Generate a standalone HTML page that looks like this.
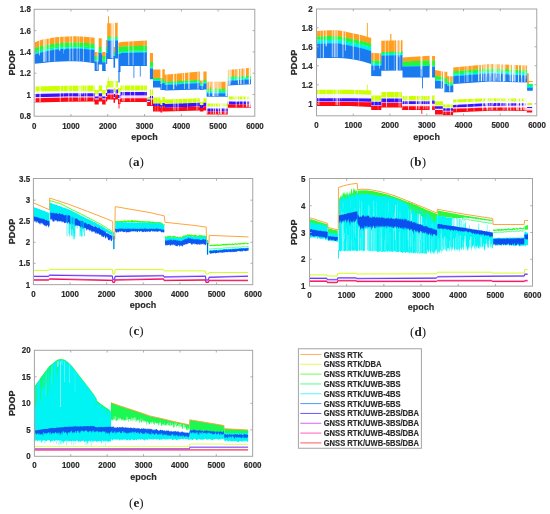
<!DOCTYPE html>
<html><head><meta charset="utf-8"><title>PDOP</title>
<style>
html,body{margin:0;padding:0;background:#fff;}
body{width:550px;height:514px;overflow:hidden;}
svg{display:block;}
svg text{font-family:"Liberation Sans",sans-serif;font-weight:bold;fill:#2a2a2a;stroke:#2a2a2a;stroke-width:0.18px;}
svg text.cap{font-family:"Liberation Serif",serif;font-weight:normal;fill:#222;stroke:none;}
svg text.cap tspan{font-weight:bold;}
</style></head><body>
<svg width="550" height="514" viewBox="0 0 550 514">
<rect width="550" height="514" fill="#fff"/>
<polygon points="34.6,42.2 42.7,39.6 49.1,38.4 55.5,37.3 61.8,36.7 68.2,36.5 74.5,36.3 80.9,36.5 87.3,37 94.6,37.7 94.6,52.1 98.7,52.1 98.7,38.3 102.1,38.3 102.1,52.1 105.9,52.1 105.9,40 107.2,40 107.2,23.2 113.5,23.2 113.5,47 115.1,47 115.1,22.8 118,22.8 118,42.5 120.5,42.5 120.5,41.9 146.9,40.4 146.9,72 149.9,72 149.9,53.1 153,53.1 153,69.6 160.4,69.6 160.4,78 162.3,78 162.3,69.3 164.8,69.3 164.8,74.7 199.8,71.5 199.8,80.5 203.4,80.5 203.4,71.5 206.6,71.5 206.6,81.7 227.8,81.7 227.8,70 251,67.7 251,75.75 227.8,76.85 227.8,88.95 206.6,88.95 206.6,80.05 203.4,80.05 203.4,83.25 199.8,83.25 199.8,80.05 164.8,81.95 164.8,79.25 162.3,79.25 162.3,81.25 160.4,81.25 160.4,78.15 153,78.15 153,62.25 149.9,62.25 149.9,72 146.9,72 146.9,45.75 120.5,46.65 120.5,47.25 118,47.25 118,36.45 115.1,36.45 115.1,52.25 113.5,52.25 113.5,37.05 107.2,37.05 107.2,47.25 105.9,47.25 105.9,56.15 102.1,56.15 102.1,47.25 98.7,47.25 98.7,56.15 94.6,56.15 94.6,43.95 87.3,43.25 80.9,42.75 74.5,42.55 68.2,42.75 61.8,42.95 55.5,43.55 49.1,44.65 42.7,45.85 34.6,48.45" fill="#ff9e20"/>
<polygon points="34.6,48.2 42.7,45.6 49.1,44.4 55.5,43.3 61.8,42.7 68.2,42.5 74.5,42.3 80.9,42.5 87.3,43 94.6,43.7 94.6,55.9 98.7,55.9 98.7,47 102.1,47 102.1,55.9 105.9,55.9 105.9,47 107.2,47 107.2,36.8 113.5,36.8 113.5,52 115.1,52 115.1,36.2 118,36.2 118,47 120.5,47 120.5,46.4 146.9,45.5 146.9,72 149.9,72 149.9,62 153,62 153,77.9 160.4,77.9 160.4,81 162.3,81 162.3,79 164.8,79 164.8,81.7 199.8,79.8 199.8,83 203.4,83 203.4,79.8 206.6,79.8 206.6,88.7 227.8,88.7 227.8,76.6 251,75.5 251,77.75 227.8,78.75 227.8,90.85 206.6,90.85 206.6,81.95 203.4,81.95 203.4,84.75 199.8,84.75 199.8,81.95 164.8,83.85 164.8,81.25 162.3,81.25 162.3,82.75 160.4,82.75 160.4,80.05 153,80.05 153,66.75 149.9,66.75 149.9,72 146.9,72 146.9,50.25 120.5,51.25 120.5,51.25 118,51.25 118,38.55 115.1,38.55 115.1,54.25 113.5,54.25 113.5,38.75 107.2,38.75 107.2,50.25 105.9,50.25 105.9,59.75 102.1,59.75 102.1,51.05 98.7,51.05 98.7,59.95 94.6,59.95 94.6,47.35 87.3,46.65 80.9,46.15 74.5,45.95 68.2,46.15 61.8,46.35 55.5,46.95 49.1,48.05 42.7,49.25 34.6,51.85" fill="#30f232"/>
<polygon points="34.6,51.6 42.7,49 49.1,47.8 55.5,46.7 61.8,46.1 68.2,45.9 74.5,45.7 80.9,45.9 87.3,46.4 94.6,47.1 94.6,59.7 98.7,59.7 98.7,50.8 102.1,50.8 102.1,59.5 105.9,59.5 105.9,50 107.2,50 107.2,38.5 113.5,38.5 113.5,54 115.1,54 115.1,38.3 118,38.3 118,51 120.5,51 120.5,51 146.9,50 146.9,72 149.9,72 149.9,66.5 153,66.5 153,79.8 160.4,79.8 160.4,82.5 162.3,82.5 162.3,81 164.8,81 164.8,83.6 199.8,81.7 199.8,84.5 203.4,84.5 203.4,81.7 206.6,81.7 206.6,90.6 227.8,90.6 227.8,78.5 251,77.5 251,78.45 227.8,79.45 227.8,92.15 206.6,92.15 206.6,82.55 203.4,82.55 203.4,84.95 199.8,84.95 199.8,81.95 164.8,83.85 164.8,81.95 162.3,81.95 162.3,82.95 160.4,82.95 160.4,80.05 153,80.05 153,67.45 149.9,67.45 149.9,72 146.9,72 146.9,51.45 120.5,52.05 120.5,52.95 118,52.95 118,39.35 115.1,39.35 115.1,54.95 113.5,54.95 113.5,39.35 107.2,39.35 107.2,51.95 105.9,51.95 105.9,61.25 102.1,61.25 102.1,52.05 98.7,52.05 98.7,60.55 94.6,60.55 94.6,48.85 87.3,48.15 80.9,47.65 74.5,47.45 68.2,47.65 61.8,47.85 55.5,48.45 49.1,49.55 42.7,50.75 34.6,53.35" fill="#00ff66"/>
<polygon points="34.6,53.1 42.7,50.5 49.1,49.3 55.5,48.2 61.8,47.6 68.2,47.4 74.5,47.2 80.9,47.4 87.3,47.9 94.6,48.6 94.6,60.3 98.7,60.3 98.7,51.8 102.1,51.8 102.1,61 105.9,61 105.9,51.7 107.2,51.7 107.2,39.1 113.5,39.1 113.5,54.7 115.1,54.7 115.1,39.1 118,39.1 118,52.7 120.5,52.7 120.5,51.8 146.9,51.2 146.9,72 149.9,72 149.9,67.2 153,67.2 153,79.8 160.4,79.8 160.4,82.7 162.3,82.7 162.3,81.7 164.8,81.7 164.8,83.6 199.8,81.7 199.8,84.7 203.4,84.7 203.4,82.3 206.6,82.3 206.6,91.9 227.8,91.9 227.8,79.2 251,78.2 251,79.75 227.8,80.75 227.8,93.45 206.6,93.45 206.6,83.85 203.4,83.85 203.4,86.25 199.8,86.25 199.8,83.25 164.8,85.15 164.8,83.25 162.3,83.25 162.3,84.25 160.4,84.25 160.4,81.35 153,81.35 153,68.75 149.9,68.75 149.9,72 146.9,72 146.9,52.75 120.5,53.35 120.5,54.25 118,54.25 118,40.65 115.1,40.65 115.1,56.25 113.5,56.25 113.5,40.65 107.2,40.65 107.2,53.25 105.9,53.25 105.9,62.55 102.1,62.55 102.1,53.35 98.7,53.35 98.7,61.85 94.6,61.85 94.6,50.25 87.3,49.55 80.9,49.05 74.5,48.85 68.2,49.05 61.8,49.25 55.5,49.85 49.1,50.95 42.7,52.15 34.6,54.75" fill="#00f0f0"/>
<polygon points="34.6,54.5 42.7,51.9 49.1,50.7 55.5,49.6 61.8,49 68.2,48.8 74.5,48.6 80.9,48.8 87.3,49.3 94.6,50 94.6,61.6 98.7,61.6 98.7,53.1 102.1,53.1 102.1,62.3 105.9,62.3 105.9,53 107.2,53 107.2,40.4 113.5,40.4 113.5,56 115.1,56 115.1,40.4 118,40.4 118,54 120.5,54 120.5,53.1 146.9,52.5 146.9,72 149.9,72 149.9,68.5 153,68.5 153,81.1 160.4,81.1 160.4,84 162.3,84 162.3,83 164.8,83 164.8,84.9 199.8,83 199.8,86 203.4,86 203.4,83.6 206.6,83.6 206.6,93.2 227.8,93.2 227.8,80.5 251,79.5 251,84.3 227.8,85.5 227.8,96.7 206.6,96.7 206.6,89.4 203.4,89.4 203.4,90 199.8,90 199.8,89.4 164.8,90.4 164.8,90 162.3,90 162.3,90 160.4,90 160.4,87.5 153,87.5 153,79.2 149.9,79.2 149.9,72 146.9,72 146.9,65.8 120.5,66.1 120.5,72 118,72 118,58.5 115.1,58.5 115.1,67.7 113.5,67.7 113.5,59.1 107.2,59.1 107.2,64 105.9,64 105.9,70.9 102.1,70.9 102.1,64.5 98.7,64.5 98.7,70.9 94.6,70.9 94.6,63.3 87.3,62.3 80.9,61.6 74.5,61.3 68.2,61.3 61.8,61.4 55.5,61.8 49.1,62.3 42.7,62.9 34.6,63.8" fill="#1a7af0"/>
<line x1="108.5" y1="16.2" x2="108.5" y2="24" stroke="#ff9e20" stroke-width="1"/>
<line x1="119" y1="70" x2="119" y2="82.4" stroke="#1a7af0" stroke-width="1.2"/>
<line x1="133.9" y1="65" x2="133.9" y2="77.9" stroke="#1a7af0" stroke-width="0.8"/>
<line x1="140.3" y1="65" x2="140.3" y2="76.6" stroke="#1a7af0" stroke-width="0.8"/>
<rect x="89.8" y="36.97" width="0.61" height="25.36" fill="#fff" opacity="0.74"/>
<rect x="97.01" y="51.8" width="0.54" height="18.77" fill="#fff" opacity="0.7"/>
<rect x="46.29" y="38.57" width="0.56" height="23.08" fill="#fff" opacity="0.56"/>
<rect x="72.39" y="36.05" width="0.94" height="24.54" fill="#fff" opacity="0.68"/>
<rect x="201.66" y="80.2" width="0.53" height="9.3" fill="#fff" opacity="0.56"/>
<rect x="54.43" y="37.12" width="0.72" height="24.31" fill="#fff" opacity="0.76"/>
<rect x="143.73" y="40.26" width="0.76" height="25.23" fill="#fff" opacity="0.53"/>
<rect x="69.41" y="36.15" width="0.98" height="24.63" fill="#fff" opacity="0.76"/>
<rect x="111.92" y="22.9" width="0.71" height="35.41" fill="#fff" opacity="0.61"/>
<rect x="132.62" y="40.89" width="0.87" height="24.26" fill="#fff" opacity="0.63"/>
<rect x="202.31" y="80.2" width="0.58" height="8.97" fill="#fff" opacity="0.57"/>
<rect x="118.14" y="42.2" width="0.53" height="28.96" fill="#fff" opacity="0.76"/>
<rect x="184.3" y="72.58" width="0.72" height="16.53" fill="#fff" opacity="0.76"/>
<rect x="112.25" y="22.9" width="1.09" height="35.57" fill="#fff" opacity="0.8"/>
<rect x="44.5" y="38.87" width="0.99" height="22.82" fill="#fff" opacity="0.87"/>
<rect x="82.99" y="36.39" width="0.77" height="25.16" fill="#fff" opacity="0.71"/>
<rect x="63.11" y="36.35" width="0.58" height="17.21" fill="#fff" opacity="0.56"/>
<rect x="76.65" y="36.08" width="0.77" height="24.98" fill="#fff" opacity="0.7"/>
<rect x="128.21" y="41.13" width="1.12" height="23.97" fill="#fff" opacity="0.63"/>
<rect x="105.41" y="51.8" width="0.75" height="18.13" fill="#fff" opacity="0.57"/>
<rect x="64.47" y="36.31" width="0.66" height="13.72" fill="#fff" opacity="0.77"/>
<rect x="79.38" y="36.16" width="0.5" height="24.82" fill="#fff" opacity="0.75"/>
<rect x="197.47" y="71.37" width="0.98" height="17.35" fill="#fff" opacity="0.8"/>
<rect x="43.29" y="39.08" width="1.13" height="22.8" fill="#fff" opacity="0.86"/>
<rect x="101.46" y="38" width="0.78" height="16.47" fill="#fff" opacity="0.53"/>
<rect x="45.82" y="38.65" width="0.65" height="11.4" fill="#fff" opacity="0.52"/>
<rect x="34.34" y="41.89" width="0.61" height="10.71" fill="#fff" opacity="0.51"/>
<rect x="184" y="72.6" width="0.93" height="7.52" fill="#fff" opacity="0.66"/>
<rect x="96.72" y="51.8" width="0.59" height="18.1" fill="#fff" opacity="0.71"/>
<rect x="117.25" y="22.5" width="0.56" height="17.13" fill="#fff" opacity="0.62"/>
<rect x="176.36" y="73.32" width="0.61" height="13.05" fill="#fff" opacity="0.74"/>
<rect x="59.29" y="36.6" width="0.88" height="14.2" fill="#fff" opacity="0.94"/>
<rect x="182.08" y="72.77" width="0.99" height="8.43" fill="#fff" opacity="0.58"/>
<rect x="166.47" y="74.21" width="0.87" height="15.6" fill="#fff" opacity="0.6"/>
<rect x="173.1" y="73.59" width="1.19" height="15.69" fill="#fff" opacity="0.87"/>
<rect x="161.08" y="77.7" width="0.66" height="11.75" fill="#fff" opacity="0.51"/>
<rect x="39.04" y="40.36" width="0.7" height="14.91" fill="#fff" opacity="0.93"/>
<rect x="110.68" y="22.9" width="1.16" height="35.23" fill="#fff" opacity="0.66"/>
<rect x="72.06" y="36.07" width="0.66" height="10.33" fill="#fff" opacity="0.78"/>
<rect x="188.37" y="72.2" width="1.09" height="16.76" fill="#fff" opacity="0.86"/>
<rect x="48.65" y="38.09" width="0.96" height="23.36" fill="#fff" opacity="0.84"/>
<rect x="227.57" y="69.7" width="0.51" height="15.27" fill="#fff" opacity="0.9"/>
<rect x="249.42" y="67.52" width="0.64" height="15.88" fill="#fff" opacity="0.86"/>
<rect x="213.91" y="81.4" width="0.48" height="11.59" fill="#fff" opacity="0.9"/>
<rect x="212.64" y="81.4" width="0.9" height="14.54" fill="#fff" opacity="0.68"/>
<rect x="230.72" y="69.39" width="0.48" height="12.59" fill="#fff" opacity="0.82"/>
<rect x="229.5" y="69.48" width="0.96" height="14.99" fill="#fff" opacity="0.91"/>
<rect x="215.69" y="81.4" width="0.55" height="6.6" fill="#fff" opacity="0.79"/>
<rect x="217.79" y="81.4" width="0.65" height="11.63" fill="#fff" opacity="0.68"/>
<rect x="226.57" y="81.4" width="0.75" height="14.71" fill="#fff" opacity="0.96"/>
<rect x="228.51" y="69.59" width="0.72" height="15.54" fill="#fff" opacity="0.72"/>
<rect x="214.53" y="81.4" width="0.4" height="14.88" fill="#fff" opacity="0.74"/>
<rect x="238.43" y="68.61" width="0.73" height="9.26" fill="#fff" opacity="0.78"/>
<rect x="241.19" y="68.35" width="0.46" height="15.97" fill="#fff" opacity="0.64"/>
<rect x="240.54" y="68.4" width="0.7" height="15.59" fill="#fff" opacity="0.96"/>
<rect x="225.9" y="81.4" width="0.77" height="14.64" fill="#fff" opacity="0.85"/>
<rect x="226.32" y="81.4" width="0.72" height="14.34" fill="#fff" opacity="0.85"/>
<rect x="245.04" y="67.94" width="0.97" height="9.77" fill="#fff" opacity="0.97"/>
<rect x="243.65" y="68.1" width="0.48" height="8.77" fill="#fff" opacity="0.54"/>
<rect x="217.06" y="81.4" width="0.44" height="14.45" fill="#fff" opacity="0.95"/>
<rect x="213.04" y="81.4" width="0.83" height="14.9" fill="#fff" opacity="0.94"/>
<rect x="249.29" y="67.54" width="0.53" height="16.25" fill="#fff" opacity="0.74"/>
<rect x="250.1" y="67.44" width="0.9" height="8.85" fill="#fff" opacity="0.76"/>
<rect x="221.4" y="81.4" width="0.52" height="10.22" fill="#fff" opacity="0.51"/>
<rect x="230.87" y="69.36" width="0.66" height="7.59" fill="#fff" opacity="0.81"/>
<rect x="229.13" y="69.55" width="0.44" height="15.02" fill="#fff" opacity="0.99"/>
<rect x="210.97" y="81.4" width="0.56" height="10.64" fill="#fff" opacity="0.64"/>
<rect x="212.03" y="81.4" width="0.65" height="14.43" fill="#fff" opacity="0.63"/>
<rect x="212.76" y="81.4" width="0.95" height="14.51" fill="#fff" opacity="0.54"/>
<rect x="208.75" y="81.4" width="0.81" height="14.95" fill="#fff" opacity="0.97"/>
<rect x="234.33" y="69.01" width="0.88" height="11.83" fill="#fff" opacity="0.53"/>
<rect x="244.57" y="68" width="0.67" height="9.7" fill="#fff" opacity="0.96"/>
<rect x="218.25" y="81.4" width="0.48" height="14.83" fill="#fff" opacity="0.55"/>
<rect x="213.55" y="81.4" width="0.43" height="7.14" fill="#fff" opacity="0.65"/>
<rect x="240.03" y="68.46" width="0.57" height="15.97" fill="#fff" opacity="0.67"/>
<rect x="207.13" y="81.4" width="0.55" height="10.3" fill="#fff" opacity="0.78"/>
<rect x="214.67" y="81.4" width="0.68" height="14.93" fill="#fff" opacity="0.91"/>
<rect x="225.44" y="81.4" width="0.7" height="14.72" fill="#fff" opacity="0.75"/>
<rect x="236.64" y="68.77" width="0.99" height="11.72" fill="#fff" opacity="0.85"/>
<rect x="234.52" y="69" width="0.64" height="5.48" fill="#fff" opacity="0.56"/>
<rect x="209.32" y="81.4" width="0.84" height="6.02" fill="#fff" opacity="0.54"/>
<rect x="243.49" y="68.1" width="0.92" height="16.07" fill="#fff" opacity="0.62"/>
<rect x="219.27" y="81.4" width="0.68" height="8.14" fill="#fff" opacity="0.63"/>
<rect x="248.81" y="67.57" width="0.98" height="16.35" fill="#fff" opacity="0.98"/>
<rect x="220.04" y="81.4" width="0.61" height="7.66" fill="#fff" opacity="0.74"/>
<rect x="228.66" y="69.59" width="0.52" height="15.55" fill="#fff" opacity="0.63"/>
<rect x="210.27" y="81.4" width="0.64" height="4.97" fill="#fff" opacity="0.65"/>
<rect x="216.56" y="81.4" width="0.75" height="14.47" fill="#fff" opacity="0.83"/>
<rect x="237.93" y="68.65" width="0.93" height="15.77" fill="#fff" opacity="0.99"/>
<polygon points="34.6,86.5 68,85.8 94.6,85.5 94.6,90 98.7,90 98.7,85.5 102.1,85.5 102.1,90 105.9,90 105.9,85.5 107.2,85.5 107.2,81.1 113.5,81.1 113.5,88 115.1,88 115.1,81.1 118,81.1 118,88 120.5,88 120.5,85.5 146.9,85.5 146.9,97 149.9,97 149.9,89.4 153,89.4 153,97.6 160.4,97.6 160.4,100 162.3,100 162.3,97 164.8,97 164.8,99.5 199.8,98.3 199.8,102 203.4,102 203.4,98.3 206.6,98.3 206.6,103.4 227.8,103.4 227.8,96.4 251,96.4 251,99.75 227.8,99.75 227.8,106.75 206.6,106.75 206.6,102.75 203.4,102.75 203.4,105.05 199.8,105.05 199.8,102.75 164.8,104.05 164.8,103.05 162.3,103.05 162.3,105.05 160.4,105.05 160.4,103.45 153,103.45 153,95.95 149.9,95.95 149.9,99.25 146.9,99.25 146.9,90.75 120.5,90.75 120.5,93.25 118,93.25 118,87.75 115.1,87.75 115.1,92.25 113.5,92.25 113.5,87.75 107.2,87.75 107.2,91.25 105.9,91.25 105.9,94.75 102.1,94.75 102.1,91.75 98.7,91.75 98.7,94.75 94.6,94.75 94.6,91.75 68,91.45 34.6,91.85" fill="#ccff00"/>
<polygon points="34.6,91.6 68,91.2 94.6,91.5 94.6,94.5 98.7,94.5 98.7,91.5 102.1,91.5 102.1,94.5 105.9,94.5 105.9,91 107.2,91 107.2,87.5 113.5,87.5 113.5,92 115.1,92 115.1,87.5 118,87.5 118,93 120.5,93 120.5,90.5 146.9,90.5 146.9,99 149.9,99 149.9,95.7 153,95.7 153,103.2 160.4,103.2 160.4,104.8 162.3,104.8 162.3,102.8 164.8,102.8 164.8,103.8 199.8,102.5 199.8,104.8 203.4,104.8 203.4,102.5 206.6,102.5 206.6,106.5 227.8,106.5 227.8,99.5 251,99.5 251,101.75 227.8,101.75 227.8,108.75 206.6,108.75 206.6,102.95 203.4,102.95 203.4,105.25 199.8,105.25 199.8,102.95 164.8,104.25 164.8,103.25 162.3,103.25 162.3,105.25 160.4,105.25 160.4,103.65 153,103.65 153,96.25 149.9,96.25 149.9,99.75 146.9,99.75 146.9,92.15 120.5,92.15 120.5,95.25 118,95.25 118,89.65 115.1,89.65 115.1,94.25 113.5,94.25 113.5,89.65 107.2,89.65 107.2,93.25 105.9,93.25 105.9,96.65 102.1,96.65 102.1,93.45 98.7,93.45 98.7,96.65 94.6,96.65 94.6,93.45 68,93.55 34.6,94.35" fill="#f4f0ff"/>
<polygon points="34.6,94.1 68,93.3 94.6,93.2 94.6,96.4 98.7,96.4 98.7,93.2 102.1,93.2 102.1,96.4 105.9,96.4 105.9,93 107.2,93 107.2,89.4 113.5,89.4 113.5,94 115.1,94 115.1,89.4 118,89.4 118,95 120.5,95 120.5,91.9 146.9,91.9 146.9,99.5 149.9,99.5 149.9,96 153,96 153,103.4 160.4,103.4 160.4,105 162.3,105 162.3,103 164.8,103 164.8,104 199.8,102.7 199.8,105 203.4,105 203.4,102.7 206.6,102.7 206.6,108.5 227.8,108.5 227.8,101.5 251,101.5 251,104.85 227.8,104.85 227.8,111.85 206.6,111.85 206.6,106.75 203.4,106.75 203.4,108.25 199.8,108.25 199.8,106.75 164.8,108.05 164.8,106.25 162.3,106.25 162.3,108.25 160.4,108.25 160.4,106.15 153,106.15 153,98.75 149.9,98.75 149.9,101.25 146.9,101.25 146.9,95.75 120.5,95.75 120.5,98.25 118,98.25 118,93.75 115.1,93.75 115.1,97.25 113.5,97.25 113.5,93.75 107.2,93.75 107.2,96.25 105.9,96.25 105.9,98.75 102.1,98.75 102.1,96.85 98.7,96.85 98.7,98.75 94.6,98.75 94.6,96.85 68,96.75 34.6,97.45" fill="#3a14ff"/>
<polygon points="34.6,97.2 68,96.5 94.6,96.6 94.6,98.5 98.7,98.5 98.7,96.6 102.1,96.6 102.1,98.5 105.9,98.5 105.9,96 107.2,96 107.2,93.5 113.5,93.5 113.5,97 115.1,97 115.1,93.5 118,93.5 118,98 120.5,98 120.5,95.5 146.9,95.5 146.9,101 149.9,101 149.9,98.5 153,98.5 153,105.9 160.4,105.9 160.4,108 162.3,108 162.3,106 164.8,106 164.8,107.8 199.8,106.5 199.8,108 203.4,108 203.4,106.5 206.6,106.5 206.6,111.6 227.8,111.6 227.8,104.6 251,104.6 251,104.85 227.8,104.85 227.8,111.85 206.6,111.85 206.6,106.75 203.4,106.75 203.4,108.25 199.8,108.25 199.8,106.75 164.8,108.05 164.8,106.25 162.3,106.25 162.3,108.25 160.4,108.25 160.4,106.15 153,106.15 153,99.75 149.9,99.75 149.9,102.25 146.9,102.25 146.9,98.55 120.5,98.55 120.5,99.25 118,99.25 118,94.75 115.1,94.75 115.1,98.25 113.5,98.25 113.5,94.75 107.2,94.75 107.2,97.25 105.9,97.25 105.9,99.75 102.1,99.75 102.1,97.85 98.7,97.85 98.7,99.75 94.6,99.75 94.6,97.85 68,97.75 34.6,98.45" fill="#ffd0f0"/>
<polygon points="34.6,98.2 68,97.5 94.6,97.6 94.6,99.5 98.7,99.5 98.7,97.6 102.1,97.6 102.1,99.5 105.9,99.5 105.9,97 107.2,97 107.2,94.5 113.5,94.5 113.5,98 115.1,98 115.1,94.5 118,94.5 118,99 120.5,99 120.5,98.3 146.9,98.3 146.9,102 149.9,102 149.9,99.5 153,99.5 153,105.9 160.4,105.9 160.4,108 162.3,108 162.3,106 164.8,106 164.8,107.8 199.8,106.5 199.8,108 203.4,108 203.4,106.5 206.6,106.5 206.6,111.6 227.8,111.6 227.8,104.6 251,104.6 251,107.8 227.8,107.8 227.8,114.6 206.6,114.6 206.6,110.4 203.4,110.4 203.4,111.5 199.8,111.5 199.8,110.4 164.8,111.6 164.8,111.6 162.3,111.6 162.3,112.5 160.4,112.5 160.4,111.6 153,111.6 153,105.9 149.9,105.9 149.9,106 146.9,106 146.9,102.1 120.5,102.1 120.5,104 118,104 118,99.5 115.1,99.5 115.1,102.7 113.5,102.7 113.5,99.5 107.2,99.5 107.2,101.5 105.9,101.5 105.9,104.6 102.1,104.6 102.1,101.5 98.7,101.5 98.7,104.6 94.6,104.6 94.6,101.5 68,101.7 34.6,102.6" fill="#ff0a14"/>
<line x1="108.3" y1="77.3" x2="108.3" y2="82" stroke="#ccff00" stroke-width="0.8"/>
<line x1="119" y1="103" x2="119" y2="108.5" stroke="#ff0a14" stroke-width="0.9"/>
<rect x="59.8" y="85.66" width="0.83" height="15.92" fill="#fff" opacity="0.82"/>
<rect x="187.09" y="98.42" width="0.78" height="11.53" fill="#fff" opacity="0.47"/>
<rect x="124.02" y="85.2" width="0.7" height="16.04" fill="#fff" opacity="0.81"/>
<rect x="134.24" y="85.2" width="0.94" height="16.11" fill="#fff" opacity="0.51"/>
<rect x="39.7" y="86.09" width="0.48" height="15.99" fill="#fff" opacity="0.82"/>
<rect x="129.94" y="85.2" width="0.78" height="16.12" fill="#fff" opacity="0.64"/>
<rect x="34.73" y="86.19" width="0.88" height="15.74" fill="#fff" opacity="0.67"/>
<rect x="147.38" y="96.7" width="0.44" height="8.82" fill="#fff" opacity="0.44"/>
<rect x="79.7" y="85.36" width="0.84" height="10.98" fill="#fff" opacity="0.89"/>
<rect x="118.95" y="87.7" width="0.63" height="15.52" fill="#fff" opacity="0.78"/>
<rect x="139.96" y="85.2" width="0.79" height="6.5" fill="#fff" opacity="0.53"/>
<rect x="161.7" y="99.7" width="0.58" height="12.49" fill="#fff" opacity="0.43"/>
<rect x="80.27" y="85.36" width="0.8" height="15.47" fill="#fff" opacity="0.55"/>
<rect x="122.79" y="85.2" width="0.68" height="16.52" fill="#fff" opacity="0.85"/>
<rect x="68.26" y="85.49" width="0.99" height="15.89" fill="#fff" opacity="0.63"/>
<rect x="174.64" y="98.85" width="0.98" height="11.91" fill="#fff" opacity="0.5"/>
<rect x="196.41" y="98.11" width="0.53" height="12" fill="#fff" opacity="0.66"/>
<rect x="197.66" y="98.07" width="0.48" height="11.74" fill="#fff" opacity="0.84"/>
<rect x="154.88" y="97.3" width="0.54" height="13.66" fill="#fff" opacity="0.41"/>
<rect x="34.87" y="86.19" width="0.7" height="15.88" fill="#fff" opacity="0.47"/>
<rect x="93.26" y="85.21" width="0.59" height="15.99" fill="#fff" opacity="0.78"/>
<rect x="178.19" y="98.73" width="0.47" height="11.6" fill="#fff" opacity="0.85"/>
<rect x="83.97" y="85.32" width="0.62" height="15.26" fill="#fff" opacity="0.69"/>
<rect x="96.1" y="89.7" width="0.66" height="5.03" fill="#fff" opacity="0.45"/>
<rect x="177.38" y="98.76" width="0.57" height="11.93" fill="#fff" opacity="0.53"/>
<rect x="121.92" y="85.2" width="0.51" height="15.93" fill="#fff" opacity="0.84"/>
<rect x="173.38" y="98.89" width="0.78" height="11.44" fill="#fff" opacity="0.67"/>
<rect x="157.72" y="97.3" width="0.43" height="13.68" fill="#fff" opacity="0.78"/>
<rect x="144.78" y="85.2" width="0.57" height="12.97" fill="#fff" opacity="0.46"/>
<rect x="115.23" y="80.8" width="0.61" height="12.62" fill="#fff" opacity="0.89"/>
<rect x="78.8" y="85.37" width="0.79" height="9.53" fill="#fff" opacity="0.6"/>
<rect x="63.03" y="85.6" width="0.5" height="12.29" fill="#fff" opacity="0.65"/>
<rect x="71.84" y="85.45" width="0.94" height="15.6" fill="#fff" opacity="0.47"/>
<rect x="67.35" y="85.51" width="0.45" height="5.8" fill="#fff" opacity="0.52"/>
<rect x="78.51" y="85.38" width="0.74" height="15.42" fill="#fff" opacity="0.61"/>
<rect x="105.18" y="89.7" width="0.71" height="14.36" fill="#fff" opacity="0.43"/>
<rect x="81.68" y="85.34" width="0.98" height="9.1" fill="#fff" opacity="0.71"/>
<rect x="182.23" y="98.59" width="0.53" height="5.43" fill="#fff" opacity="0.6"/>
<rect x="110.53" y="80.8" width="0.97" height="17.79" fill="#fff" opacity="0.41"/>
<rect x="39.71" y="86.08" width="0.83" height="15.74" fill="#fff" opacity="0.69"/>
<rect x="34.31" y="86.2" width="0.63" height="15.52" fill="#fff" opacity="0.83"/>
<rect x="200.97" y="101.7" width="0.55" height="3.88" fill="#fff" opacity="0.66"/>
<rect x="151.03" y="89.1" width="0.96" height="16.05" fill="#fff" opacity="0.78"/>
<rect x="112.62" y="80.8" width="0.73" height="13.02" fill="#fff" opacity="0.52"/>
<rect x="191.88" y="98.26" width="0.79" height="4.7" fill="#fff" opacity="0.53"/>
<rect x="143.25" y="85.2" width="0.82" height="5.86" fill="#fff" opacity="0.66"/>
<rect x="134.19" y="85.2" width="0.63" height="10.27" fill="#fff" opacity="0.41"/>
<rect x="85.94" y="85.29" width="0.68" height="15.52" fill="#fff" opacity="0.84"/>
<rect x="115.8" y="80.8" width="0.54" height="14.66" fill="#fff" opacity="0.75"/>
<rect x="87.08" y="85.28" width="0.41" height="15.5" fill="#fff" opacity="0.61"/>
<rect x="78.29" y="85.38" width="0.8" height="15.78" fill="#fff" opacity="0.42"/>
<rect x="221.28" y="103.1" width="0.65" height="11.06" fill="#fff" opacity="0.9"/>
<rect x="239.07" y="96.1" width="0.7" height="9.25" fill="#fff" opacity="0.66"/>
<rect x="242.74" y="96.1" width="0.54" height="8.05" fill="#fff" opacity="0.65"/>
<rect x="248.52" y="96.1" width="0.7" height="4.99" fill="#fff" opacity="0.71"/>
<rect x="235.65" y="96.1" width="0.97" height="5.96" fill="#fff" opacity="0.61"/>
<rect x="249.61" y="96.1" width="0.49" height="4.06" fill="#fff" opacity="0.7"/>
<rect x="246.01" y="96.1" width="0.93" height="10.7" fill="#fff" opacity="0.97"/>
<rect x="220.96" y="103.1" width="0.51" height="10.68" fill="#fff" opacity="0.52"/>
<rect x="235.79" y="96.1" width="0.63" height="11.17" fill="#fff" opacity="0.58"/>
<rect x="206.44" y="103.1" width="0.57" height="10.53" fill="#fff" opacity="0.56"/>
<rect x="249.15" y="96.1" width="0.52" height="10.82" fill="#fff" opacity="0.91"/>
<rect x="225.59" y="103.1" width="0.43" height="10.94" fill="#fff" opacity="0.96"/>
<rect x="214.86" y="103.1" width="0.62" height="11.18" fill="#fff" opacity="0.71"/>
<rect x="242.22" y="96.1" width="0.86" height="3.92" fill="#fff" opacity="0.53"/>
<rect x="247.17" y="96.1" width="0.55" height="10.77" fill="#fff" opacity="0.67"/>
<rect x="218.2" y="103.1" width="0.97" height="11.02" fill="#fff" opacity="0.86"/>
<rect x="220.37" y="103.1" width="0.57" height="7.89" fill="#fff" opacity="0.96"/>
<rect x="234.27" y="96.1" width="0.97" height="5.05" fill="#fff" opacity="0.74"/>
<rect x="248.59" y="96.1" width="0.97" height="11.22" fill="#fff" opacity="0.71"/>
<rect x="228.03" y="96.1" width="0.96" height="8.29" fill="#fff" opacity="0.87"/>
<rect x="242.7" y="96.1" width="0.86" height="11.17" fill="#fff" opacity="0.66"/>
<rect x="222.23" y="103.1" width="0.87" height="4.76" fill="#fff" opacity="0.88"/>
<rect x="217.36" y="103.1" width="0.44" height="6.75" fill="#fff" opacity="0.66"/>
<rect x="249.66" y="96.1" width="0.93" height="11.21" fill="#fff" opacity="0.54"/>
<rect x="210.53" y="103.1" width="0.7" height="10.89" fill="#fff" opacity="0.62"/>
<rect x="224.72" y="103.1" width="0.77" height="10.68" fill="#fff" opacity="0.92"/>
<rect x="235.86" y="96.1" width="0.47" height="11.19" fill="#fff" opacity="0.78"/>
<rect x="222.74" y="103.1" width="0.84" height="5.05" fill="#fff" opacity="0.62"/>
<rect x="212.94" y="103.1" width="0.93" height="10.97" fill="#fff" opacity="0.7"/>
<rect x="250.31" y="96.1" width="0.7" height="8.33" fill="#fff" opacity="0.83"/>
<rect x="250.37" y="96.1" width="0.46" height="10.83" fill="#fff" opacity="0.92"/>
<rect x="246.99" y="96.1" width="0.42" height="4.4" fill="#fff" opacity="0.59"/>
<rect x="249.42" y="96.1" width="0.75" height="11.14" fill="#fff" opacity="0.93"/>
<rect x="226.26" y="103.1" width="0.56" height="10.54" fill="#fff" opacity="0.55"/>
<rect x="232.68" y="96.1" width="0.77" height="5.82" fill="#fff" opacity="0.57"/>
<rect x="215.38" y="103.1" width="0.55" height="10.74" fill="#fff" opacity="0.6"/>
<rect x="206.81" y="103.1" width="0.6" height="11.07" fill="#fff" opacity="0.66"/>
<rect x="215.19" y="103.1" width="0.88" height="11.16" fill="#fff" opacity="0.55"/>
<rect x="223.79" y="103.1" width="0.73" height="11.14" fill="#fff" opacity="0.58"/>
<rect x="237.15" y="96.1" width="0.65" height="5.47" fill="#fff" opacity="0.98"/>
<rect x="220.1" y="103.1" width="0.74" height="10.91" fill="#fff" opacity="0.93"/>
<rect x="250.54" y="96.1" width="0.62" height="7.87" fill="#fff" opacity="0.6"/>
<rect x="206.39" y="103.1" width="0.94" height="10.63" fill="#fff" opacity="0.7"/>
<rect x="245.46" y="96.1" width="0.68" height="3.8" fill="#fff" opacity="0.78"/>
<rect x="34.15" y="9.3" width="220.65" height="106.9" fill="none" stroke="#a4a4a4" stroke-width="1"/>
<text transform="translate(34.15,128.5) scale(0.945,1)" font-size="8.4" text-anchor="middle">0</text>
<line x1="70.95" y1="116.2" x2="70.95" y2="114" stroke="#a4a4a4" stroke-width="0.9"/>
<line x1="70.95" y1="9.3" x2="70.95" y2="11.5" stroke="#a4a4a4" stroke-width="0.9"/>
<text transform="translate(70.95,128.5) scale(0.945,1)" font-size="8.4" text-anchor="middle">1000</text>
<line x1="107.75" y1="116.2" x2="107.75" y2="114" stroke="#a4a4a4" stroke-width="0.9"/>
<line x1="107.75" y1="9.3" x2="107.75" y2="11.5" stroke="#a4a4a4" stroke-width="0.9"/>
<text transform="translate(107.75,128.5) scale(0.945,1)" font-size="8.4" text-anchor="middle">2000</text>
<line x1="144.55" y1="116.2" x2="144.55" y2="114" stroke="#a4a4a4" stroke-width="0.9"/>
<line x1="144.55" y1="9.3" x2="144.55" y2="11.5" stroke="#a4a4a4" stroke-width="0.9"/>
<text transform="translate(144.55,128.5) scale(0.945,1)" font-size="8.4" text-anchor="middle">3000</text>
<line x1="181.35" y1="116.2" x2="181.35" y2="114" stroke="#a4a4a4" stroke-width="0.9"/>
<line x1="181.35" y1="9.3" x2="181.35" y2="11.5" stroke="#a4a4a4" stroke-width="0.9"/>
<text transform="translate(181.35,128.5) scale(0.945,1)" font-size="8.4" text-anchor="middle">4000</text>
<line x1="218.15" y1="116.2" x2="218.15" y2="114" stroke="#a4a4a4" stroke-width="0.9"/>
<line x1="218.15" y1="9.3" x2="218.15" y2="11.5" stroke="#a4a4a4" stroke-width="0.9"/>
<text transform="translate(218.15,128.5) scale(0.945,1)" font-size="8.4" text-anchor="middle">5000</text>
<text transform="translate(254.95,128.5) scale(0.945,1)" font-size="8.4" text-anchor="middle">6000</text>
<text transform="translate(30.8,12.4) scale(0.945,1)" font-size="8.4" text-anchor="end">1.8</text>
<line x1="34.15" y1="30.6" x2="36.35" y2="30.6" stroke="#a4a4a4" stroke-width="0.9"/>
<line x1="254.8" y1="30.6" x2="252.6" y2="30.6" stroke="#a4a4a4" stroke-width="0.9"/>
<text transform="translate(30.8,33.7) scale(0.945,1)" font-size="8.4" text-anchor="end">1.6</text>
<line x1="34.15" y1="51.9" x2="36.35" y2="51.9" stroke="#a4a4a4" stroke-width="0.9"/>
<line x1="254.8" y1="51.9" x2="252.6" y2="51.9" stroke="#a4a4a4" stroke-width="0.9"/>
<text transform="translate(30.8,55) scale(0.945,1)" font-size="8.4" text-anchor="end">1.4</text>
<line x1="34.15" y1="73.2" x2="36.35" y2="73.2" stroke="#a4a4a4" stroke-width="0.9"/>
<line x1="254.8" y1="73.2" x2="252.6" y2="73.2" stroke="#a4a4a4" stroke-width="0.9"/>
<text transform="translate(30.8,76.3) scale(0.945,1)" font-size="8.4" text-anchor="end">1.2</text>
<line x1="34.15" y1="94.5" x2="36.35" y2="94.5" stroke="#a4a4a4" stroke-width="0.9"/>
<line x1="254.8" y1="94.5" x2="252.6" y2="94.5" stroke="#a4a4a4" stroke-width="0.9"/>
<text transform="translate(30.8,97.6) scale(0.945,1)" font-size="8.4" text-anchor="end">1</text>
<text transform="translate(30.8,118.9) scale(0.945,1)" font-size="8.4" text-anchor="end">0.8</text>
<text transform="translate(144.47,140.3) scale(0.940,1)" font-size="9.6" text-anchor="middle">epoch</text>
<text transform="translate(14.5,62.75) rotate(-90) scale(0.93,1)" font-size="9.7" text-anchor="middle">PDOP</text>
<text class="cap" x="136.3" y="166.1" font-size="13.1" text-anchor="middle">(<tspan>a</tspan>)</text>
<polygon points="316.6,30.9 324.7,30.4 331,30.2 337.5,30.3 343.8,31.3 350.2,32.8 356.5,34.1 362.9,35.6 367,36.7 371.2,37.9 371.2,52.8 381.3,53.6 381.3,40.8 402.5,40.2 402.5,57.6 429.6,55.7 429.6,70 432.1,70 432.1,55.9 435,55.9 435,70 442.9,71.5 442.9,85 444.2,85 444.2,71.8 447.3,71.8 447.3,76.3 453.3,76.3 453.3,67.4 490,63.9 490,63.9 527.1,65.5 527.1,73.3 528.7,73.3 528.7,81 532.8,81 532.8,84.15 528.7,84.15 528.7,84.15 527.1,84.15 527.1,70.15 490,68.55 490,68.55 453.3,71.45 453.3,81.65 447.3,81.65 447.3,78.25 444.2,78.25 444.2,85 442.9,85 442.9,77.05 435,76.05 435,60.65 432.1,60.65 432.1,70 429.6,70 429.6,60.45 402.5,61.75 402.5,51.75 381.3,52.15 381.3,60.85 371.2,60.45 371.2,43.75 367,42.55 362.9,41.45 356.5,39.95 350.2,38.65 343.8,37.15 337.5,36.15 331,36.05 324.7,36.25 316.6,36.75" fill="#ff9e20"/>
<polygon points="316.6,36.5 324.7,36 331,35.8 337.5,35.9 343.8,36.9 350.2,38.4 356.5,39.7 362.9,41.2 367,42.3 371.2,43.5 371.2,60.2 381.3,60.6 381.3,51.9 402.5,51.5 402.5,61.5 429.6,60.2 429.6,70 432.1,70 432.1,60.4 435,60.4 435,75.8 442.9,76.8 442.9,85 444.2,85 444.2,78 447.3,78 447.3,81.4 453.3,81.4 453.3,71.2 490,68.3 490,68.3 527.1,69.9 527.1,83.9 528.7,83.9 528.7,83.9 532.8,83.9 532.8,85.05 528.7,85.05 528.7,85.05 527.1,85.05 527.1,72.55 490,71.05 490,71.05 453.3,73.65 453.3,84.25 447.3,84.25 447.3,82.25 444.2,82.25 444.2,85 442.9,85 442.9,79.75 435,79.25 435,65.45 432.1,65.45 432.1,70 429.6,70 429.6,64.65 402.5,65.25 402.5,52.75 381.3,53.05 381.3,63.25 371.2,62.85 371.2,46.75 367,45.55 362.9,44.45 356.5,42.95 350.2,41.65 343.8,40.15 337.5,39.15 331,39.05 324.7,39.25 316.6,39.75" fill="#30f232"/>
<polygon points="316.6,39.5 324.7,39 331,38.8 337.5,38.9 343.8,39.9 350.2,41.4 356.5,42.7 362.9,44.2 367,45.3 371.2,46.5 371.2,62.6 381.3,63 381.3,52.8 402.5,52.5 402.5,65 429.6,64.4 429.6,70 432.1,70 432.1,65.2 435,65.2 435,79 442.9,79.5 442.9,85 444.2,85 444.2,82 447.3,82 447.3,84 453.3,84 453.3,73.4 490,70.8 490,70.8 527.1,72.3 527.1,84.8 528.7,84.8 528.7,84.8 532.8,84.8 532.8,86.05 528.7,86.05 528.7,86.05 527.1,86.05 527.1,73.55 490,72.05 490,72.05 453.3,74.65 453.3,85.25 447.3,85.25 447.3,83.25 444.2,83.25 444.2,85 442.9,85 442.9,80.75 435,80.25 435,66.45 432.1,66.45 432.1,70 429.6,70 429.6,65.65 402.5,66.25 402.5,53.75 381.3,54.05 381.3,64.25 371.2,63.85 371.2,47.75 367,46.55 362.9,45.45 356.5,43.95 350.2,42.65 343.8,41.15 337.5,40.15 331,40.05 324.7,40.25 316.6,40.75" fill="#00ff66"/>
<polygon points="316.6,40.5 324.7,40 331,39.8 337.5,39.9 343.8,40.9 350.2,42.4 356.5,43.7 362.9,45.2 367,46.3 371.2,47.5 371.2,63.6 381.3,64 381.3,53.8 402.5,53.5 402.5,66 429.6,65.4 429.6,70 432.1,70 432.1,66.2 435,66.2 435,80 442.9,80.5 442.9,85 444.2,85 444.2,83 447.3,83 447.3,85 453.3,85 453.3,74.4 490,71.8 490,71.8 527.1,73.3 527.1,85.8 528.7,85.8 528.7,85.8 532.8,85.8 532.8,87.95 528.7,87.95 528.7,87.95 527.1,87.95 527.1,75.85 490,73.55 490,73.55 453.3,76.55 453.3,86.05 447.3,86.05 447.3,84.25 444.2,84.25 444.2,85 442.9,85 442.9,81.45 435,80.95 435,66.95 432.1,66.95 432.1,70 429.6,70 429.6,66.15 402.5,66.75 402.5,55.45 381.3,55.75 381.3,66.05 371.2,65.65 371.2,51.15 367,49.95 362.9,48.85 356.5,47.35 350.2,46.05 343.8,44.55 337.5,43.55 331,43.45 324.7,43.65 316.6,44.15" fill="#00f0f0"/>
<polygon points="316.6,43.9 324.7,43.4 331,43.2 337.5,43.3 343.8,44.3 350.2,45.8 356.5,47.1 362.9,48.6 367,49.7 371.2,50.9 371.2,65.4 381.3,65.8 381.3,55.5 402.5,55.2 402.5,66.5 429.6,65.9 429.6,70 432.1,70 432.1,66.7 435,66.7 435,80.7 442.9,81.2 442.9,85 444.2,85 444.2,84 447.3,84 447.3,85.8 453.3,85.8 453.3,76.3 490,73.3 490,73.3 527.1,75.6 527.1,87.7 528.7,87.7 528.7,87.7 532.8,87.7 532.8,90.7 528.7,90.7 528.7,90.7 527.1,90.7 527.1,82.6 490,81.4 490,81.4 453.3,83.9 453.3,92.2 447.3,92.2 447.3,92.2 444.2,92.2 444.2,85 442.9,85 442.9,88.6 435,88.4 435,77.5 432.1,77.5 432.1,70 429.6,70 429.6,77.4 402.5,77.4 402.5,70.5 381.3,70.7 381.3,76.3 371.2,76.1 371.2,64 367,62.7 362.9,61.5 356.5,60 350.2,58.9 343.8,58.3 337.5,58 331,58 324.7,58.1 316.6,58.3" fill="#1a7af0"/>
<rect x="528.9" y="81.9" width="4.2" height="1.9" fill="#fff"/>
<line x1="367.4" y1="22.9" x2="367.4" y2="38" stroke="#ff9e20" stroke-width="0.9"/>
<line x1="390.8" y1="34.1" x2="390.8" y2="41" stroke="#ff9e20" stroke-width="1.2"/>
<line x1="422.5" y1="76" x2="422.5" y2="88.4" stroke="#1a7af0" stroke-width="0.9"/>
<line x1="396.9" y1="40" x2="396.9" y2="71" stroke="#fff" stroke-width="1.4"/>
<rect x="420.72" y="55.98" width="1.14" height="13.2" fill="#fff" opacity="0.67"/>
<rect x="398.73" y="40" width="0.6" height="17.25" fill="#fff" opacity="0.92"/>
<rect x="333.96" y="29.95" width="0.84" height="27.07" fill="#fff" opacity="0.59"/>
<rect x="336.71" y="30" width="1.16" height="27.37" fill="#fff" opacity="0.52"/>
<rect x="467.55" y="65.7" width="0.77" height="16.46" fill="#fff" opacity="0.87"/>
<rect x="342.26" y="30.84" width="1.05" height="13.92" fill="#fff" opacity="0.88"/>
<rect x="451.78" y="76" width="0.63" height="8.25" fill="#fff" opacity="0.73"/>
<rect x="378.98" y="53.14" width="0.59" height="15.42" fill="#fff" opacity="0.9"/>
<rect x="322.87" y="30.19" width="0.89" height="27.62" fill="#fff" opacity="0.88"/>
<rect x="335.38" y="29.97" width="0.92" height="27.29" fill="#fff" opacity="0.64"/>
<rect x="384.79" y="40.39" width="0.91" height="29.51" fill="#fff" opacity="0.7"/>
<rect x="387.97" y="40.3" width="0.52" height="29.69" fill="#fff" opacity="0.61"/>
<rect x="440.84" y="70.91" width="1.05" height="17.23" fill="#fff" opacity="0.71"/>
<rect x="333.8" y="29.95" width="0.59" height="27.69" fill="#fff" opacity="0.7"/>
<rect x="399.7" y="39.97" width="0.53" height="30.19" fill="#fff" opacity="0.83"/>
<rect x="443.24" y="84.7" width="0.86" height="0.3" fill="#fff" opacity="0.67"/>
<rect x="471.67" y="65.32" width="0.6" height="16.31" fill="#fff" opacity="0.83"/>
<rect x="449.45" y="76" width="0.64" height="15.56" fill="#fff" opacity="0.93"/>
<rect x="465.97" y="65.86" width="0.62" height="16.2" fill="#fff" opacity="0.53"/>
<rect x="373.42" y="52.72" width="1.03" height="17.61" fill="#fff" opacity="0.62"/>
<rect x="449.57" y="76" width="0.6" height="15.26" fill="#fff" opacity="0.59"/>
<rect x="359.13" y="34.52" width="0.85" height="8.55" fill="#fff" opacity="0.58"/>
<rect x="342.37" y="30.86" width="1.16" height="26.47" fill="#fff" opacity="0.58"/>
<rect x="444.56" y="71.5" width="0.58" height="19.95" fill="#fff" opacity="0.66"/>
<rect x="458.8" y="66.53" width="0.89" height="16.04" fill="#fff" opacity="0.55"/>
<rect x="478.38" y="64.66" width="0.94" height="16.64" fill="#fff" opacity="0.62"/>
<rect x="478" y="64.7" width="0.9" height="16.65" fill="#fff" opacity="0.7"/>
<rect x="344.97" y="31.39" width="1.02" height="19.3" fill="#fff" opacity="0.61"/>
<rect x="420.46" y="56" width="1.19" height="20.64" fill="#fff" opacity="0.64"/>
<rect x="316.63" y="30.58" width="0.52" height="16.97" fill="#fff" opacity="0.69"/>
<rect x="399.81" y="39.96" width="1.13" height="12.82" fill="#fff" opacity="0.79"/>
<rect x="319.99" y="30.38" width="0.5" height="27.46" fill="#fff" opacity="0.66"/>
<rect x="352.79" y="33.13" width="0.91" height="25.86" fill="#fff" opacity="0.78"/>
<rect x="393.9" y="40.13" width="0.59" height="29.97" fill="#fff" opacity="0.57"/>
<rect x="331.78" y="29.92" width="0.95" height="27.23" fill="#fff" opacity="0.68"/>
<rect x="359.52" y="34.57" width="0.51" height="25.51" fill="#fff" opacity="0.66"/>
<rect x="421.69" y="55.93" width="0.81" height="20.66" fill="#fff" opacity="0.61"/>
<rect x="463.97" y="66.06" width="0.53" height="16.51" fill="#fff" opacity="0.61"/>
<rect x="325.62" y="30.05" width="1.05" height="16.25" fill="#fff" opacity="0.92"/>
<rect x="486.43" y="63.92" width="0.52" height="17.05" fill="#fff" opacity="0.82"/>
<rect x="517.98" y="64.82" width="0.5" height="8.04" fill="#fff" opacity="0.52"/>
<rect x="521.36" y="64.97" width="0.87" height="17.15" fill="#fff" opacity="0.92"/>
<rect x="514.68" y="64.68" width="0.68" height="16.91" fill="#fff" opacity="0.61"/>
<rect x="484.68" y="64.08" width="0.54" height="8.42" fill="#fff" opacity="0.87"/>
<rect x="512.22" y="64.58" width="0.91" height="17.07" fill="#fff" opacity="0.78"/>
<rect x="500.06" y="64.05" width="0.87" height="17.2" fill="#fff" opacity="0.82"/>
<rect x="525.1" y="65.13" width="0.53" height="17.11" fill="#fff" opacity="0.63"/>
<rect x="490.67" y="63.65" width="0.85" height="16.97" fill="#fff" opacity="0.66"/>
<rect x="521.07" y="64.95" width="0.6" height="13.24" fill="#fff" opacity="0.82"/>
<rect x="512.16" y="64.57" width="0.8" height="16.93" fill="#fff" opacity="0.92"/>
<rect x="512.33" y="64.58" width="0.91" height="16.75" fill="#fff" opacity="0.79"/>
<rect x="494.2" y="63.79" width="0.53" height="17.4" fill="#fff" opacity="0.96"/>
<rect x="486.59" y="63.91" width="0.42" height="13.61" fill="#fff" opacity="0.67"/>
<rect x="486.46" y="63.92" width="0.42" height="11.55" fill="#fff" opacity="0.82"/>
<rect x="512.34" y="64.58" width="0.84" height="10.57" fill="#fff" opacity="0.68"/>
<rect x="517.98" y="64.83" width="0.89" height="17.15" fill="#fff" opacity="0.93"/>
<rect x="522.49" y="65.02" width="0.97" height="7.21" fill="#fff" opacity="0.56"/>
<rect x="481.16" y="64.4" width="0.91" height="16.83" fill="#fff" opacity="0.91"/>
<rect x="509.4" y="64.45" width="0.57" height="6.33" fill="#fff" opacity="0.88"/>
<rect x="489.34" y="63.63" width="0.59" height="17.48" fill="#fff" opacity="0.63"/>
<rect x="492.87" y="63.74" width="0.83" height="17.24" fill="#fff" opacity="0.98"/>
<rect x="503.22" y="64.19" width="0.91" height="17.33" fill="#fff" opacity="0.71"/>
<rect x="500.08" y="64.05" width="0.86" height="11.64" fill="#fff" opacity="0.77"/>
<rect x="489.72" y="63.61" width="0.92" height="12.72" fill="#fff" opacity="0.59"/>
<rect x="479.8" y="64.55" width="0.52" height="16.54" fill="#fff" opacity="0.5"/>
<rect x="502.72" y="64.16" width="0.69" height="17.23" fill="#fff" opacity="0.75"/>
<rect x="495.87" y="63.87" width="0.9" height="13.76" fill="#fff" opacity="0.64"/>
<rect x="489.68" y="63.6" width="0.82" height="17.42" fill="#fff" opacity="0.82"/>
<rect x="483.37" y="64.19" width="0.87" height="16.78" fill="#fff" opacity="0.81"/>
<rect x="496.39" y="63.89" width="0.64" height="16.8" fill="#fff" opacity="0.54"/>
<rect x="521.55" y="64.97" width="0.42" height="7.71" fill="#fff" opacity="0.95"/>
<rect x="503.24" y="64.18" width="0.63" height="17.19" fill="#fff" opacity="0.73"/>
<rect x="504.56" y="64.25" width="0.85" height="16.89" fill="#fff" opacity="0.67"/>
<rect x="495.11" y="63.83" width="0.49" height="16.98" fill="#fff" opacity="0.87"/>
<rect x="487.64" y="63.79" width="0.66" height="17.04" fill="#fff" opacity="0.56"/>
<rect x="501.25" y="64.11" width="0.93" height="7.18" fill="#fff" opacity="0.65"/>
<rect x="512.6" y="64.59" width="0.91" height="6.82" fill="#fff" opacity="0.62"/>
<rect x="494.99" y="63.83" width="0.71" height="8.39" fill="#fff" opacity="0.59"/>
<rect x="525.41" y="65.15" width="0.84" height="13.67" fill="#fff" opacity="0.55"/>
<rect x="497.56" y="63.95" width="0.99" height="16.9" fill="#fff" opacity="0.72"/>
<rect x="488.83" y="63.67" width="0.78" height="7.35" fill="#fff" opacity="0.69"/>
<rect x="481.28" y="64.4" width="0.64" height="16.79" fill="#fff" opacity="0.75"/>
<rect x="509.38" y="64.45" width="0.68" height="10.7" fill="#fff" opacity="0.7"/>
<rect x="514.35" y="64.67" width="0.94" height="16.83" fill="#fff" opacity="0.87"/>
<rect x="499.53" y="64.02" width="0.54" height="16.78" fill="#fff" opacity="0.89"/>
<rect x="512.45" y="64.59" width="0.91" height="16.8" fill="#fff" opacity="0.73"/>
<rect x="494.32" y="63.8" width="0.78" height="9.2" fill="#fff" opacity="0.89"/>
<rect x="513.13" y="64.61" width="0.78" height="9.13" fill="#fff" opacity="0.73"/>
<rect x="508.89" y="64.43" width="0.65" height="16.64" fill="#fff" opacity="0.59"/>
<rect x="510.33" y="64.5" width="0.87" height="16.93" fill="#fff" opacity="0.99"/>
<rect x="481.43" y="64.38" width="0.73" height="12.24" fill="#fff" opacity="0.97"/>
<rect x="504.17" y="64.22" width="0.46" height="16.97" fill="#fff" opacity="0.86"/>
<rect x="503.68" y="64.21" width="0.78" height="16.98" fill="#fff" opacity="0.71"/>
<rect x="524.29" y="65.09" width="0.53" height="16.85" fill="#fff" opacity="0.88"/>
<rect x="485.26" y="64.01" width="0.99" height="17.34" fill="#fff" opacity="0.64"/>
<polygon points="316.6,89.7 350,89.7 371.2,90.4 371.2,95.5 381.3,95.5 381.3,91.9 401.9,91.9 401.9,96.1 429.6,96.1 429.6,105 432.1,105 432.1,95.5 435,95.5 435,101.2 442.9,101.2 442.9,104.4 453.1,104.4 453.1,99.5 490,98.3 490,98.3 526.8,98.6 526.8,103 532.2,103 532.2,105.25 526.8,105.25 526.8,101.85 490,101.45 490,101.45 453.1,102.75 453.1,107.75 442.9,107.75 442.9,105.85 435,105.85 435,100.55 432.1,100.55 432.1,105 429.6,105 429.6,100.75 401.9,100.75 401.9,97.65 381.3,97.65 381.3,101.05 371.2,101.05 371.2,95.05 350,94.45 316.6,94.45" fill="#ccff00"/>
<polygon points="316.6,94.2 350,94.2 371.2,94.8 371.2,100.8 381.3,100.8 381.3,97.4 401.9,97.4 401.9,100.5 429.6,100.5 429.6,105 432.1,105 432.1,100.3 435,100.3 435,105.6 442.9,105.6 442.9,107.5 453.1,107.5 453.1,102.5 490,101.2 490,101.2 526.8,101.6 526.8,105 532.2,105 532.2,107.25 526.8,107.25 526.8,103.55 490,103.35 490,103.35 453.1,105.25 453.1,108.45 442.9,108.45 442.9,106.55 435,106.55 435,100.75 432.1,100.75 432.1,105 429.6,105 429.6,101.45 401.9,101.45 401.9,98.85 381.3,98.85 381.3,102.05 371.2,102.05 371.2,98.85 350,98.55 316.6,98.55" fill="#f6f2ff"/>
<polygon points="316.6,98.3 350,98.3 371.2,98.6 371.2,101.8 381.3,101.8 381.3,98.6 401.9,98.6 401.9,101.2 429.6,101.2 429.6,105 432.1,105 432.1,100.5 435,100.5 435,106.3 442.9,106.3 442.9,108.2 453.1,108.2 453.1,105 490,103.1 490,103.1 526.8,103.3 526.8,107 532.2,107 532.2,108.25 526.8,108.25 526.8,105.85 490,106.15 490,106.15 453.1,107.75 453.1,110.95 442.9,110.95 442.9,109.05 435,109.05 435,103.95 432.1,103.95 432.1,105 429.6,105 429.6,104.35 401.9,104.35 401.9,102.75 381.3,102.75 381.3,105.65 371.2,105.65 371.2,102.05 350,101.75 316.6,101.75" fill="#3a14ff"/>
<polygon points="316.6,101.5 350,101.5 371.2,101.8 371.2,105.4 381.3,105.4 381.3,102.5 401.9,102.5 401.9,104.1 429.6,104.1 429.6,105 432.1,105 432.1,103.7 435,103.7 435,108.8 442.9,108.8 442.9,110.7 453.1,110.7 453.1,107.5 490,105.9 490,105.9 526.8,105.6 526.8,108 532.2,108 532.2,110.75 526.8,110.75 526.8,107.75 490,107.75 490,107.75 453.1,109.05 453.1,111.65 442.9,111.65 442.9,110.35 435,110.35 435,106.55 432.1,106.55 432.1,105 429.6,105 429.6,106.55 401.9,106.55 401.9,103.35 381.3,103.35 381.3,106.25 371.2,106.25 371.2,102.55 350,102.25 316.6,102.25" fill="#ffd8f2"/>
<polygon points="316.6,102 350,102 371.2,102.3 371.2,106 381.3,106 381.3,103.1 401.9,103.1 401.9,106.3 429.6,106.3 429.6,105 432.1,105 432.1,106.3 435,106.3 435,110.1 442.9,110.1 442.9,111.4 453.1,111.4 453.1,108.8 490,107.5 490,107.5 526.8,107.5 526.8,110.5 532.2,110.5 532.2,112.6 526.8,112.6 526.8,111 490,110.7 490,110.7 453.1,112.6 453.1,115.2 442.9,115.2 442.9,114.5 435,114.5 435,110.1 432.1,110.1 432.1,105 429.6,105 429.6,110.1 401.9,110.1 401.9,107.5 381.3,107.5 381.3,110.1 371.2,110.1 371.2,106.9 350,106 316.6,106" fill="#ff0a14"/>
<line x1="367.4" y1="84.6" x2="367.4" y2="91" stroke="#ccff00" stroke-width="0.8"/>
<line x1="421.8" y1="109" x2="421.8" y2="113.9" stroke="#ff0a14" stroke-width="0.9"/>
<rect x="381.7" y="91.6" width="0.41" height="15.31" fill="#fff" opacity="0.75"/>
<rect x="373.86" y="95.2" width="0.56" height="10.09" fill="#fff" opacity="0.87"/>
<rect x="402.46" y="95.8" width="0.53" height="13.73" fill="#fff" opacity="0.51"/>
<rect x="337.29" y="89.4" width="0.87" height="15.86" fill="#fff" opacity="0.63"/>
<rect x="408.17" y="95.8" width="0.54" height="13.75" fill="#fff" opacity="0.72"/>
<rect x="449.94" y="104.1" width="0.89" height="10.59" fill="#fff" opacity="0.67"/>
<rect x="336.6" y="89.4" width="0.9" height="15.7" fill="#fff" opacity="0.53"/>
<rect x="377.79" y="95.2" width="0.55" height="14.47" fill="#fff" opacity="0.4"/>
<rect x="434.26" y="95.2" width="0.57" height="6.88" fill="#fff" opacity="0.64"/>
<rect x="386.22" y="91.6" width="0.78" height="15.35" fill="#fff" opacity="0.86"/>
<rect x="456" y="99.1" width="0.43" height="12.41" fill="#fff" opacity="0.79"/>
<rect x="339.09" y="89.4" width="0.9" height="16.29" fill="#fff" opacity="0.41"/>
<rect x="471.72" y="98.58" width="0.79" height="4.77" fill="#fff" opacity="0.47"/>
<rect x="354.34" y="89.56" width="0.87" height="6.45" fill="#fff" opacity="0.85"/>
<rect x="445.71" y="104.1" width="0.5" height="10.37" fill="#fff" opacity="0.79"/>
<rect x="425.36" y="95.8" width="0.94" height="13.41" fill="#fff" opacity="0.5"/>
<rect x="429.44" y="104.7" width="0.72" height="-0.31" fill="#fff" opacity="0.84"/>
<rect x="407.02" y="95.8" width="0.56" height="5.48" fill="#fff" opacity="0.65"/>
<rect x="325.81" y="89.4" width="0.68" height="9.19" fill="#fff" opacity="0.65"/>
<rect x="404.3" y="95.8" width="0.92" height="10.39" fill="#fff" opacity="0.63"/>
<rect x="408.12" y="95.8" width="0.8" height="13.74" fill="#fff" opacity="0.61"/>
<rect x="473.34" y="98.53" width="0.45" height="12.27" fill="#fff" opacity="0.41"/>
<rect x="415.82" y="95.8" width="0.81" height="13.77" fill="#fff" opacity="0.89"/>
<rect x="399.69" y="91.6" width="0.69" height="15.58" fill="#fff" opacity="0.76"/>
<rect x="418.47" y="95.8" width="0.6" height="13.74" fill="#fff" opacity="0.64"/>
<rect x="402.04" y="95.8" width="0.86" height="7.55" fill="#fff" opacity="0.61"/>
<rect x="406.68" y="95.8" width="0.9" height="10.29" fill="#fff" opacity="0.6"/>
<rect x="398.63" y="91.6" width="0.56" height="14.92" fill="#fff" opacity="0.73"/>
<rect x="445.71" y="104.1" width="0.6" height="5.16" fill="#fff" opacity="0.69"/>
<rect x="419.89" y="95.8" width="0.87" height="9.56" fill="#fff" opacity="0.84"/>
<rect x="405.5" y="95.8" width="0.43" height="4.54" fill="#fff" opacity="0.49"/>
<rect x="466.78" y="98.74" width="0.77" height="12.28" fill="#fff" opacity="0.85"/>
<rect x="416.17" y="95.8" width="0.77" height="13.51" fill="#fff" opacity="0.7"/>
<rect x="427.61" y="95.8" width="0.53" height="13.68" fill="#fff" opacity="0.78"/>
<rect x="332.91" y="89.4" width="0.51" height="11.5" fill="#fff" opacity="0.86"/>
<rect x="423.43" y="95.8" width="0.62" height="13.45" fill="#fff" opacity="0.68"/>
<rect x="358.47" y="89.69" width="0.58" height="16.16" fill="#fff" opacity="0.62"/>
<rect x="420.98" y="95.8" width="0.96" height="8.47" fill="#fff" opacity="0.42"/>
<rect x="335.58" y="89.4" width="0.89" height="15.66" fill="#fff" opacity="0.62"/>
<rect x="318.59" y="89.4" width="0.63" height="15.64" fill="#fff" opacity="0.89"/>
<rect x="393.96" y="91.6" width="0.65" height="10.01" fill="#fff" opacity="0.51"/>
<rect x="341.19" y="89.4" width="0.41" height="10.76" fill="#fff" opacity="0.46"/>
<rect x="474.27" y="98.5" width="0.45" height="12.6" fill="#fff" opacity="0.41"/>
<rect x="433.87" y="95.2" width="0.55" height="14.47" fill="#fff" opacity="0.43"/>
<rect x="442.66" y="104.1" width="0.83" height="10.29" fill="#fff" opacity="0.44"/>
<rect x="418.9" y="95.8" width="0.83" height="13.35" fill="#fff" opacity="0.53"/>
<rect x="473.75" y="98.51" width="0.83" height="4.2" fill="#fff" opacity="0.73"/>
<rect x="449.93" y="104.1" width="0.45" height="7.48" fill="#fff" opacity="0.48"/>
<rect x="456.94" y="99.06" width="0.69" height="6.6" fill="#fff" opacity="0.69"/>
<rect x="500.22" y="98.09" width="0.81" height="8.96" fill="#fff" opacity="0.68"/>
<rect x="509.92" y="98.17" width="0.78" height="12.13" fill="#fff" opacity="0.89"/>
<rect x="523.98" y="98.28" width="0.87" height="12.2" fill="#fff" opacity="0.53"/>
<rect x="525.36" y="98.29" width="0.82" height="12.17" fill="#fff" opacity="0.8"/>
<rect x="525.49" y="98.29" width="0.9" height="12.18" fill="#fff" opacity="0.71"/>
<rect x="521.43" y="98.26" width="0.63" height="11.98" fill="#fff" opacity="0.95"/>
<rect x="517.67" y="98.23" width="0.57" height="5.65" fill="#fff" opacity="0.71"/>
<rect x="507.13" y="98.14" width="0.89" height="12.37" fill="#fff" opacity="0.92"/>
<rect x="517.69" y="98.23" width="0.92" height="12.21" fill="#fff" opacity="0.93"/>
<rect x="517.53" y="98.23" width="0.81" height="12.16" fill="#fff" opacity="0.54"/>
<rect x="505.58" y="98.13" width="0.88" height="8.67" fill="#fff" opacity="0.97"/>
<rect x="490.62" y="98.01" width="0.76" height="12.07" fill="#fff" opacity="0.6"/>
<rect x="491.55" y="98.02" width="0.85" height="12.08" fill="#fff" opacity="0.54"/>
<rect x="517.48" y="98.23" width="0.86" height="7.61" fill="#fff" opacity="0.95"/>
<rect x="521.24" y="98.26" width="0.71" height="11.99" fill="#fff" opacity="0.59"/>
<rect x="488.78" y="98.03" width="0.51" height="12.16" fill="#fff" opacity="0.78"/>
<rect x="498.56" y="98.07" width="0.71" height="4.3" fill="#fff" opacity="1"/>
<rect x="497.35" y="98.06" width="0.46" height="11.85" fill="#fff" opacity="0.58"/>
<rect x="507.77" y="98.15" width="0.61" height="12.39" fill="#fff" opacity="0.52"/>
<rect x="526.09" y="98.3" width="0.92" height="12" fill="#fff" opacity="0.63"/>
<rect x="516.29" y="98.22" width="0.66" height="11.86" fill="#fff" opacity="0.91"/>
<rect x="525.01" y="98.29" width="0.55" height="5.27" fill="#fff" opacity="0.59"/>
<rect x="483.72" y="98.2" width="0.43" height="11.91" fill="#fff" opacity="0.73"/>
<rect x="524.05" y="98.28" width="0.95" height="7.73" fill="#fff" opacity="0.7"/>
<rect x="485.15" y="98.14" width="0.98" height="7.57" fill="#fff" opacity="0.82"/>
<rect x="524.55" y="98.28" width="0.8" height="12.09" fill="#fff" opacity="0.58"/>
<rect x="524.89" y="98.29" width="1" height="4.26" fill="#fff" opacity="0.63"/>
<rect x="496.07" y="98.05" width="0.94" height="11.81" fill="#fff" opacity="0.52"/>
<rect x="516.55" y="98.22" width="0.83" height="11.71" fill="#fff" opacity="0.53"/>
<rect x="486.38" y="98.1" width="0.85" height="11.99" fill="#fff" opacity="0.65"/>
<rect x="507.37" y="98.15" width="0.85" height="6.03" fill="#fff" opacity="0.63"/>
<rect x="485.49" y="98.14" width="0.69" height="5.53" fill="#fff" opacity="0.57"/>
<rect x="511.65" y="98.18" width="0.41" height="12.26" fill="#fff" opacity="0.52"/>
<rect x="523.33" y="98.27" width="0.53" height="11.79" fill="#fff" opacity="0.94"/>
<rect x="486.23" y="98.11" width="0.67" height="9.83" fill="#fff" opacity="0.92"/>
<rect x="509.2" y="98.16" width="0.67" height="9.12" fill="#fff" opacity="0.74"/>
<rect x="509.28" y="98.16" width="0.49" height="4.37" fill="#fff" opacity="0.86"/>
<rect x="505.77" y="98.13" width="0.49" height="12.21" fill="#fff" opacity="0.71"/>
<rect x="487.04" y="98.09" width="0.56" height="12.22" fill="#fff" opacity="0.58"/>
<rect x="502.78" y="98.11" width="0.59" height="12.32" fill="#fff" opacity="0.99"/>
<rect x="482.2" y="98.24" width="0.94" height="12.39" fill="#fff" opacity="0.74"/>
<rect x="493.18" y="98.03" width="0.55" height="6.28" fill="#fff" opacity="1"/>
<rect x="526.43" y="102.7" width="0.96" height="4.57" fill="#fff" opacity="0.95"/>
<rect x="482.28" y="98.24" width="0.84" height="10.2" fill="#fff" opacity="0.51"/>
<rect x="517.63" y="98.23" width="0.6" height="4.03" fill="#fff" opacity="0.92"/>
<rect x="504.49" y="98.12" width="0.51" height="11.76" fill="#fff" opacity="0.61"/>
<rect x="506.61" y="98.14" width="0.48" height="8.8" fill="#fff" opacity="0.86"/>
<rect x="489.02" y="98.02" width="0.45" height="7.8" fill="#fff" opacity="0.75"/>
<rect x="492.61" y="98.02" width="0.52" height="11.9" fill="#fff" opacity="0.91"/>
<rect x="507.14" y="98.14" width="0.52" height="8.56" fill="#fff" opacity="0.7"/>
<rect x="513.7" y="98.19" width="0.43" height="12.17" fill="#fff" opacity="0.92"/>
<rect x="520.28" y="98.25" width="0.7" height="9.66" fill="#fff" opacity="0.74"/>
<rect x="520.7" y="98.25" width="0.56" height="9.18" fill="#fff" opacity="0.68"/>
<rect x="487.37" y="98.08" width="0.62" height="12.44" fill="#fff" opacity="0.76"/>
<rect x="500.6" y="98.09" width="0.71" height="8.45" fill="#fff" opacity="0.91"/>
<rect x="520.38" y="98.25" width="0.59" height="12.13" fill="#fff" opacity="0.88"/>
<rect x="316.5" y="9" width="220.25" height="106.8" fill="none" stroke="#a4a4a4" stroke-width="1"/>
<text transform="translate(316.5,127.8) scale(0.945,1)" font-size="8.4" text-anchor="middle">0</text>
<line x1="353.25" y1="115.8" x2="353.25" y2="113.6" stroke="#a4a4a4" stroke-width="0.9"/>
<line x1="353.25" y1="9" x2="353.25" y2="11.2" stroke="#a4a4a4" stroke-width="0.9"/>
<text transform="translate(353.25,127.8) scale(0.945,1)" font-size="8.4" text-anchor="middle">1000</text>
<line x1="390" y1="115.8" x2="390" y2="113.6" stroke="#a4a4a4" stroke-width="0.9"/>
<line x1="390" y1="9" x2="390" y2="11.2" stroke="#a4a4a4" stroke-width="0.9"/>
<text transform="translate(390,127.8) scale(0.945,1)" font-size="8.4" text-anchor="middle">2000</text>
<line x1="426.75" y1="115.8" x2="426.75" y2="113.6" stroke="#a4a4a4" stroke-width="0.9"/>
<line x1="426.75" y1="9" x2="426.75" y2="11.2" stroke="#a4a4a4" stroke-width="0.9"/>
<text transform="translate(426.75,127.8) scale(0.945,1)" font-size="8.4" text-anchor="middle">3000</text>
<line x1="463.5" y1="115.8" x2="463.5" y2="113.6" stroke="#a4a4a4" stroke-width="0.9"/>
<line x1="463.5" y1="9" x2="463.5" y2="11.2" stroke="#a4a4a4" stroke-width="0.9"/>
<text transform="translate(463.5,127.8) scale(0.945,1)" font-size="8.4" text-anchor="middle">4000</text>
<line x1="500.25" y1="115.8" x2="500.25" y2="113.6" stroke="#a4a4a4" stroke-width="0.9"/>
<line x1="500.25" y1="9" x2="500.25" y2="11.2" stroke="#a4a4a4" stroke-width="0.9"/>
<text transform="translate(500.25,127.8) scale(0.945,1)" font-size="8.4" text-anchor="middle">5000</text>
<text transform="translate(537,127.8) scale(0.945,1)" font-size="8.4" text-anchor="middle">6000</text>
<text transform="translate(312.7,11.9) scale(0.945,1)" font-size="8.4" text-anchor="end">2</text>
<line x1="316.5" y1="27.8" x2="318.7" y2="27.8" stroke="#a4a4a4" stroke-width="0.9"/>
<line x1="536.75" y1="27.8" x2="534.55" y2="27.8" stroke="#a4a4a4" stroke-width="0.9"/>
<text transform="translate(312.7,30.9) scale(0.945,1)" font-size="8.4" text-anchor="end">1.8</text>
<line x1="316.5" y1="46.8" x2="318.7" y2="46.8" stroke="#a4a4a4" stroke-width="0.9"/>
<line x1="536.75" y1="46.8" x2="534.55" y2="46.8" stroke="#a4a4a4" stroke-width="0.9"/>
<text transform="translate(312.7,49.9) scale(0.945,1)" font-size="8.4" text-anchor="end">1.6</text>
<line x1="316.5" y1="65.8" x2="318.7" y2="65.8" stroke="#a4a4a4" stroke-width="0.9"/>
<line x1="536.75" y1="65.8" x2="534.55" y2="65.8" stroke="#a4a4a4" stroke-width="0.9"/>
<text transform="translate(312.7,68.9) scale(0.945,1)" font-size="8.4" text-anchor="end">1.4</text>
<line x1="316.5" y1="84.8" x2="318.7" y2="84.8" stroke="#a4a4a4" stroke-width="0.9"/>
<line x1="536.75" y1="84.8" x2="534.55" y2="84.8" stroke="#a4a4a4" stroke-width="0.9"/>
<text transform="translate(312.7,87.9) scale(0.945,1)" font-size="8.4" text-anchor="end">1.2</text>
<line x1="316.5" y1="103.8" x2="318.7" y2="103.8" stroke="#a4a4a4" stroke-width="0.9"/>
<line x1="536.75" y1="103.8" x2="534.55" y2="103.8" stroke="#a4a4a4" stroke-width="0.9"/>
<text transform="translate(312.7,106.9) scale(0.945,1)" font-size="8.4" text-anchor="end">1</text>
<text transform="translate(426.62,140.3) scale(0.940,1)" font-size="9.6" text-anchor="middle">epoch</text>
<text transform="translate(296.6,62.4) rotate(-90) scale(0.93,1)" font-size="9.7" text-anchor="middle">PDOP</text>
<text class="cap" x="418" y="166.2" font-size="13.1" text-anchor="middle">(<tspan>b</tspan>)</text>
<polyline points="33.4,202.8 49.5,209.8 49.7,198.1 68.2,204.1 87.3,211.3 100,216.2 112.7,221.3 112.9,239.1 114.8,239.1 115.2,206.6 150,212.6 164.3,215.9 165,222.3 195,225.5 206.2,227.1 206.6,243.9 208.8,243.9 209.3,235.4 248.5,236.9" fill="none" stroke="#ffa030" stroke-width="0.95"/>
<polyline points="49.7,200.28 50.43,200.95 51.03,200.9 51.64,201.1 52.07,201.44 52.57,201.2 53.03,201.37 53.74,201.47 54.2,201.94 54.69,201.74 55.32,202.21 55.93,202.46 56.39,202.67 57.07,202.46 57.53,202.83 58.13,202.9 58.6,203.1 59.06,203.33 59.79,203.33 60.42,203.81 60.9,204 61.66,204 62.23,204.51 62.84,204.63 63.6,205.25 64.14,205.29 64.68,205.69 65.45,206.31 66.2,206.73 66.93,206.76 67.53,207.55 68.29,207.62 68.86,208.09 69.41,208.32 69.86,208.49 70.46,208.58 70.93,209.29 71.63,209.62 72.28,209.88 73.01,210.28 73.45,210.37 73.96,210.65 74.48,210.84 75.23,211.25 75.74,211.45 76.32,211.95 76.84,211.89 77.5,212.12 78.13,212.85 78.74,212.81 79.32,213.24 79.8,213.26 80.26,213.58 80.83,213.86 81.34,214.02 81.96,214.71 82.59,214.9 83.25,215.06 83.92,215.53 84.54,215.93 85.13,216.08 85.64,216.29 86.24,216.68 86.87,216.82 87.42,217.53 87.93,217.63 88.52,217.8 89.3,218.21 90,218.5 90.44,219.08 91.02,218.97 91.58,219.45 92.26,219.64 92.76,220.32 93.45,220.27 93.99,220.64 94.65,221.12 95.38,221.59 95.99,221.86 96.67,222.22 97.27,222.54 97.94,222.95 98.41,223.17 98.83,223.33 99.46,223.52 100.23,223.98 100.8,224.44 101.53,224.81 102.09,225.08 102.67,225.58 103.2,225.75 103.82,226.13 104.35,226.67 105.08,226.98 105.66,227.18 106.19,227.5 106.82,228.11 107.27,228.56 107.8,228.86 108.53,229.37 109.02,229.41 109.77,229.67 110.2,230.22 110.8,230.77 111.5,231.02 112.28,231.5 112.3,231.5" fill="none" stroke="#33ff00" stroke-width="1"/>
<polyline points="115.2,222.09 115.67,221.74 116.2,221.71 116.83,222.01 117.34,221.41 117.8,221.69 118.32,221.84 118.93,222.21 119.43,221.66 119.97,222.2 120.42,221.71 121.01,221.33 121.46,222.12 122.06,221.63 122.44,221.99 123,221.9 123.64,221.94 124.12,221.18 124.56,221.52 125.06,221.18 125.46,221.6 125.99,221.3 126.64,221.56 127,221.32 127.59,221.19 128.15,220.86 128.59,221.68 129.12,221.49 129.52,221.3 130.04,221.05 130.58,221.29 131.23,221.31 131.71,220.83 132.1,221.47 132.49,220.83 132.89,221.28 133.48,221.41 134.08,220.9 134.43,221.63 134.88,221.6 135.33,221.08 135.76,221.04 136.38,221.56 136.84,221.46 137.3,221.1 137.92,221.66 138.56,221.56 139.1,221.41 139.46,222.11 140.06,221.53 140.68,222.07 141.13,221.89 141.76,221.82 142.4,221.61 142.87,222.12 143.28,221.73 143.89,221.95 144.48,221.75 144.88,221.89 145.29,222.53 145.73,222.14 146.11,222.14 146.58,222.04 146.95,221.78 147.55,222.05 147.97,221.92 148.4,221.99 148.76,222.44 149.22,221.96 149.78,221.94 150.21,222.71 150.6,222.34 151.2,222.74 151.6,222.31 152.16,222.37 152.8,222.25 153.44,222.58 153.85,222.56 154.24,222.84 154.67,223.06 155.2,222.56 155.62,222.83 156.04,223.12 156.42,222.78 156.93,222.57 157.52,222.73 158.06,222.94 158.51,222.79 158.88,222.61 159.49,222.79 160.04,222.63 160.56,223.16 161.06,223.36 161.43,223.57 161.84,223.61 162.41,224.07 162.88,224.95 163.46,225.23 164.07,224.81 164.3,225.3" fill="none" stroke="#33ff00" stroke-width="1.2"/>
<polyline points="165,236.64 165.55,237.36 166.01,237.04 166.56,237.35 166.98,237.5 167.44,237.22 167.84,236.58 168.47,237.28 169.03,236.42 169.39,236.54 169.8,236.69 170.26,236.35 170.71,237.04 171.11,237.26 171.63,237.08 172.06,236.73 172.61,236.7 172.97,237.33 173.55,236.74 173.91,237.47 174.44,236.57 174.87,236.7 175.45,236.9 176.08,237.63 176.45,237.61 176.92,237.73 177.52,237.25 177.9,238.1 178.38,238.14 178.93,237.98 179.53,237.93 180.02,237.3 180.58,237.79 181.08,238.21 181.47,237.88 181.83,237.68 182.42,236.95 182.94,237.62 183.48,236.92 183.9,236.19 184.36,236.46 184.77,236.19 185.16,236.53 185.71,235.78 186.14,235.96 186.62,236.3 187.07,235.38 187.69,234.98 188.21,235.13 188.8,235.47 189.38,235.09 189.93,235.68 190.42,235.94 191.02,235.24 191.46,235.59 191.87,235.29 192.3,235.51 192.86,235.89 193.25,235.79 193.74,235.9 194.14,235.59 194.49,236.7 195.07,235.63 195.63,236.72 196.15,235.68 196.65,236.09 197.05,236.23 197.41,236.69 197.95,236.35 198.58,236.4 199.01,235.92 199.4,235.67 199.98,236.65 200.42,235.88 200.96,236.69 201.59,235.89 202.17,236.7 202.75,236.11 203.15,236.72 203.6,236.18 204.11,236.19 204.71,236.05 205.08,236.45 205.61,236.77 206.18,236.89 206.2,236.4" fill="none" stroke="#33ff00" stroke-width="1.2"/>
<polyline points="209.3,245.6 209.8,245.33 210.24,245.6 210.61,245.65 211.01,245.46 211.65,245.17 212.02,245.4 212.42,245.57 212.77,245.63 213.38,245.56 213.86,245.18 214.41,245.31 214.88,245.16 215.36,245.36 215.96,245.49 216.36,245.04 216.84,245.2 217.3,244.92 217.67,244.99 218.16,245.41 218.79,245.3 219.43,245.33 219.96,245.19 220.33,245.08 220.86,244.78 221.39,245.21 221.88,244.97 222.32,244.73 222.94,244.47 223.34,244.9 223.83,244.46 224.37,244.63 224.9,244.63 225.41,244.7 225.88,244.36 226.28,244.88 226.8,244.3 227.4,244.37 227.78,244.54 228.21,244.48 228.72,244.27 229.25,244.16 229.75,244.46 230.12,244.31 230.5,244.31 231.1,244.36 231.67,244.47 232.05,244.61 232.62,243.95 233.22,244.12 233.62,244.5 234.14,244.34 234.53,244.31 234.9,243.91 235.36,243.73 235.89,243.84 236.33,244.16 236.81,244.26 237.34,244.22 237.86,244.22 238.47,243.66 239.05,243.74 239.62,243.95 240.22,243.52 240.68,243.92 241.32,243.88 241.68,243.77 242.06,243.71 242.65,243.37 243.28,243.73 243.71,243.37 244.19,243.79 244.71,243.25 245.07,243.23 245.66,243.25 246.18,243.29 246.73,243.32 247.13,243.64 247.64,243.48 248.23,243.63 248.5,243.3" fill="none" stroke="#33ff00" stroke-width="1.1"/>
<polyline points="209.3,248.92 209.7,248.98 210.31,249.09 210.67,248.75 211.26,248.96 211.73,248.83 212.13,248.99 212.6,248.98 213.13,248.54 213.58,248.59 214.2,248.73 214.56,248.5 215.02,248.62 215.54,248.55 216,248.33 216.52,248.46 216.88,248.5 217.52,248.25 217.92,248.54 218.35,248.31 218.85,248.27 219.37,248.37 220.01,248.56 220.37,248.32 220.95,248.44 221.53,248.29 222.07,248.12 222.51,248.31 223.12,248.34 223.67,247.99 224.25,248.17 224.75,248.08 225.21,248.01 225.68,247.74 226.13,247.84 226.78,247.88 227.24,247.73 227.66,247.75 228.05,247.56 228.66,247.74 229.14,247.77 229.58,247.54 229.95,247.58 230.4,247.77 230.91,247.84 231.36,247.8 231.89,247.35 232.29,247.57 232.94,247.42 233.52,247.42 234.13,247.2 234.63,247.58 235.06,247.24 235.42,247.17 235.85,247.41 236.26,247.23 236.67,247.31 237.28,247.29 237.69,247.31 238.33,247.2 238.7,247.28 239.32,247.01 239.71,246.9 240.22,247.22 240.76,247.2 241.17,246.88 241.75,247 242.22,246.99 242.67,246.65 243.15,246.61 243.68,246.72 244.18,246.82 244.61,246.73 244.96,246.94 245.48,246.94 245.85,246.73 246.42,246.55 246.8,246.44 247.19,246.72 247.57,246.72 248.04,246.55 248.5,246.5" fill="none" stroke="#30ff80" stroke-width="0.9"/>
<polygon points="33.4,206.9 33.4,206.83 33.89,207.06 34.3,207.3 34.68,207.44 35.2,207.68 35.6,207.84 36.18,207.88 36.57,208.07 37.14,208.07 37.46,208.4 37.95,208.77 38.36,209.07 38.74,209.08 39.08,208.77 39.43,208.93 39.88,209.41 40.24,209.78 40.66,209.47 41.02,209.97 41.58,209.85 41.91,210.35 42.29,210.62 42.74,210.59 43.14,210.85 43.58,210.74 44.14,210.84 44.66,211.01 45.14,211.41 45.69,211.42 46.16,211.82 46.72,212.36 47.21,212.12 47.59,212.3 48.02,212.45 48.39,212.92 48.88,212.83 49.47,213.02 49.5,213.3 49.5,225.4 49.27,225.2 48.86,225.34 48.41,224.95 48.07,224.88 47.55,224.56 47.05,224.39 46.62,224.22 46.17,224.05 45.62,223.93 45.04,223.6 44.7,223.64 44.32,223.54 43.99,223.49 43.46,223.12 43.14,223.3 42.59,223 42.02,222.64 41.68,222.66 41.32,222.29 40.81,222.13 40.25,221.87 39.67,221.7 39.35,221.66 38.77,221.68 38.4,221.55 37.88,221.16 37.32,220.9 36.77,220.85 36.33,220.7 35.83,220.34 35.28,220.27 34.87,220.04 34.34,220.04 33.95,219.95 33.4,219.46 33.4,219.6" fill="#00f2f2"/>
<polygon points="49.7,202.8 49.7,202.93 50.21,202.74 50.58,202.86 50.91,202.84 51.36,203.22 51.83,203.35 52.14,203.66 52.64,203.74 53.1,203.99 53.68,204.3 54.19,204.19 54.59,204.34 55.17,204.52 55.59,204.68 55.94,205.16 56.26,205.03 56.82,205.02 57.3,205.26 57.68,205.28 58.03,205.79 58.55,206.01 58.88,205.99 59.28,206.1 59.75,206.07 60.33,206.08 60.84,206.77 61.29,206.77 61.88,206.75 62.36,207.23 62.78,207.35 63.2,207.39 63.68,207.64 64.08,207.75 64.55,207.67 65.03,207.86 65.59,208.18 66.1,208.39 66.54,208.36 66.89,208.9 67.35,208.82 67.81,209.15 68.19,208.9 68.72,209.34 69.21,209.8 69.77,210.11 70.1,209.98 70.64,210.51 70.98,210.28 71.37,210.44 71.78,211.07 72.23,211.09 72.57,211.22 73.16,211.7 73.59,211.78 74.12,212.22 74.48,212.35 74.89,212.46 75.27,212.56 75.68,212.77 76,212.82 76.47,212.97 76.83,213.55 77.22,213.5 77.6,214 77.94,214.05 78.49,214.06 78.92,214.63 79.4,214.62 79.72,214.83 80.14,215.2 80.53,215.21 81.02,215.7 81.43,215.65 81.91,216.21 82.27,216.42 82.78,216.31 83.27,216.53 83.61,216.96 84.03,217.03 84.47,217.48 84.99,217.21 85.47,217.71 85.91,218.16 86.34,218.15 86.89,218.41 87.34,218.68 87.88,219.04 88.39,219.14 88.72,219.47 89.18,219.75 89.7,219.62 90.08,219.79 90.62,220.07 90.95,220.63 91.42,220.44 91.92,221.09 92.37,220.92 92.87,221.38 93.34,221.97 93.88,222.16 94.23,222.02 94.68,222.05 95.27,222.5 95.65,222.71 96.04,223.23 96.5,223.26 96.93,223.2 97.33,223.88 97.86,224.14 98.24,223.94 98.57,224.31 98.99,224.47 99.43,224.77 99.85,225.11 100.22,225.38 100.68,225.15 101.08,225.68 101.51,225.96 101.91,226.03 102.44,226.36 102.95,226.97 103.42,227.05 103.99,227.39 104.54,227.5 104.97,228.11 105.3,228.44 105.64,228.48 106,228.9 106.47,229.11 106.92,229.31 107.41,229.38 107.79,229.94 108.14,230.2 108.51,229.93 108.85,230.55 109.42,230.68 109.92,230.88 110.48,231.48 110.83,231.32 111.33,231.62 111.88,232.1 112.25,232.5 112.5,232.7 112.5,235.3 112.11,235.45 111.61,234.98 111.19,234.84 110.7,234.44 110.13,234.21 109.64,233.75 109.15,234 108.58,233.41 108.13,233.48 107.66,232.8 107.25,232.69 106.72,232.55 106.15,232.11 105.83,232.16 105.48,232.17 105.11,232.09 104.66,231.85 104.21,231.29 103.65,231.15 103.1,230.65 102.68,230.88 102.3,230.23 101.76,229.88 101.26,229.69 100.73,229.75 100.29,229.56 99.9,229 99.51,229.1 98.97,228.64 98.59,228.43 98.16,228.35 97.73,228.24 97.38,227.57 96.94,227.32 96.41,227.53 95.93,226.97 95.39,226.86 95.05,226.52 94.51,226.55 94.01,226.18 93.49,225.65 92.98,225.55 92.42,225.13 92.04,224.9 91.67,224.75 91.13,224.79 90.6,225.24 90.26,225.24 89.8,225.27 89.4,225.23 88.88,225.23 88.44,225.11 87.91,225.27 87.4,225.34 86.83,225.1 86.48,224.9 85.98,224.83 85.62,224.31 85.11,223.94 84.59,224.17 84.1,223.58 83.61,223.71 83.05,223.49 82.61,223.12 82.08,223.21 81.5,222.57 81.12,222.33 80.77,222.27 80.41,222.32 79.9,221.85 79.56,221.8 79.14,221.95 78.82,221.8 78.38,221.55 77.97,221.38 77.47,221.05 77.14,221.14 76.67,220.49 76.34,220.63 75.81,220.34 75.43,220.18 75.09,220.22 74.7,219.83 74.28,219.36 73.89,219.28 73.37,219.1 72.87,219.1 72.34,218.83 71.77,218.31 71.22,218.37 70.67,217.98 70.32,217.81 69.9,217.63 69.48,217.64 69.02,217.24 68.58,217.03 68.12,217.08 67.77,217.26 67.43,216.77 66.99,217.13 66.45,216.71 65.88,216.53 65.52,216.76 65.1,216.51 64.63,216.3 64.14,216.2 63.69,216.09 63.25,216.35 62.72,216.24 62.38,216.19 62.05,215.98 61.52,215.82 61,215.78 60.57,215.76 60.24,215.9 59.67,215.62 59.09,215.68 58.77,215.83 58.39,215.72 57.84,215.28 57.48,215.12 57.02,215.35 56.47,215.19 56.13,215.4 55.68,215.22 55.28,214.88 54.82,215.19 54.23,215.09 53.89,214.98 53.54,214.83 53.11,214.79 52.67,214.34 52.21,214.34 51.72,214.36 51.39,214.31 50.82,214.46 50.46,214.43 50.06,214.4 49.7,214.14 49.7,214" fill="#00f2f2"/>
<line x1="73.23" y1="213.71" x2="73.23" y2="239.23" stroke="#00f2f2" stroke-width="0.53"/>
<line x1="81.94" y1="218.07" x2="81.94" y2="235.86" stroke="#00f2f2" stroke-width="0.78"/>
<line x1="74.78" y1="214.49" x2="74.78" y2="236.64" stroke="#00f2f2" stroke-width="0.95"/>
<line x1="79.98" y1="217.09" x2="79.98" y2="236.62" stroke="#00f2f2" stroke-width="0.52"/>
<line x1="72.52" y1="213.36" x2="72.52" y2="229.58" stroke="#00f2f2" stroke-width="0.98"/>
<line x1="82.99" y1="218.6" x2="82.99" y2="229.66" stroke="#00f2f2" stroke-width="0.79"/>
<line x1="77.17" y1="215.69" x2="77.17" y2="228.54" stroke="#00f2f2" stroke-width="0.7"/>
<line x1="80.33" y1="217.26" x2="80.33" y2="235.38" stroke="#00f2f2" stroke-width="0.64"/>
<line x1="80.61" y1="217.4" x2="80.61" y2="231.35" stroke="#00f2f2" stroke-width="0.77"/>
<line x1="74.28" y1="214.24" x2="74.28" y2="239.25" stroke="#00f2f2" stroke-width="0.82"/>
<line x1="81.39" y1="217.8" x2="81.39" y2="235.78" stroke="#00f2f2" stroke-width="0.69"/>
<line x1="84.32" y1="219.26" x2="84.32" y2="236.16" stroke="#00f2f2" stroke-width="0.85"/>
<line x1="71.63" y1="212.92" x2="71.63" y2="229.86" stroke="#00f2f2" stroke-width="0.79"/>
<line x1="81.78" y1="217.99" x2="81.78" y2="237.13" stroke="#00f2f2" stroke-width="0.67"/>
<line x1="69.09" y1="211.64" x2="69.09" y2="233.93" stroke="#00f2f2" stroke-width="0.94"/>
<line x1="69.5" y1="211.85" x2="69.5" y2="236.49" stroke="#00f2f2" stroke-width="0.59"/>
<polygon points="115.2,222.2 115.2,221.92 115.53,221.92 115.95,222.39 116.52,221.86 116.92,222.4 117.29,221.97 117.72,221.83 118.11,222.04 118.53,222.45 118.91,221.93 119.47,222.11 120.02,222.25 120.54,222.04 120.9,222.36 121.34,222.23 121.83,222.37 122.22,222.11 122.79,222.24 123.18,222.32 123.56,222.43 123.89,222.47 124.36,222.15 124.93,222.1 125.31,221.97 125.77,222.46 126.27,222.24 126.8,222.04 127.2,222.42 127.78,222.42 128.28,222.53 128.7,222.66 129.22,222.25 129.64,222.59 130.05,222.16 130.6,222.42 131.05,222.52 131.61,222.16 132.02,222.12 132.44,222.44 132.99,222.56 133.46,222.39 133.93,222.31 134.47,222.68 135.01,222.25 135.51,222.68 135.96,222.79 136.52,222.7 137.05,222.64 137.61,222.29 138.11,222.7 138.59,222.41 138.93,222.65 139.46,222.43 139.84,222.41 140.18,222.73 140.75,222.83 141.17,222.77 141.5,222.87 141.9,222.3 142.39,222.4 142.78,222.36 143.21,222.71 143.75,222.36 144.28,222.43 144.66,222.8 145.07,222.6 145.54,222.53 146.06,222.54 146.61,222.97 147.07,222.43 147.59,222.44 148.04,222.73 148.37,222.88 148.89,222.86 149.31,222.82 149.78,222.63 150.33,223.18 150.86,223.17 151.27,223.2 151.6,222.85 151.95,222.84 152.45,223.03 152.89,222.78 153.26,222.83 153.65,222.69 154.16,222.93 154.59,222.72 155.1,222.73 155.49,222.99 155.99,223.29 156.51,223.29 157.07,223.14 157.58,222.69 157.95,222.66 158.5,223.17 158.98,222.86 159.4,222.8 159.88,223.39 160.28,222.88 160.64,223.29 161.2,223.9 161.64,223.65 161.98,223.87 162.51,224.37 163.09,224.99 163.62,224.97 164.15,225.01 164.3,225.5 164.3,230.6 164.16,230.65 163.66,230.47 163.22,230.12 162.64,230.15 162.26,229.74 161.7,229.67 161.32,229.47 160.75,229.52 160.19,229.22 159.62,229.22 159.13,229.22 158.77,229.39 158.31,229.16 157.82,229.14 157.29,229.06 156.83,229.34 156.27,229.33 155.75,229.16 155.19,229.39 154.81,229.04 154.38,229.14 153.99,229.34 153.41,229.38 152.89,229.42 152.4,229.44 151.96,229.09 151.56,229.2 151.16,229.16 150.66,229.24 150.09,229.14 149.54,229.24 148.99,229.35 148.67,229.36 148.13,229.44 147.6,229.38 147.04,229.35 146.56,229.25 146.12,229.3 145.64,229.37 145.29,229.13 144.98,229.41 144.4,229.35 144.04,229.41 143.65,229.26 143.3,229.45 142.76,229.41 142.42,229.26 141.96,229.51 141.61,229.29 141.24,229.39 140.89,229.31 140.36,229.46 140.04,229.43 139.72,229.29 139.33,229.36 139,229.17 138.47,229.38 137.98,229.35 137.45,229.37 136.9,229.16 136.34,229.51 135.81,229.2 135.36,229.23 134.83,229.24 134.32,229.56 133.98,229.48 133.66,229.24 133.27,229.55 132.78,229.55 132.29,229.27 131.72,229.29 131.39,229.21 130.86,229.59 130.52,229.21 130.01,229.45 129.47,229.52 129.05,229.3 128.47,229.31 128.13,229.45 127.57,229.27 127.13,229.5 126.64,229.32 126.13,229.5 125.71,229.42 125.38,229.52 125.05,229.41 124.54,229.49 124.07,229.42 123.7,229.29 123.22,229.29 122.81,229.61 122.43,229.33 121.94,229.45 121.38,229.51 120.98,229.29 120.52,229.62 120.2,229.45 119.67,229.6 119.35,229.42 118.88,229.36 118.56,229.33 118.02,229.61 117.6,229.58 117.17,229.68 116.6,229.57 116.04,229.3 115.65,229.38 115.2,229.53 115.2,229.5" fill="#00f2f2"/>
<polygon points="165,237.7 165,237.32 165.38,237.1 165.89,237.24 166.27,237.9 166.76,237.53 167.25,237.51 167.75,237.22 168.09,236.98 168.41,237.23 168.76,236.99 169.21,237.73 169.71,237.08 170.23,236.96 170.57,237.05 171,237.38 171.43,237.39 171.77,237.55 172.18,237.47 172.5,237.51 172.88,237.58 173.41,237.49 173.8,236.94 174.17,237.8 174.53,237.62 175,237.68 175.36,237.26 175.7,238.06 176.12,237.82 176.59,237.5 176.92,237.35 177.47,237.52 178.04,237.81 178.56,237.67 179.08,237.84 179.5,238.14 179.84,237.94 180.37,238.04 180.79,238.39 181.16,237.74 181.54,237.79 181.95,237.87 182.4,237.93 182.72,237.63 183.26,237.05 183.59,237.12 183.93,237.02 184.44,236.52 184.79,236.75 185.15,236.4 185.58,236.14 185.92,236.25 186.36,236.61 186.82,235.67 187.2,236.15 187.67,236.1 188.24,236 188.58,236.13 189.04,235.55 189.4,236.17 189.78,235.51 190.16,236.32 190.6,236.21 190.94,236 191.34,235.83 191.83,236.04 192.18,236.64 192.62,235.98 192.94,236.45 193.4,235.94 193.84,236.64 194.3,236.22 194.75,236.56 195.24,236.16 195.77,236.89 196.28,236.83 196.7,236.88 197.06,236.28 197.54,236.9 197.88,236.29 198.2,236.5 198.55,236.28 199.07,236.65 199.64,236.5 200.14,236.16 200.71,236.37 201.15,236.64 201.72,236.63 202.31,236.76 202.68,236.96 203.05,237.12 203.49,236.44 204.06,236.54 204.49,236.57 204.98,236.29 205.4,236.43 205.94,236.29 206.2,236.9 206.2,240.6 206.09,240.61 205.66,240.49 205.28,240.63 204.94,240.6 204.57,240.42 204.1,240.61 203.76,240.43 203.23,240.65 202.73,240.39 202.26,240.34 201.72,240.61 201.35,240.57 200.93,240.55 200.57,240.28 200.1,240.62 199.74,240.44 199.33,240.52 198.8,240.32 198.3,240.46 197.96,240.26 197.62,240.21 197.24,240.37 196.81,240.3 196.35,240.29 196,240.54 195.43,240.18 195.11,240.52 194.6,240.22 194.23,240.11 193.72,240.13 193.41,240.05 193.02,240.26 192.56,239.91 192.19,240.09 191.64,240.13 191.16,240.05 190.78,239.79 190.26,239.68 189.68,239.81 189.19,239.72 188.65,239.69 188.08,239.46 187.72,239.67 187.4,239.7 187.04,239.81 186.53,239.95 186.06,240.35 185.59,240.17 185.16,240.45 184.81,240.42 184.42,240.63 184.05,240.72 183.53,241.12 183.11,241.29 182.74,241.48 182.16,241.49 181.79,241.84 181.36,241.7 180.83,242.17 180.47,242.15 179.96,242.1 179.52,241.78 178.99,241.97 178.55,241.9 178.03,241.61 177.53,241.73 177.12,241.56 176.73,241.69 176.37,241.59 175.81,241.32 175.45,241.63 174.89,241.49 174.42,241.38 174.03,241.11 173.58,241.27 173.05,241.28 172.59,241.04 172.04,241.19 171.65,240.94 171.33,240.88 170.77,240.89 170.34,241.27 169.95,241.3 169.41,241.21 168.85,241.14 168.41,241.24 168.05,241.12 167.72,241.4 167.25,241.28 166.9,241.15 166.32,241.17 165.94,241.2 165.44,241.4 165,241.3 165,241.4" fill="#00f2f2"/>
<polygon points="209.3,250.2 209.3,249.92 209.81,249.98 210.2,250.16 210.71,250.11 211.26,249.87 211.66,250.07 212.05,249.8 212.42,250.08 212.96,250.02 213.54,250.02 213.94,249.75 214.45,249.59 214.92,249.57 215.25,249.76 215.61,249.95 216.16,249.68 216.53,249.48 216.98,249.65 217.39,249.72 217.85,249.72 218.2,249.35 218.61,249.52 219,249.59 219.37,249.39 219.82,249.56 220.34,249.35 220.78,249.6 221.34,249.41 221.69,249.31 222.17,249.19 222.5,249.52 223.06,249.05 223.5,249.27 223.9,248.97 224.41,249.28 224.85,248.91 225.27,248.89 225.84,248.83 226.24,249.16 226.59,248.81 226.92,248.81 227.38,249.12 227.74,248.76 228.26,248.86 228.67,248.68 229.05,249.08 229.4,248.7 229.91,248.98 230.47,248.73 231.04,248.76 231.44,248.66 231.94,248.77 232.29,248.47 232.87,248.39 233.4,248.47 233.78,248.4 234.23,248.74 234.58,248.65 234.98,248.28 235.5,248.33 235.86,248.35 236.4,248.53 236.87,248.08 237.39,248.34 237.95,248.48 238.35,248.4 238.89,248.07 239.3,248.1 239.71,248.07 240.06,247.97 240.62,248.03 241.11,248.23 241.62,247.88 242.19,248.12 242.77,248.04 243.29,248.05 243.67,247.95 244.09,248.01 244.44,247.84 244.85,247.95 245.26,247.94 245.8,247.92 246.15,247.92 246.67,247.76 247.16,247.41 247.71,247.63 248.15,247.49 248.5,247.6 248.5,249.5 248.5,249.44 247.98,249.67 247.67,249.58 247.12,249.45 246.7,249.69 246.29,249.61 245.88,249.63 245.3,249.78 244.97,249.59 244.61,249.78 244.24,249.76 243.67,249.8 243.1,249.82 242.65,249.75 242.2,249.83 241.83,249.76 241.46,249.81 241.06,250.02 240.64,249.87 240.27,249.92 239.75,249.99 239.16,250.15 238.72,249.98 238.22,250.27 237.89,250.01 237.46,250.38 237.13,250.4 236.59,250.17 236.08,250.38 235.56,250.41 235.09,250.24 234.53,250.43 234.17,250.42 233.78,250.33 233.27,250.56 232.86,250.3 232.52,250.51 232.07,250.52 231.68,250.48 231.2,250.57 230.67,250.69 230.31,250.68 229.75,250.7 229.17,250.89 228.62,250.77 228.29,250.67 227.73,250.77 227.18,250.96 226.72,251.05 226.35,251.03 225.89,251.14 225.31,250.84 224.82,251.01 224.35,250.91 223.84,251 223.44,250.98 222.88,251.22 222.46,251.13 221.88,251.35 221.5,251.34 220.99,251.14 220.58,251.4 220.04,251.32 219.7,251.31 219.19,251.34 218.72,251.21 218.15,251.29 217.65,251.65 217.24,251.44 216.87,251.58 216.32,251.52 215.87,251.59 215.33,251.65 214.99,251.67 214.44,251.6 213.92,251.87 213.48,251.89 213,251.69 212.42,251.92 212,251.81 211.63,251.95 211.3,251.7 210.92,252.02 210.6,251.85 210.26,251.84 209.85,251.85 209.3,252.11 209.3,252" fill="#00f2f2"/>
<line x1="113.8" y1="232" x2="113.8" y2="249.3" stroke="#00f2f2" stroke-width="1.2"/>
<line x1="207.5" y1="240" x2="207.5" y2="254.7" stroke="#00f2f2" stroke-width="1.4"/>
<polygon points="33.4,216.2 33.4,216.6 33.78,216.14 34.13,216.4 34.57,216.75 35.07,216.2 35.44,217.17 35.91,217 36.36,216.84 36.86,217.26 37.24,216.93 37.55,217.89 38.02,217 38.38,217.65 38.77,217.64 39.27,217.78 39.68,218.6 40.11,218.2 40.47,218.2 40.9,218.82 41.24,218.43 41.61,218.54 42.11,218.91 42.46,218.77 42.93,218.71 43.38,218.69 43.71,218.84 44.18,219.09 44.51,219.09 44.86,220.01 45.31,220.37 45.82,220.09 46.32,219.7 46.82,220.27 47.15,220.75 47.63,220.47 47.94,221.15 48.4,220.97 48.91,220.46 49.2,220.66 49.49,221.45 49.5,221.3 49.5,225.8 49.35,225.73 48.89,227.6 48.59,227.47 48.24,226.22 47.76,225.18 47.33,225.3 46.87,225.28 46.42,226.87 45.95,226.17 45.47,226.3 45.13,224.81 44.77,225.3 44.27,226 43.76,224.4 43.31,224.65 42.87,224.09 42.39,222.85 41.99,224.74 41.52,222.54 41.07,223.36 40.75,222.62 40.34,224.48 39.85,224.38 39.47,222.66 39.05,223.93 38.66,222.99 38.19,222.47 37.9,222.99 37.5,221.23 37.04,221.82 36.72,221.26 36.4,222.52 35.88,223.03 35.55,221.03 35.17,221.37 34.66,220.99 34.15,221.62 33.72,220.19 33.4,219.89 33.4,220" fill="#0a50f0"/>
<polygon points="50.2,212.5 50.2,212.42 50.7,212.52 51.08,213.14 51.38,212.93 51.69,212.18 51.99,213.18 52.38,213.01 52.72,213.07 53.16,212.13 53.56,213.2 53.89,213.14 54.23,212.74 54.73,213.74 55.25,213 55.67,213.67 56.13,213.19 56.62,213.18 57.13,213.37 57.44,213.86 57.75,213.8 58.04,214.35 58.45,214.01 58.77,213.9 59.14,213.34 59.61,213.07 60.01,213.22 60.49,214.59 60.78,213.95 61.17,214.42 61.63,213.89 62.13,213.72 62.44,214.78 62.75,213.82 63.15,214.12 63.47,215.13 63.86,214.96 64.2,215.22 64.54,215.26 64.96,215.43 65.43,214.96 65.84,215.39 66.22,214.24 66.72,215.45 67.17,215.43 67.5,215.03 67.98,215.9 68.48,214.78 68.93,215.61 69.3,215.16 69.62,215.78 70.01,215.64 70.38,216.26 70.85,216.52 71.16,217.14 71.53,217.42 72.05,216.34 72.47,217.85 72.84,217.34 73.2,216.67 73.53,216.97 73.87,217.93 74.29,218.63 74.73,217.89 75.24,218.55 75.65,219.1 76.09,218.49 76.52,218.58 77.03,218.72 77.54,218.66 77.83,219.57 78.16,219.64 78.46,220.31 78.9,220.26 79.41,220.97 79.85,220.73 80.13,219.79 80.51,221.43 80.87,220.95 81.15,220.83 81.65,221.33 82.12,220.62 82.45,221.03 82.93,221.12 83.44,221.61 83.93,222.22 84.28,223.1 84.66,222.84 84.96,223.19 85.47,222.26 85.93,222.72 86.25,223.01 86.69,224.15 87.21,224.45 87.64,224.07 87.95,224.31 88.37,223.89 88.86,223.91 89.18,223.88 89.49,224.69 89.96,224.18 90.36,225 90.78,224.9 91.19,224.43 91.48,225.19 91.82,225.86 92.16,226.09 92.5,225.05 92.89,225.68 93.25,226.42 93.59,226.4 94.07,226.23 94.47,227.14 94.89,226.12 95.19,226.07 95.55,226.22 95.98,226.93 96.34,227.21 96.84,226.97 97.16,227.19 97.52,228.3 97.97,227.7 98.29,227.21 98.6,228.61 99.03,227.68 99.46,227.69 99.86,228.28 100.17,229.09 100.62,229 100.94,229.45 101.32,229.68 101.63,230.25 101.91,229.33 102.28,229.53 102.58,230.5 103.1,230.25 103.45,231 103.78,230.78 104.22,231.1 104.54,230.72 104.95,232.44 105.45,231.33 105.85,232.2 106.18,232.69 106.58,233.16 106.93,233.58 107.4,233.13 107.72,233.34 108.03,233.86 108.48,233.96 108.99,233.43 109.44,234.92 109.75,234.34 110.04,234.94 110.5,234.84 110.94,235.15 111.39,235.28 111.91,235.86 112.19,235.48 112.3,236.4 112.3,239.8 112.13,239.71 111.74,241.28 111.35,240.82 111.04,241.15 110.61,240 110.11,238.37 109.77,240.12 109.3,240.47 108.95,239.9 108.57,240.29 108.08,239.79 107.58,237.65 107.23,237.12 106.92,238.36 106.62,236.53 106.26,236.23 105.9,238.67 105.57,238.39 105.16,237.67 104.68,236.68 104.19,235.16 103.78,237.39 103.46,237.28 103.12,236.75 102.6,237.11 102.31,236 102.01,235.97 101.53,236.68 101.14,234.67 100.68,235.04 100.2,234.43 99.87,234.66 99.4,234.62 98.99,234.65 98.64,232.88 98.21,233.76 97.9,233.84 97.54,233.58 97.22,233.77 96.91,233.74 96.57,233.76 96.13,232.03 95.8,232.8 95.41,233.25 94.96,233.94 94.63,231.01 94.17,231.88 93.69,231.94 93.22,231.08 92.85,231.58 92.41,232.06 92.09,231.15 91.72,232.68 91.34,230.68 90.86,230.46 90.5,230.93 90.06,229.51 89.69,231.89 89.39,229.76 88.98,230.59 88.62,229.68 88.13,229.05 87.64,229.35 87.24,229.61 86.92,230.91 86.52,229.93 86.17,229.23 85.78,228.68 85.48,227.74 85.2,228 84.81,227.5 84.29,228.37 83.83,227.66 83.53,229.18 83.15,228.29 82.67,228.81 82.24,227.01 81.87,226.36 81.35,227.45 80.89,226.66 80.41,228.07 80.12,226.71 79.7,226.17 79.22,225.99 78.7,225.43 78.2,226 77.82,225.71 77.49,225.03 77.09,226.32 76.66,225.34 76.37,225.23 75.95,225.88 75.61,226.73 75.13,224.43 74.78,225.54 74.34,223.61 74.01,225.31 73.57,224.28 73.1,224.24 72.82,224.16 72.45,222.95 72.11,224.56 71.73,223.96 71.23,222.82 70.86,224.65 70.54,223.5 70.05,224.6 69.69,224.48 69.18,222.59 68.87,222.18 68.35,222.4 67.97,222.68 67.48,223.82 66.99,223.32 66.59,221.92 66.22,222.51 65.77,223.35 65.46,221.92 65.12,223.27 64.61,222.77 64.21,223.58 63.92,221.72 63.62,221.4 63.18,222.41 62.74,222.39 62.27,221.05 61.94,222.49 61.48,221.28 61.12,221.22 60.73,220.71 60.28,221.44 59.8,222.03 59.43,220.71 59.06,221.31 58.55,220.43 58.15,221.96 57.7,221.84 57.35,221.07 57.03,221.41 56.65,220.86 56.25,220.11 55.92,220.98 55.51,220.27 55.15,220.53 54.75,219.6 54.33,221.78 53.9,221.77 53.48,221.38 53.01,221.43 52.65,221.62 52.16,219.61 51.87,218.51 51.43,219.56 51.12,220.51 50.63,218.74 50.2,220.79 50.2,218.8" fill="#0a50f0"/>
<line x1="71.7" y1="212.95" x2="71.7" y2="236.06" stroke="#00f2f2" stroke-width="0.82" opacity="0.75"/>
<line x1="71.08" y1="212.64" x2="71.08" y2="235.38" stroke="#00f2f2" stroke-width="0.6" opacity="0.75"/>
<line x1="70.65" y1="212.42" x2="70.65" y2="228.93" stroke="#00f2f2" stroke-width="0.88" opacity="0.75"/>
<line x1="73.31" y1="213.76" x2="73.31" y2="232.88" stroke="#00f2f2" stroke-width="0.65" opacity="0.75"/>
<line x1="66.99" y1="210.78" x2="66.99" y2="236.17" stroke="#00f2f2" stroke-width="0.77" opacity="0.75"/>
<line x1="82.7" y1="218.45" x2="82.7" y2="230.82" stroke="#00f2f2" stroke-width="0.5" opacity="0.75"/>
<line x1="72.93" y1="213.56" x2="72.93" y2="235.88" stroke="#00f2f2" stroke-width="0.73" opacity="0.75"/>
<line x1="74.01" y1="214.11" x2="74.01" y2="233.08" stroke="#00f2f2" stroke-width="0.48" opacity="0.75"/>
<line x1="83.49" y1="218.85" x2="83.49" y2="232.37" stroke="#00f2f2" stroke-width="0.65" opacity="0.75"/>
<line x1="81.06" y1="217.63" x2="81.06" y2="228.67" stroke="#00f2f2" stroke-width="0.76" opacity="0.75"/>
<line x1="73.04" y1="213.62" x2="73.04" y2="236.97" stroke="#00f2f2" stroke-width="0.45" opacity="0.75"/>
<line x1="71.61" y1="212.9" x2="71.61" y2="234.58" stroke="#00f2f2" stroke-width="0.64" opacity="0.75"/>
<line x1="73.47" y1="213.84" x2="73.47" y2="233.81" stroke="#00f2f2" stroke-width="0.51" opacity="0.75"/>
<line x1="74.59" y1="214.4" x2="74.59" y2="226.03" stroke="#00f2f2" stroke-width="0.8" opacity="0.75"/>
<polygon points="115.2,228.9 115.2,228.6 115.74,228.84 116.22,228.9 116.57,229.02 116.96,229.09 117.49,228.94 118.02,228.75 118.52,229.16 118.88,228.48 119.31,228.81 119.67,228.58 120.22,228.71 120.57,228.55 121.04,228.55 121.48,228.83 121.92,228.8 122.46,228.41 123.03,228.56 123.35,229.01 123.82,228.83 124.19,229.02 124.59,228.98 124.97,228.86 125.46,228.7 125.9,228.45 126.39,228.95 126.75,228.84 127.26,228.48 127.8,229.1 128.13,228.6 128.47,228.6 128.81,228.79 129.19,228.64 129.63,228.7 130.16,228.98 130.5,228.58 130.82,228.66 131.16,228.96 131.69,229.2 132.06,228.43 132.58,228.73 133.15,228.71 133.55,228.46 134.12,228.81 134.55,228.75 135.07,229.06 135.52,228.54 135.94,229.11 136.37,228.93 136.83,228.77 137.3,228.6 137.77,229.09 138.11,228.7 138.66,229.18 138.98,228.9 139.46,229.07 139.9,228.5 140.3,228.97 140.81,228.56 141.3,228.93 141.79,228.42 142.23,228.66 142.7,228.67 143.05,228.94 143.45,229.03 143.84,228.84 144.38,228.49 144.89,228.45 145.46,228.42 145.97,228.69 146.33,228.72 146.78,228.73 147.13,228.82 147.52,229.17 147.94,228.75 148.32,229.18 148.72,228.92 149.26,228.71 149.78,228.62 150.12,228.43 150.56,229.1 150.93,228.75 151.45,228.62 151.81,228.82 152.24,229.15 152.8,228.59 153.26,228.73 153.59,228.76 154.15,228.64 154.62,228.97 154.95,229.14 155.3,228.64 155.81,228.42 156.22,228.5 156.67,228.41 157.02,228.58 157.36,228.47 157.73,228.81 158.08,229.06 158.51,228.6 158.89,229.07 159.21,228.99 159.55,229.16 159.98,228.88 160.53,228.64 160.86,229.21 161.33,229.38 161.72,229.32 162.09,229.38 162.48,229.62 162.88,229.49 163.36,229.49 163.9,229.97 164.27,229.78 164.3,230.2 164.3,232.1 164.12,232.41 163.65,232.07 163.09,232.77 162.53,231.78 162.03,232.53 161.71,232.25 161.12,232.25 160.65,230.97 160.17,231.85 159.66,230.76 159.23,231.35 158.82,231.43 158.48,231.55 158.1,231.2 157.78,231.5 157.31,231.89 156.73,231.68 156.19,231.28 155.86,230.79 155.54,231.15 155.17,232.15 154.69,231.14 154.24,231.63 153.82,231.41 153.42,231.03 152.95,231.85 152.41,231.31 151.83,231.31 151.39,230.72 150.95,230.82 150.59,232.16 150.23,231.66 149.7,231.38 149.11,232.15 148.71,231.47 148.36,230.92 147.8,231.76 147.42,231.95 146.94,230.91 146.54,231.89 146.1,231.42 145.57,232.17 145.08,231.74 144.51,231.83 144.11,230.93 143.69,232.17 143.29,231.64 142.75,232.18 142.28,231.74 141.75,231.66 141.25,231.1 140.82,231.21 140.36,231.05 139.83,231.65 139.32,232.05 138.82,230.87 138.27,231.03 137.72,232.33 137.3,232.31 136.91,231.23 136.46,231.74 135.95,231.02 135.63,231.25 135.26,232.32 134.94,231.44 134.39,230.9 133.97,231.54 133.66,231.49 133.27,231.35 132.73,231.4 132.18,231.25 131.67,231.15 131.33,231.42 130.96,231.78 130.6,231.18 130.1,232.2 129.56,232.14 129.15,231.41 128.7,232.13 128.32,232.27 127.78,232.37 127.27,232.08 126.89,232.23 126.45,232.46 125.92,232.43 125.35,231.27 124.9,231.85 124.47,231.97 123.96,232.05 123.54,231.64 123.12,232.45 122.76,231.08 122.26,232 121.81,231.18 121.32,231.18 120.81,231.73 120.44,231.97 120.06,231.31 119.51,231.17 119.04,232.27 118.56,232.56 118.19,231.98 117.65,231.46 117.08,232.56 116.52,232.56 116.14,232.43 115.71,231.66 115.2,231.86 115.2,231.3" fill="#0c58f4"/>
<polygon points="165,240.5 165,240.64 165.43,239.97 165.84,240.84 166.25,240.8 166.67,240.89 166.96,240.08 167.37,240.45 167.88,240.27 168.28,240.26 168.68,240.35 169.19,239.28 169.55,240.55 169.84,240.41 170.13,240.18 170.6,239.54 170.97,239.5 171.42,239.93 171.85,239.6 172.27,240.57 172.74,240.62 173.08,240.01 173.45,239.81 173.92,239.61 174.34,240.56 174.84,239.5 175.18,240.25 175.69,239.82 176.17,240.24 176.58,241.09 176.88,240.23 177.2,239.97 177.55,240.87 177.97,240.06 178.44,240.69 178.75,241.2 179.23,240.36 179.74,241.32 180.07,240.15 180.56,241.42 180.86,241.22 181.33,240.86 181.81,241.22 182.17,240.87 182.67,239.92 183.11,240.32 183.6,239.98 183.94,239.38 184.35,239.07 184.84,240.03 185.18,239.62 185.62,238.61 186.09,239.41 186.44,238.29 186.79,239.18 187.18,239.11 187.5,237.93 187.86,238.97 188.18,237.73 188.64,237.82 189.08,237.87 189.42,238.78 189.91,238.47 190.3,237.95 190.66,238.32 191.13,239.09 191.6,238.88 192.04,238.33 192.42,238.63 192.76,239.34 193.1,238.77 193.44,239.62 193.88,239.1 194.25,239.79 194.75,239.09 195.17,239.72 195.51,238.83 195.82,239.2 196.28,238.69 196.66,239.95 197.06,239.05 197.54,239.83 197.91,238.68 198.34,239.62 198.85,239.51 199.2,239.3 199.55,239.21 199.94,239.91 200.44,239.95 200.83,240.01 201.15,239.96 201.58,239.9 201.96,240.08 202.25,239.87 202.72,239.18 203.2,238.95 203.66,239.34 204.04,238.94 204.51,239.75 204.81,240.13 205.15,239.24 205.53,239.55 206.02,240.11 206.2,239.7 206.2,244 205.9,244.39 205.54,245.45 205.15,245.1 204.82,243.82 204.33,244.8 204.03,245.14 203.71,244.6 203.39,243.77 203.04,243.6 202.59,243.89 202.08,244.35 201.65,243.87 201.21,244.47 200.84,245.14 200.43,243.93 199.99,243.51 199.49,245.29 199.19,244.64 198.7,243.68 198.34,244.36 197.92,244.98 197.42,244.07 196.97,244.92 196.56,243.97 196.18,244.51 195.84,243.7 195.53,244.07 195.22,243.75 194.87,245.12 194.59,243.93 194.11,243.35 193.61,244.11 193.29,243.85 192.93,243.18 192.42,244.99 192.08,244.17 191.63,244.48 191.28,244.81 190.79,243.41 190.39,243.32 190.08,243.07 189.62,242.95 189.17,243 188.75,244.06 188.39,242.74 188.02,243.12 187.7,244.06 187.27,243.82 186.94,244.2 186.49,243.91 186.05,244.7 185.61,243.85 185.33,244.37 185,245.08 184.71,244.62 184.25,244.9 183.78,244.38 183.43,245.62 183.05,245.31 182.77,246.07 182.48,246.38 182.11,246.51 181.64,245.85 181.18,245.57 180.72,245.62 180.27,245.54 179.92,246.46 179.45,246.7 179.07,244.94 178.58,245.31 178.22,245.01 177.79,245.81 177.35,246.64 177.02,245.77 176.65,245.91 176.23,246.16 175.86,245.93 175.47,246.08 175.15,244.78 174.81,245.26 174.47,245.57 174.01,244.33 173.61,244.3 173.28,245.47 172.87,244.25 172.51,245.71 172.01,244.76 171.57,245.36 171.27,244.13 170.86,245.14 170.48,245.65 170.14,245.88 169.67,244.82 169.36,244.26 169.03,245.3 168.51,245.09 168.11,244.85 167.77,245.09 167.36,245.45 166.86,244.64 166.48,245.02 166.1,246.3 165.71,245.53 165.31,244.52 165,245.13 165,244.8" fill="#0c58f4"/>
<polygon points="209.3,251 209.3,250.78 209.88,251.17 210.24,250.87 210.81,250.49 211.36,250.97 211.88,250.8 212.22,251.06 212.56,250.89 213.07,250.48 213.57,250.52 214.09,250.19 214.66,250.43 215.19,250.46 215.72,250.28 216.18,250.03 216.63,250.04 217.18,250.48 217.61,250.69 218.18,250.63 218.52,250.41 219.03,250.29 219.35,250.52 219.78,250.23 220.31,249.93 220.64,250.43 221.03,249.7 221.38,250.43 221.89,249.77 222.25,250.29 222.74,250.01 223.09,249.85 223.66,249.48 224.09,249.49 224.67,249.49 225.25,250.03 225.76,249.36 226.26,249.68 226.71,249.37 227.16,249.87 227.51,249.9 227.94,249.38 228.32,249.51 228.81,249.56 229.37,249.48 229.82,249.83 230.19,249.02 230.6,249.23 230.95,249.29 231.27,249.67 231.72,249.6 232.22,249.45 232.74,249.07 233.25,248.95 233.72,249.23 234.24,248.85 234.65,249.35 235.18,249.43 235.53,248.79 235.87,249.18 236.39,249.08 236.91,248.94 237.38,249.23 237.87,248.98 238.34,248.82 238.86,248.85 239.21,248.7 239.64,248.68 240.11,248.59 240.53,248.61 240.94,249.02 241.28,248.23 241.79,248.5 242.23,248.62 242.64,248.31 242.96,248.79 243.53,248.28 243.97,248.28 244.3,248.71 244.84,248.15 245.23,248.49 245.76,248.27 246.18,248.05 246.71,248.52 247.25,247.88 247.73,248.54 248.24,248.09 248.5,248.2 248.5,250.4 248.31,250.82 247.84,250.67 247.49,250.71 247.13,250.44 246.73,251.05 246.38,250.8 245.85,251.14 245.5,251.17 244.96,250.78 244.61,251.34 244.13,250.67 243.73,250.56 243.19,250.63 242.75,251.59 242.24,251.26 241.79,251.24 241.41,250.9 241.07,251.69 240.7,251.32 240.21,251.48 239.85,251.09 239.29,251.34 238.92,251.27 238.44,250.97 237.86,251.06 237.47,251.3 236.97,251.73 236.39,251.95 236.02,251.2 235.63,252.1 235.22,251.87 234.87,252.11 234.49,252.28 234.16,251.6 233.64,252.34 233.26,251.76 232.79,252.23 232.33,251.64 231.97,251.43 231.62,252.12 231.07,252.21 230.54,252.35 230.13,251.82 229.74,251.81 229.34,252.17 228.8,251.84 228.42,251.71 227.98,252.45 227.67,252.29 227.17,252.09 226.81,251.98 226.35,252.29 225.84,252.21 225.29,252.01 224.9,252.3 224.4,252.5 223.82,252.24 223.26,252.47 222.7,252.89 222.28,252.6 221.86,252.94 221.43,252.5 221.06,252.3 220.69,252.37 220.13,252.71 219.75,252.43 219.22,252.59 218.75,252.61 218.29,253.35 217.81,252.73 217.45,253.03 217.1,252.48 216.7,253.17 216.21,252.96 215.87,253.2 215.46,253.61 214.89,252.96 214.38,252.84 213.85,253.16 213.45,253.33 213.04,252.98 212.69,253.56 212.13,253.07 211.7,253.48 211.36,253.53 210.79,253.87 210.35,253.66 209.81,253.04 209.3,253.07 209.3,253.2" fill="#0c58f4"/>
<line x1="113.9" y1="236" x2="113.9" y2="249" stroke="#0a50f0" stroke-width="0.8"/>
<line x1="207.6" y1="243" x2="207.6" y2="254.5" stroke="#0a50f0" stroke-width="1"/>
<polyline points="33.8,270.4 48.8,270.4 49.4,269.4 112.4,269.4 112.8,274 114.6,274 115,269.6 163.6,269.6 164,270.9 205.5,270.9 205.9,274 208.5,274 209,272.5 248,272.5" fill="none" stroke="#d2ff1e" stroke-width="1"/>
<polyline points="33.8,276 48.8,276 49.4,274.8 112.4,275.6 112.8,279.2 114.6,279.2 115,276 163.6,275.3 164,276.6 205.5,275.8 205.9,279.6 208.5,279.6 209,276.9 248,275.8" fill="none" stroke="#c060ff" stroke-width="0.8"/>
<polyline points="33.8,276.55 48.8,276.55 49.4,275.35 112.4,276.15 112.8,279.75 114.6,279.75 115,276.55 163.6,275.85 164,277.15 205.5,276.35 205.9,280.15 208.5,280.15 209,277.45 248,276.35" fill="none" stroke="#5a3cff" stroke-width="1"/>
<polyline points="33.8,279.6 48.8,279.6 49.4,278.6 112.4,280 112.8,282 114.6,282 115,279.6 163.6,278.6 164,280.1 205.5,279.6 205.9,281.9 208.5,281.9 209,280.1 248,280.1" fill="none" stroke="#ff30b0" stroke-width="0.9"/>
<polyline points="33.8,280.2 48.8,280.2 49.4,279.2 112.4,280.6 112.8,282.6 114.6,282.6 115,280.2 163.6,279.2 164,280.7 205.5,280.2 205.9,282.5 208.5,282.5 209,280.7 248,280.7" fill="none" stroke="#f41048" stroke-width="1"/>
<rect x="33.4" y="178.5" width="219.35" height="106.15" fill="none" stroke="#a4a4a4" stroke-width="1"/>
<text transform="translate(33.4,296.6) scale(0.945,1)" font-size="8.4" text-anchor="middle">0</text>
<line x1="70.02" y1="284.65" x2="70.02" y2="282.45" stroke="#a4a4a4" stroke-width="0.9"/>
<line x1="70.02" y1="178.5" x2="70.02" y2="180.7" stroke="#a4a4a4" stroke-width="0.9"/>
<text transform="translate(70.02,296.6) scale(0.945,1)" font-size="8.4" text-anchor="middle">1000</text>
<line x1="106.64" y1="284.65" x2="106.64" y2="282.45" stroke="#a4a4a4" stroke-width="0.9"/>
<line x1="106.64" y1="178.5" x2="106.64" y2="180.7" stroke="#a4a4a4" stroke-width="0.9"/>
<text transform="translate(106.64,296.6) scale(0.945,1)" font-size="8.4" text-anchor="middle">2000</text>
<line x1="143.26" y1="284.65" x2="143.26" y2="282.45" stroke="#a4a4a4" stroke-width="0.9"/>
<line x1="143.26" y1="178.5" x2="143.26" y2="180.7" stroke="#a4a4a4" stroke-width="0.9"/>
<text transform="translate(143.26,296.6) scale(0.945,1)" font-size="8.4" text-anchor="middle">3000</text>
<line x1="179.88" y1="284.65" x2="179.88" y2="282.45" stroke="#a4a4a4" stroke-width="0.9"/>
<line x1="179.88" y1="178.5" x2="179.88" y2="180.7" stroke="#a4a4a4" stroke-width="0.9"/>
<text transform="translate(179.88,296.6) scale(0.945,1)" font-size="8.4" text-anchor="middle">4000</text>
<line x1="216.5" y1="284.65" x2="216.5" y2="282.45" stroke="#a4a4a4" stroke-width="0.9"/>
<line x1="216.5" y1="178.5" x2="216.5" y2="180.7" stroke="#a4a4a4" stroke-width="0.9"/>
<text transform="translate(216.5,296.6) scale(0.945,1)" font-size="8.4" text-anchor="middle">5000</text>
<text transform="translate(253.12,296.6) scale(0.945,1)" font-size="8.4" text-anchor="middle">6000</text>
<text transform="translate(30.1,182.2) scale(0.945,1)" font-size="8.4" text-anchor="end">3.5</text>
<line x1="33.4" y1="200.16" x2="35.6" y2="200.16" stroke="#a4a4a4" stroke-width="0.9"/>
<line x1="252.75" y1="200.16" x2="250.55" y2="200.16" stroke="#a4a4a4" stroke-width="0.9"/>
<text transform="translate(30.1,203.26) scale(0.945,1)" font-size="8.4" text-anchor="end">3</text>
<line x1="33.4" y1="221.22" x2="35.6" y2="221.22" stroke="#a4a4a4" stroke-width="0.9"/>
<line x1="252.75" y1="221.22" x2="250.55" y2="221.22" stroke="#a4a4a4" stroke-width="0.9"/>
<text transform="translate(30.1,224.32) scale(0.945,1)" font-size="8.4" text-anchor="end">2.5</text>
<line x1="33.4" y1="242.28" x2="35.6" y2="242.28" stroke="#a4a4a4" stroke-width="0.9"/>
<line x1="252.75" y1="242.28" x2="250.55" y2="242.28" stroke="#a4a4a4" stroke-width="0.9"/>
<text transform="translate(30.1,245.38) scale(0.945,1)" font-size="8.4" text-anchor="end">2</text>
<line x1="33.4" y1="263.34" x2="35.6" y2="263.34" stroke="#a4a4a4" stroke-width="0.9"/>
<line x1="252.75" y1="263.34" x2="250.55" y2="263.34" stroke="#a4a4a4" stroke-width="0.9"/>
<text transform="translate(30.1,266.44) scale(0.945,1)" font-size="8.4" text-anchor="end">1.5</text>
<text transform="translate(30.1,287.5) scale(0.945,1)" font-size="8.4" text-anchor="end">1</text>
<text transform="translate(143.07,307.9) scale(0.940,1)" font-size="9.6" text-anchor="middle">epoch</text>
<text transform="translate(14.5,231.57) rotate(-90) scale(0.93,1)" font-size="9.7" text-anchor="middle">PDOP</text>
<text class="cap" x="136.3" y="335.2" font-size="13.1" text-anchor="middle">(<tspan>c</tspan>)</text>
<polygon points="309.5,218.7 309.5,218.82 309.84,218.74 310.41,219.13 310.97,219.27 311.43,219.42 311.9,219.3 312.28,219.41 312.83,219.67 313.26,219.89 313.6,220.07 314.13,220.27 314.68,220.25 315.04,220.54 315.54,220.54 315.95,220.58 316.49,220.87 317.02,220.99 317.42,221.19 317.94,221.5 318.35,221.55 318.77,221.75 319.29,221.79 319.71,221.81 320.26,222.19 320.66,222.03 321.03,222.5 321.35,222.54 321.81,222.58 322.27,222.66 322.74,222.68 323.3,222.86 323.65,223.2 324.14,223.41 324.64,223.61 324.97,223.35 325.35,223.78 325.71,223.79 326.23,223.8 326.69,224.24 327.2,224.2 327.65,224.29 327.7,224.4 327.7,228 327.58,227.88 327.22,227.86 326.69,227.86 326.13,227.71 325.77,227.52 325.33,227.16 324.93,227.23 324.49,227.2 323.99,227.08 323.6,226.91 323.13,226.81 322.73,226.65 322.4,226.45 322.08,226.35 321.71,226.54 321.17,226.4 320.74,225.94 320.33,225.82 319.99,226.01 319.48,225.92 318.9,225.52 318.43,225.38 317.99,225.36 317.45,225.35 317.11,225.07 316.73,224.91 316.26,224.69 315.91,224.58 315.42,224.82 315.01,224.64 314.5,224.31 314.14,224.42 313.7,224.24 313.14,223.8 312.56,223.85 312.03,223.72 311.59,223.65 311.04,223.37 310.51,223.27 310,223.06 309.5,223.11 309.5,223" fill="#30f838"/>
<polygon points="327.9,228.3 327.9,228.49 328.25,228.18 328.66,228.42 329.13,228.43 329.67,228.65 330.23,228.77 330.63,228.81 331.21,229.1 331.75,229.02 332.21,229.39 332.79,229.61 333.13,229.46 333.72,229.67 334.29,229.69 334.61,230.04 335,229.97 335.41,230.08 335.98,230.36 336.53,230.21 337.07,230.24 337.49,230.71 337.8,230.6 337.8,236 337.7,235.88 337.35,235.97 337.01,235.6 336.58,235.73 336.15,235.46 335.72,235.64 335.37,235.42 334.91,235.08 334.36,235.01 333.81,235.02 333.39,235.02 332.89,234.85 332.31,234.62 331.92,234.53 331.36,234.56 330.83,234.22 330.3,234.3 329.96,233.88 329.55,234 329.22,234 328.88,233.81 328.37,233.51 327.9,233.45 327.9,233.5" fill="#30f838"/>
<polygon points="338.7,198.5 338.7,202.17 339.13,197.21 339.38,200.21 339.75,197.15 340,197.07 340.29,197.43 340.74,194.56 341,197.26 341.27,194.21 341.61,198.51 341.92,194.24 342.27,193.04 342.59,196 342.91,196.32 343.19,191.92 343.57,193.91 344.01,191.69 344.41,194.95 344.73,191.61 345.1,195.28 345.45,193.46 345.84,194.16 346.17,191.52 346.51,193.6 346.95,196.14 347.31,192.03 347.6,193.76 348,191.34 348.39,195.73 348.72,195.27 349.05,193.45 349.48,190.63 349.8,195.19 350.06,191.01 350.4,193.51 350.78,194.47 351.17,188.74 351.43,188.85 351.76,188.66 352.12,192.15 352.4,193.38 352.74,193.87 353.06,191.69 353.41,189.33 353.82,187.53 354.12,189.25 354.55,190.07 354.8,188.71 355.18,191.55 355.44,191.21 355.77,189.48 356.11,188.81 356.56,191.62 357,190.45 357.2,187.5 357.2,205 357.15,205 356.88,205 356.47,205 356.22,205 355.81,205 355.43,205 355,205 354.64,205 354.38,205 354.08,205 353.64,205 353.21,205 352.91,205 352.55,205 352.17,205 351.78,205 351.4,205 351.01,205 350.73,205 350.47,205 350.11,205 349.74,205 349.32,205 348.89,205 348.48,205 348.17,205 347.81,205 347.46,205 347.19,205 346.94,205 346.62,205 346.33,205 346.06,205 345.62,205 345.17,205 344.76,205 344.43,205 344.18,205 343.91,205 343.62,205 343.2,205 342.93,205 342.66,205 342.25,205 341.85,205 341.52,205 341.11,205 340.66,205 340.34,205 340.09,205 339.65,205 339.34,205 338.95,205 338.7,205 338.7,205" fill="#30f838"/>
<polygon points="357.6,190.6 357.6,190.54 357.92,190.62 358.24,190.52 358.66,190.47 358.97,190.45 359.35,190.44 359.78,190.41 360.18,190.27 360.72,190.44 361.17,190.18 361.55,190.41 361.99,190.16 362.52,190.38 362.87,190.28 363.34,190.18 363.74,190.34 364.24,190.36 364.72,190.3 365.05,190.21 365.59,190.48 366.15,190.26 366.67,190.31 367.08,190.33 367.63,190.53 368.17,190.44 368.74,190.49 369.21,190.69 369.59,190.66 369.93,190.84 370.29,190.7 370.68,190.91 371.17,190.96 371.72,191.11 372.09,191.1 372.45,191.07 372.8,191.08 373.21,191.39 373.7,191.22 374.08,191.43 374.54,191.34 374.88,191.55 375.35,191.5 375.88,191.66 376.35,191.85 376.76,192.06 377.18,191.99 377.64,192.22 378.22,192.32 378.68,192.4 379.17,192.58 379.75,192.65 380.12,192.67 380.56,192.66 381.08,192.77 381.59,192.96 382.02,193.12 382.53,193.35 383.11,193.46 383.5,193.53 383.95,193.73 384.38,193.68 384.71,193.81 385.16,193.89 385.51,194.04 385.84,194.04 386.28,194.22 386.73,194.4 387.15,194.4 387.47,194.62 388.04,194.7 388.45,194.84 388.97,195.05 389.5,195.07 389.85,195.24 390.26,195.43 390.68,195.73 391.12,195.75 391.69,195.95 392.17,196.16 392.57,196.05 393.15,196.38 393.62,196.39 394.14,196.64 394.62,196.77 395.19,196.98 395.58,197.29 395.95,197.26 396.4,197.64 396.74,197.55 397.27,197.72 397.7,198.1 398.21,198.3 398.55,198.47 398.97,198.6 399.41,198.8 399.85,198.79 400.21,199 400.54,199.03 401.09,199.37 401.64,199.46 402.08,199.73 402.42,199.8 402.99,200.16 403.44,200.3 403.99,200.62 404.46,200.54 405.01,200.79 405.39,200.93 405.85,201.24 406.29,201.38 406.64,201.59 407.1,201.65 407.64,202.05 408.2,202.29 408.54,202.24 408.97,202.37 409.49,202.77 409.84,202.79 410.42,203.14 410.86,203.09 411.29,203.39 411.82,203.51 412.21,203.91 412.53,203.93 412.87,204.11 413.3,204.34 413.67,204.48 414.05,204.39 414.39,204.54 414.81,204.98 415.22,205.07 415.54,205.15 416.01,205.21 416.48,205.51 416.88,205.79 417.38,205.79 417.73,205.91 418.11,206.24 418.69,206.58 419.24,206.56 419.77,206.96 420.21,207.22 420.68,207.15 421.06,207.31 421.54,207.66 422.08,207.7 422.4,208.12 422.79,208.06 423.34,208.25 423.87,208.7 424.33,208.81 424.65,208.94 425.13,209.19 425.58,209.18 425.96,209.5 426.3,209.48 426.68,209.85 427.14,209.92 427.72,210.23 428.1,210.39 428.64,210.56 429.07,210.8 429.66,211.07 430.02,211.21 430.42,211.35 430.93,211.43 431.38,211.71 431.86,212.06 432.3,212.19 432.69,212.25 433.14,212.52 433.52,212.75 433.97,212.82 434.35,213.13 434.91,213.39 435.29,213.3 435.78,213.49 436.33,213.92 436.73,214.02 437,214.1 437,221.1 436.6,220.93 436.07,220.7 435.7,220.55 435.16,220.32 434.72,220.13 434.32,219.96 433.83,219.75 433.29,219.52 432.82,219.32 432.26,219.09 431.71,218.85 431.32,218.69 430.97,218.54 430.54,218.35 430.06,218.15 429.48,217.9 429.16,217.77 428.59,217.52 428.01,217.28 427.56,217.09 427.21,216.94 426.83,216.78 426.41,216.6 425.86,216.37 425.52,216.22 425.11,216.05 424.69,215.87 424.26,215.69 423.78,215.5 423.28,215.29 422.9,215.13 422.4,214.93 422.04,214.78 421.66,214.62 421.25,214.45 420.89,214.3 420.53,214.15 420.19,214.01 419.7,213.81 419.24,213.62 418.84,213.46 418.42,213.28 418.03,213.12 417.63,212.95 417.23,212.79 416.82,212.62 416.49,212.48 416.08,212.31 415.73,212.17 415.16,211.93 414.7,211.74 414.27,211.57 413.76,211.35 413.37,211.19 412.88,210.99 412.33,210.76 411.76,210.53 411.33,210.35 410.88,210.16 410.52,210.02 410.07,209.83 409.49,209.6 409.06,209.43 408.6,209.25 408.18,209.08 407.61,208.86 407.2,208.7 406.87,208.57 406.48,208.42 405.93,208.2 405.53,208.04 405.03,207.85 404.5,207.64 404.04,207.45 403.46,207.23 402.93,207.02 402.41,206.81 401.89,206.61 401.56,206.48 401.19,206.34 400.75,206.16 400.19,205.94 399.86,205.81 399.37,205.62 399.05,205.49 398.49,205.27 398.04,205.09 397.61,204.93 397.12,204.73 396.78,204.6 396.24,204.39 395.67,204.17 395.26,204 394.69,203.8 394.35,203.7 394.01,203.59 393.62,203.47 393.06,203.29 392.65,203.16 392.28,203.04 391.83,202.9 391.33,202.75 390.99,202.64 390.53,202.5 390.03,202.34 389.7,202.23 389.27,202.1 388.73,201.93 388.27,201.78 387.88,201.67 387.4,201.53 386.87,201.38 386.32,201.23 385.83,201.09 385.25,200.92 384.84,200.8 384.37,200.67 383.93,200.55 383.47,200.42 382.93,200.26 382.58,200.16 382.21,200.06 381.72,199.94 381.24,199.84 380.91,199.77 380.36,199.65 380.02,199.58 379.5,199.46 378.92,199.34 378.59,199.27 378.14,199.17 377.77,199.09 377.34,199 376.9,198.91 376.4,198.8 375.96,198.7 375.5,198.61 375.13,198.53 374.8,198.47 374.23,198.38 373.68,198.29 373.16,198.21 372.67,198.13 372.34,198.08 371.98,198.03 371.62,197.97 371.28,197.91 370.8,197.84 370.33,197.77 370.01,197.72 369.46,197.63 369.06,197.57 368.62,197.5 368.08,197.41 367.54,197.38 367.03,197.37 366.57,197.35 366.22,197.34 365.74,197.32 365.3,197.31 364.85,197.3 364.38,197.28 364.05,197.27 363.53,197.25 363.09,197.24 362.61,197.22 362.2,197.21 361.75,197.22 361.31,197.26 360.85,197.3 360.29,197.36 359.73,197.41 359.24,197.45 358.86,197.49 358.51,197.52 358.01,197.56 357.6,197.6 357.6,197.6" fill="#30f838"/>
<polygon points="437.4,210.4 437.4,210.21 437.74,210.55 438.19,210.39 438.63,210.81 439.05,210.73 439.48,210.79 439.8,211.01 440.28,210.88 440.67,210.89 441.24,211.26 441.65,211.24 442.12,211.17 442.44,211.44 442.8,211.44 443.12,211.29 443.48,211.61 443.96,211.83 444.45,211.74 444.77,211.97 445.22,212.02 445.54,212.07 445.99,211.9 446.41,211.93 446.88,212.07 447.39,212.15 447.89,212.42 448.4,212.65 448.79,212.62 449.21,212.78 449.75,212.83 450.23,212.72 450.79,213.11 451.36,212.97 451.9,213.2 452.44,213.35 452.88,213.27 453.41,213.48 453.87,213.65 454.19,213.37 454.63,213.49 455.17,213.58 455.73,213.74 456.08,214.02 456.58,213.98 457.05,214.12 457.62,214.21 458.08,214.28 458.51,214.45 458.85,214.52 459.42,214.65 459.88,214.58 460.22,214.54 460.68,214.94 461.23,214.76 461.75,215.11 462.2,215.21 462.56,215.07 463.01,215.32 463.45,215.23 464,215.37 464.43,215.38 464.87,215.66 465.29,215.71 465.73,215.52 466.31,215.72 466.77,216.06 467.14,215.77 467.51,215.86 468.06,216.09 468.38,216.05 468.84,216.08 469.23,216.43 469.67,216.24 470.15,216.26 470.6,216.55 470.94,216.56 471.34,216.7 471.82,216.85 472.3,216.63 472.66,216.9 473.2,216.73 473.63,216.88 474.07,217.19 474.53,217.21 475.05,217.11 475.54,217.22 475.98,217.36 476.47,217.29 477.02,217.37 477.42,217.71 478,217.61 478.57,217.57 479.14,217.73 479.47,218 479.82,218.06 480.14,217.85 480.55,217.9 480.99,218.08 481.51,218.22 482.08,218.45 482.45,218.54 483,218.49 483.46,218.4 483.86,218.48 484.23,218.7 484.63,218.83 485.1,218.92 485.44,218.99 485.89,218.97 486.27,219.06 486.7,219.14 487.17,218.98 487.57,219.29 487.88,219.29 488.35,219.39 488.75,219.36 489.19,219.54 489.53,219.5 489.91,219.59 490.3,219.5 490.68,219.84 491.09,219.9 491.6,219.73 492.07,219.7 492.64,220.04 492.7,220 492.7,221.2 492.68,221.35 492.14,220.84 491.73,221.18 491.35,220.97 490.86,220.73 490.42,220.7 490.01,220.66 489.69,220.72 489.33,220.91 488.77,220.91 488.26,220.58 487.85,220.5 487.31,220.27 486.91,220.61 486.36,220.28 485.79,220.35 485.43,220.48 484.93,220.08 484.41,220.39 484.02,220.03 483.61,219.87 483.22,219.71 482.72,220.04 482.27,220.04 481.77,219.75 481.33,219.73 480.86,219.62 480.49,219.7 479.94,219.51 479.62,219.28 479.16,219.26 478.71,219.48 478.26,219.33 477.8,219.38 477.25,218.87 476.77,219.19 476.28,219.23 475.91,218.94 475.53,219.01 475.04,218.63 474.55,218.53 474.22,218.88 473.66,218.49 473.08,218.31 472.75,218.73 472.35,218.57 471.81,218.59 471.48,218.59 470.95,218.06 470.6,218 470.2,217.97 469.84,218.26 469.4,217.94 469.08,218.05 468.7,217.73 468.3,218.24 467.72,218.08 467.16,217.71 466.81,217.99 466.27,217.44 465.91,217.49 465.51,217.8 465.04,217.53 464.6,217.5 464.12,217.49 463.68,217.43 463.18,217.93 462.65,217.89 462.31,218.09 461.86,218.08 461.28,217.84 460.78,218.33 460.28,218.06 459.86,218.12 459.28,218.17 458.7,218.33 458.22,218.76 457.76,218.36 457.23,218.56 456.88,218.6 456.53,218.29 456.2,217.99 455.76,218.07 455.41,218.22 454.89,218.02 454.54,217.98 454.04,218.07 453.52,218.16 453.18,217.93 452.78,217.99 452.41,217.93 451.84,217.6 451.3,217.45 450.92,217.34 450.57,217.71 450.11,217.81 449.67,217.41 449.11,217.27 448.56,217.53 448.03,217.01 447.49,217.08 447.15,217.16 446.78,217.42 446.35,216.79 445.85,217.07 445.4,217.08 444.9,217.12 444.35,216.7 443.98,216.8 443.53,216.68 443.03,216.82 442.56,216.9 441.98,216.74 441.42,216.47 440.92,216.61 440.54,216.58 440.21,216.57 439.66,216.4 439.26,216.46 438.72,215.9 438.24,216.35 437.85,216.16 437.4,216.01 437.4,216" fill="#30f838"/>
<polyline points="462,218.48 462.43,218.79 462.82,219.01 463.37,218.85 463.73,218.75 464.21,219.25 464.61,219.08 464.98,219.37 465.55,219.37 466.13,219.08 466.55,219.06 467.07,219.17 467.47,219.3 468.1,219.77 468.53,219.95 468.93,219.51 469.4,219.99 469.78,220.04 470.29,220.13 470.74,219.75 471.12,220.22 471.62,220.33 472.03,220.1 472.44,220.51 473.01,220.19 473.57,220.21 474.06,220.42 474.64,220.79 475.2,220.57 475.56,220.89 476.12,220.61 476.72,221.24 477.18,221.08 477.72,221.42 478.27,221.26 478.85,221.34 479.21,221.43 479.68,221.38 480.15,221.39 480.6,221.78 481.21,221.7 481.81,221.6 482.32,222.06 482.9,221.94 483.3,222.35 483.84,222.25 484.29,222 484.81,222.26 485.43,222.51 486.01,222.55 486.58,222.38 487.23,222.76 487.76,222.61 488.14,222.98 488.7,223.05 489.13,223.01 489.71,223.2 490.33,222.97 490.92,223.02 491.45,223.42 491.83,223.41 492.38,223.77 492.7,223.6" fill="none" stroke="#30ff70" stroke-width="1"/>
<polyline points="493.2,230.41 493.79,230.05 494.41,230.67 494.86,230.05 495.25,230.04 495.73,230.39 496.36,230.23 497,230.08 497.54,229.71 498.02,229.69 498.41,230.29 498.79,229.86 499.3,230.01 499.66,229.65 500.21,229.85 500.59,229.88 501.05,230.27 501.42,229.59 501.79,229.86 502.43,230 502.81,229.78 503.27,230.1 503.83,229.76 504.26,229.6 504.76,229.52 505.28,229.25 505.76,229.94 506.23,229.52 506.81,229.73 507.38,229.34 507.94,229.16 508.48,228.98 508.88,229.08 509.34,229.5 509.7,229.58 510.07,229.62 510.71,229.31 511.31,229.53 511.79,229.43 512.15,229.34 512.7,229.3 513.09,228.72 513.6,229.1 514.16,228.72 514.68,229.32 515.1,229.17 515.74,229.01 516.22,228.78 516.71,228.51 517.09,228.61 517.49,229.07 517.95,229.02 518.47,229.01 519.08,228.82 519.57,228.41 520.09,228.43 520.69,228.17 521.23,228.37 521.7,228.5 522.35,228.82 522.81,228.76 523.44,228.37 523.96,228.07 524.2,228.3" fill="none" stroke="#30f838" stroke-width="1.2"/>
<polyline points="493.2,232.59 493.78,232.82 494.32,232.65 494.83,232.28 495.32,232.21 495.72,232.73 496.19,232.2 496.67,232.12 497.2,232.19 497.61,232.41 498.24,232 498.81,232.31 499.3,232.18 499.66,232.12 500.16,232.07 500.81,232.04 501.41,232.28 502,232.06 502.5,232.24 502.89,231.84 503.24,231.98 503.73,232.23 504.36,231.86 504.86,231.65 505.43,231.86 505.83,232.05 506.2,231.62 506.69,232.07 507.08,231.61 507.67,231.62 508.3,231.39 508.72,231.53 509.32,231.37 509.87,231.81 510.52,231.72 510.88,231.51 511.3,231.26 511.72,231.61 512.24,231.21 512.68,231.15 513.31,231.52 513.8,231.61 514.44,231.12 514.87,231.09 515.41,231.3 515.91,231.37 516.42,231.07 516.97,231.41 517.34,231.11 517.73,231.24 518.21,231.27 518.76,231.31 519.28,231.06 519.92,231.14 520.38,230.7 521,230.63 521.63,231.12 522.18,231.09 522.71,230.94 523.24,230.59 523.61,230.88 524.1,230.48 524.2,230.7" fill="none" stroke="#30ff70" stroke-width="1"/>
<polygon points="524.6,226 524.6,225.25 524.94,226.24 525.37,225.96 525.85,225.36 526.24,225.29 526.6,225.83 527.09,224.94 527.54,224.73 527.83,225.49 528,225.5 528,229.5 527.99,229.99 527.56,229.27 527.21,229.78 526.8,229.62 526.46,229.68 525.96,229.35 525.48,230.04 525.12,229.99 524.6,229.56 524.6,229.5" fill="#30f838"/>
<polygon points="309.5,222.1 309.5,222.04 310.05,221.92 310.4,222 310.86,222.4 311.24,222.48 311.55,222.25 312.13,222.88 312.46,222.81 312.91,222.84 313.46,223.01 314.03,223.15 314.59,222.93 315.12,223.17 315.69,223.57 316.26,223.67 316.68,223.61 317.21,223.44 317.67,223.85 318.18,223.82 318.66,224.15 319.08,224.21 319.64,224.14 320.09,224.3 320.63,224.29 321.03,224.44 321.52,224.4 322.1,224.73 322.61,224.78 322.93,224.84 323.4,224.76 323.98,225.18 324.42,224.93 324.8,225.2 325.29,225.2 325.74,225.35 326.2,225.7 326.66,225.83 327.14,225.53 327.64,225.88 327.7,225.9 327.7,239.6 327.35,239.68 326.83,240.42 326.3,238.71 325.87,239.96 325.43,240.3 324.92,238.23 324.49,238.53 323.9,237.85 323.49,240.04 322.95,238.07 322.54,238.89 321.96,239.17 321.64,237.9 321.11,239.09 320.79,238.7 320.46,239.09 319.95,239.45 319.59,237.13 319.04,239.3 318.56,236.99 318.07,237.8 317.49,239.38 316.98,237.51 316.55,236.78 316.15,236.67 315.83,236.51 315.27,238.26 314.88,237.53 314.52,236.83 314.17,239.06 313.6,237.17 313.13,236.88 312.74,238.75 312.35,236.08 311.87,237.94 311.49,236.94 311.04,237.13 310.6,238.2 310.29,237.64 309.91,238.2 309.5,238.41 309.5,237.6" fill="#00f4f4"/>
<polygon points="327.9,232.2 327.9,232.45 328.47,232.32 328.89,232.07 329.35,232.36 329.66,232.8 330.06,232.83 330.38,232.54 330.91,232.82 331.41,232.79 331.74,233.06 332.27,232.94 332.73,233.21 333.18,233.09 333.63,233.32 334.14,233.17 334.66,233.29 335.16,233.37 335.72,233.81 336.24,233.56 336.65,233.66 337.13,233.51 337.59,234.12 337.8,233.9 337.8,241.5 337.55,242.25 337.13,241.98 336.59,241.36 336.14,241.89 335.82,240.44 335.24,241.22 334.79,241.5 334.37,241.21 333.98,241.32 333.51,240.94 333.09,241.3 332.73,241.58 332.15,240.87 331.57,240.42 331.12,240.16 330.67,240.43 330.3,240.9 329.74,241.15 329.4,240.12 328.88,240.75 328.37,241.34 327.9,241.05 327.9,240.5" fill="#00f4f4"/>
<polygon points="338.7,201 338.7,202.22 339.12,199.49 339.45,199.23 339.77,199.25 340.19,196.6 340.65,200.95 341.01,199.67 341.32,200.35 341.74,197.7 342.09,196.51 342.39,200.52 342.77,197.74 343.15,195.9 343.4,196.92 343.76,195.66 344.12,196.44 344.42,199.03 344.74,198.92 345.14,196.41 345.4,199.39 345.76,197.61 346.15,197.32 346.58,193.72 347.03,197.57 347.36,199.39 347.79,197.28 348.04,197.4 348.37,197.01 348.79,194.04 349.21,195.12 349.51,193.28 349.78,194.72 350.14,199.01 350.42,194.72 350.74,196.93 351.06,197.06 351.34,192.93 351.7,197.27 351.98,192.82 352.36,192.82 352.8,196.76 353.08,194.85 353.34,192.68 353.65,197.73 354.09,196.79 354.47,195.58 354.82,195.95 355.17,194.17 355.59,193.42 355.92,195.78 356.37,193.48 356.71,193.76 356.99,193.37 357.41,192.22 357.75,192.85 357.9,194.5 357.9,250.6 357.73,251.21 357.38,250.68 356.96,251.29 356.52,251.07 356.25,251.29 355.9,251.13 355.52,250.26 355.07,250.25 354.76,251.31 354.36,250.39 354.02,250.4 353.69,250.39 353.43,250.31 353.13,250.89 352.88,250.81 352.54,250.92 352.26,250.4 352.01,250.51 351.63,250.44 351.32,250.31 350.88,251.06 350.48,251.22 350.12,251.37 349.84,250.85 349.42,250.3 349.06,250.99 348.71,250.62 348.29,251.22 347.87,250.9 347.5,251.02 347.19,251.46 346.74,250.87 346.33,250.95 345.94,250.48 345.67,251.36 345.31,250.46 344.99,251.01 344.59,251.6 344.34,251.16 344.04,250.73 343.64,251.34 343.22,251.07 342.83,250.48 342.49,250.81 342.06,250.68 341.74,250.56 341.29,251.04 341,251.05 340.68,251.49 340.25,251.63 339.93,250.87 339.64,250.77 339.25,251.33 338.97,251.13 338.7,251.51 338.7,251" fill="#00f4f4"/>
<polygon points="357.4,194.5 357.4,194.41 357.72,194.29 358.08,195.1 358.47,194.34 359.05,194.64 359.49,193.86 359.9,194.01 360.47,194.07 361.05,193.79 361.38,194.49 361.71,194.3 362.19,193.65 362.73,193.84 363.31,194.01 363.88,194.48 364.29,194.21 364.81,194.18 365.13,194.23 365.65,193.65 365.99,193.51 366.45,193.58 366.99,193.96 367.58,194.37 368.01,193.72 368.44,194.3 368.99,194.73 369.39,193.75 369.88,194.62 370.37,194.84 370.91,194.71 371.44,194.19 372.01,194.93 372.35,194.39 372.84,194.63 373.41,194.69 373.86,195.02 374.43,194.87 374.98,195.47 375.45,195.8 376,195.64 376.47,194.86 376.84,195.64 377.19,195.68 377.6,195.44 378.13,196.06 378.65,195.66 379.11,196.37 379.67,196 380.01,196.4 380.34,195.5 380.83,195.67 381.35,196.33 381.71,196.65 382.29,196.43 382.87,196.68 383.32,196.76 383.89,196.69 384.22,196.34 384.73,196.4 385.09,196.56 385.44,196.63 385.78,196.98 386.16,197.28 386.5,196.96 386.99,196.5 387.47,196.99 387.95,196.62 388.4,197.5 388.88,196.91 389.28,197.77 389.61,197.37 390.07,197.42 390.38,197.11 390.93,197.66 391.32,197.75 391.65,197.38 392.19,198.33 392.56,197.89 392.89,197.97 393.35,198.6 393.8,198.83 394.38,198.63 394.71,198.19 395.21,198.34 395.76,198.48 396.09,199.74 396.52,199.38 396.99,199.05 397.4,199.52 397.91,200.22 398.42,199.71 398.86,200.77 399.22,200.23 399.7,201.21 400.02,200.97 400.46,200.96 401,200.66 401.48,201.12 402,201.8 402.43,201.3 402.95,202.17 403.41,202.42 403.99,202.05 404.49,202.93 404.87,203.2 405.27,203.43 405.75,203.64 406.3,203.63 406.71,203.41 407.19,204.02 407.62,204.31 407.99,204.01 408.34,203.73 408.74,203.74 409.21,204.62 409.63,205.01 410.09,205.06 410.43,204.79 410.75,204.73 411.29,204.94 411.77,205.45 412.27,206.27 412.8,206.62 413.38,206.2 413.96,206.9 414.35,206.55 414.81,207.38 415.15,207.59 415.65,207.45 416.07,207.39 416.5,207.98 416.93,208.18 417.48,207.67 417.8,208.84 418.17,208.86 418.59,208.37 418.91,208.78 419.39,208.58 419.71,209.02 420.26,209.86 420.64,209.64 421.07,210.23 421.46,210.01 421.91,210.1 422.35,210.93 422.8,210.33 423.21,211.16 423.58,211.14 424.05,211.35 424.41,212.15 424.75,212.36 425.09,212.1 425.55,212.12 426.03,212.89 426.43,212.07 426.8,212.55 426.8,253.4 426.72,253.71 426.21,253.66 425.67,253.41 425.19,253.24 424.7,253.54 424.3,254.22 423.86,253.1 423.31,253.3 422.88,253.87 422.51,253.23 422.16,253.56 421.61,253.35 421.24,252.97 420.72,253.07 420.39,253.06 420,253.49 419.42,253.9 418.96,253.52 418.53,252.35 418.17,253.76 417.6,253.57 417.22,252.98 416.79,252.64 416.28,252.55 415.74,252.59 415.37,253.67 414.99,253.35 414.57,252.85 414.12,252.29 413.69,253.59 413.13,253.2 412.56,252.17 412.14,253.39 411.7,252.72 411.22,252.93 410.71,251.94 410.32,252.63 409.78,252.83 409.25,253.24 408.78,252.87 408.45,252.64 408.12,251.9 407.62,252.83 407.11,251.94 406.67,251.98 406.2,251.77 405.84,252.97 405.44,252.96 405.08,252.65 404.64,252.18 404.07,252.1 403.57,252.53 403.15,252.54 402.79,252.76 402.27,252.89 401.92,252.47 401.47,252.25 401.11,252.39 400.79,251.77 400.33,252.31 399.88,251.4 399.36,251.81 399.04,252.19 398.5,252.19 398.13,251.84 397.68,251.62 397.22,252.35 396.79,251.97 396.31,252.34 395.84,250.99 395.31,252.22 394.79,251.34 394.26,250.93 393.88,251.34 393.54,251.34 393.2,252.43 392.71,251.88 392.34,251.75 391.9,251.34 391.57,252.25 391.25,250.97 390.93,251.51 390.49,252.13 390.17,250.97 389.74,252.21 389.26,251.33 388.79,251.15 388.36,250.77 387.83,251.47 387.35,252.04 386.8,250.77 386.35,251.39 385.85,252.13 385.28,251.28 384.78,252 384.28,251.88 383.7,251.14 383.24,251.83 382.84,251.64 382.35,251.92 382,251.57 381.53,251.89 381.03,252.05 380.57,251.09 380.1,252.06 379.69,251.99 379.3,251.39 378.93,251.6 378.52,251.89 378.11,251.24 377.7,252.08 377.2,251.95 376.79,251.08 376.33,251 375.87,250.85 375.32,251.09 374.98,251.51 374.49,250.47 374,251.01 373.57,251.69 373.16,250.48 372.71,251.6 372.16,251.06 371.75,250.75 371.26,251.24 370.92,251.76 370.47,250.89 370.08,250.65 369.74,251.84 369.4,251.28 368.91,250.54 368.51,251 368.1,250.68 367.62,250.47 367.07,250.31 366.61,250.85 366.3,251.77 365.84,251.48 365.29,250.91 364.77,250.53 364.45,250.87 364,251.29 363.61,251.43 363.28,250.79 362.72,251.25 362.21,250.53 361.84,250.57 361.34,250.61 360.85,250.24 360.33,250.8 359.77,251.15 359.36,250.29 358.8,250.93 358.3,250.53 357.88,251.21 357.4,251.42 357.4,250.61" fill="#00f4f4"/>
<polygon points="426.6,212.47 426.6,212.95 426.95,213.01 427.36,212.03 427.88,213.93 428.33,214.71 428.66,212.94 429.17,212.87 429.72,214.64 430.29,216.04 430.72,214.52 431.15,216.1 431.59,216.12 432.17,216.46 432.63,216.63 433.07,216.28 433.5,217.63 434.08,216.66 434.55,215.32 435.02,218.24 435.4,217.89 435.78,217.85 436.17,217.62 436.7,215.98 437.2,216.8 437.2,254 436.85,251.36 436.37,249.07 435.86,250.31 435.5,251.75 435.12,250 434.71,254.63 434.15,251.35 433.59,254.4 433.21,252.72 432.69,252.77 432.28,252.29 431.76,249.94 431.27,254.01 430.81,254.27 430.45,252.48 430.08,252.35 429.6,249.41 429.12,250.67 428.61,252.93 428.19,252.16 427.81,248.87 427.45,252.74 426.98,250.19 426.6,251.42 426.6,253.39" fill="#00f4f4"/>
<line x1="415.5" y1="204.88" x2="415.5" y2="211.43" stroke="#30f838" stroke-width="0.51"/>
<line x1="408.46" y1="201.77" x2="408.46" y2="211.02" stroke="#30f838" stroke-width="0.58"/>
<line x1="416.56" y1="205.35" x2="416.56" y2="215.09" stroke="#30f838" stroke-width="0.59"/>
<line x1="423.69" y1="208.93" x2="423.69" y2="213.11" stroke="#30f838" stroke-width="0.61"/>
<line x1="433.38" y1="213.09" x2="433.38" y2="222.06" stroke="#30f838" stroke-width="0.81"/>
<line x1="434.53" y1="213.57" x2="434.53" y2="218.39" stroke="#30f838" stroke-width="0.43"/>
<line x1="411.77" y1="203.2" x2="411.77" y2="210.95" stroke="#30f838" stroke-width="0.67"/>
<line x1="418.71" y1="206.36" x2="418.71" y2="214.55" stroke="#30f838" stroke-width="0.51"/>
<line x1="425.63" y1="209.86" x2="425.63" y2="215.98" stroke="#30f838" stroke-width="0.47"/>
<line x1="430.49" y1="211.89" x2="430.49" y2="216.38" stroke="#30f838" stroke-width="0.8"/>
<line x1="430.07" y1="211.71" x2="430.07" y2="217.97" stroke="#30f838" stroke-width="0.63"/>
<line x1="413.95" y1="204.18" x2="413.95" y2="208.35" stroke="#30f838" stroke-width="0.75"/>
<line x1="418.75" y1="206.39" x2="418.75" y2="213.53" stroke="#30f838" stroke-width="0.58"/>
<line x1="415.72" y1="204.97" x2="415.72" y2="209.32" stroke="#30f838" stroke-width="0.78"/>
<line x1="420.55" y1="207.31" x2="420.55" y2="211.58" stroke="#30f838" stroke-width="0.84"/>
<line x1="412.47" y1="203.51" x2="412.47" y2="208.32" stroke="#30f838" stroke-width="0.48"/>
<line x1="424.23" y1="209.2" x2="424.23" y2="217.85" stroke="#30f838" stroke-width="0.42"/>
<line x1="434.82" y1="213.69" x2="434.82" y2="221.81" stroke="#30f838" stroke-width="0.82"/>
<line x1="420.23" y1="207.15" x2="420.23" y2="213.41" stroke="#30f838" stroke-width="0.45"/>
<line x1="415.61" y1="204.93" x2="415.61" y2="214.22" stroke="#30f838" stroke-width="0.54"/>
<line x1="434.12" y1="213.4" x2="434.12" y2="222.44" stroke="#30f838" stroke-width="0.86"/>
<line x1="412.08" y1="203.33" x2="412.08" y2="209.49" stroke="#30f838" stroke-width="0.82"/>
<line x1="417.03" y1="205.56" x2="417.03" y2="210.48" stroke="#30f838" stroke-width="0.41"/>
<line x1="423.47" y1="208.81" x2="423.47" y2="215.86" stroke="#30f838" stroke-width="0.51"/>
<line x1="415.51" y1="204.88" x2="415.51" y2="212.51" stroke="#30f838" stroke-width="0.49"/>
<line x1="430.79" y1="212.01" x2="430.79" y2="221.32" stroke="#30f838" stroke-width="0.61"/>
<line x1="411.78" y1="203.2" x2="411.78" y2="210.39" stroke="#30f838" stroke-width="0.55"/>
<line x1="411.05" y1="202.87" x2="411.05" y2="211.04" stroke="#30f838" stroke-width="0.68"/>
<line x1="415.87" y1="205.04" x2="415.87" y2="209.97" stroke="#30f838" stroke-width="0.76"/>
<line x1="434.59" y1="213.59" x2="434.59" y2="219.26" stroke="#30f838" stroke-width="0.69"/>
<line x1="414.4" y1="204.38" x2="414.4" y2="210.84" stroke="#30f838" stroke-width="0.69"/>
<line x1="416.85" y1="205.48" x2="416.85" y2="212.92" stroke="#30f838" stroke-width="0.67"/>
<line x1="409.26" y1="202.1" x2="409.26" y2="206.13" stroke="#30f838" stroke-width="0.61"/>
<line x1="412.28" y1="203.43" x2="412.28" y2="210.45" stroke="#30f838" stroke-width="0.7"/>
<line x1="426.13" y1="210.07" x2="426.13" y2="219.47" stroke="#30f838" stroke-width="0.7"/>
<line x1="430.37" y1="211.84" x2="430.37" y2="215.85" stroke="#30f838" stroke-width="0.84"/>
<line x1="434.96" y1="213.75" x2="434.96" y2="221.09" stroke="#30f838" stroke-width="0.81"/>
<line x1="423.95" y1="209.06" x2="423.95" y2="215.3" stroke="#30f838" stroke-width="0.48"/>
<line x1="421.94" y1="208.02" x2="421.94" y2="216.22" stroke="#30f838" stroke-width="0.8"/>
<line x1="433.92" y1="213.32" x2="433.92" y2="220.14" stroke="#30f838" stroke-width="0.87"/>
<line x1="418.79" y1="206.41" x2="418.79" y2="209.74" stroke="#30f838" stroke-width="0.61"/>
<line x1="423.69" y1="208.92" x2="423.69" y2="217.53" stroke="#30f838" stroke-width="0.52"/>
<line x1="408.73" y1="201.88" x2="408.73" y2="210.14" stroke="#30f838" stroke-width="0.5"/>
<line x1="432.7" y1="212.81" x2="432.7" y2="219.97" stroke="#30f838" stroke-width="0.47"/>
<polygon points="437.2,215 437.2,215.43 437.72,215.05 438.3,214.87 438.65,215.8 439.15,215.89 439.71,215.35 440.04,215.94 440.45,215.78 440.87,216.63 441.26,216.39 441.73,215.82 442.29,215.87 442.69,215.83 443.19,216.72 443.61,215.87 444.08,216.3 444.55,216.89 444.86,215.96 445.4,217.37 445.74,216.39 446.17,217.44 446.57,217.71 446.91,217.68 447.24,217.25 447.81,217.54 448.38,217.04 448.95,218.02 449.34,217.88 449.9,217.08 450.32,218.04 450.79,218.36 451.22,217.68 451.58,217.46 452.13,217.53 452.69,218.49 453.16,217.77 453.48,217.53 454.01,218.96 454.59,217.97 455.16,218.33 455.57,219.15 456.11,218.87 456.5,218.02 456.86,218.33 457.23,218.88 457.63,218.38 458.18,218.72 458.5,218.2 458.96,218.31 459.43,218.39 459.87,219.41 460.33,218.85 460.87,220.15 461.41,220.18 461.98,219.38 462.45,219.53 462.97,219.23 463.35,219.75 463.81,220.69 464.22,219.18 464.64,220.65 464.98,220.14 465.45,220.73 465.5,219.8 465.5,251.48 465.42,247.62 464.98,250.45 464.42,249.23 464.09,246.34 463.61,249.8 463.19,250.37 462.74,246.39 462.36,247.41 461.85,250.36 461.51,249.85 461.07,247.88 460.63,248.98 460.21,247.44 459.81,249.84 459.28,252.52 458.83,248.33 458.24,250.23 457.75,249.58 457.3,250.71 456.83,249.88 456.26,249.48 455.78,248.74 455.35,250.92 454.83,250.52 454.41,248.52 454.09,251.88 453.64,247.12 453.16,248.16 452.83,247.27 452.41,250.54 451.85,248.57 451.51,252.53 451.03,248.63 450.71,248.31 450.37,248.98 449.79,251.95 449.3,249.81 448.87,247.45 448.3,248.78 447.96,253.45 447.63,248.69 447.22,252.03 446.83,250.83 446.48,251.69 445.95,250.18 445.47,250.38 444.95,248.31 444.48,250.27 444.16,249.48 443.82,249.07 443.45,249.98 443,251.11 442.46,251.33 442.04,251.39 441.58,254.13 441.16,250.38 440.76,249.86 440.4,251.61 440.06,249.63 439.65,252.72 439.23,252.52 438.73,252.92 438.24,250.51 437.77,254.56 437.2,252.33 437.2,254" fill="#00f4f4"/>
<line x1="460.72" y1="220.5" x2="460.72" y2="227.36" stroke="#fff" stroke-width="0.77" opacity="0.85"/>
<line x1="453.15" y1="218.24" x2="453.15" y2="226.24" stroke="#fff" stroke-width="1" opacity="0.85"/>
<line x1="462.41" y1="220.06" x2="462.41" y2="227.61" stroke="#fff" stroke-width="1.12" opacity="0.85"/>
<line x1="457.26" y1="218.42" x2="457.26" y2="226.85" stroke="#fff" stroke-width="0.64" opacity="0.85"/>
<line x1="464.02" y1="220.95" x2="464.02" y2="227.85" stroke="#fff" stroke-width="0.56" opacity="0.85"/>
<line x1="455.87" y1="218.93" x2="455.87" y2="226.64" stroke="#fff" stroke-width="0.84" opacity="0.85"/>
<line x1="452.34" y1="219.39" x2="452.34" y2="226.12" stroke="#fff" stroke-width="0.87" opacity="0.85"/>
<line x1="455.56" y1="218.15" x2="455.56" y2="226.6" stroke="#fff" stroke-width="0.9" opacity="0.85"/>
<line x1="464.59" y1="221.08" x2="464.59" y2="227.94" stroke="#fff" stroke-width="1.1" opacity="0.85"/>
<line x1="463.79" y1="220.83" x2="463.79" y2="227.82" stroke="#fff" stroke-width="0.54" opacity="0.85"/>
<line x1="456.2" y1="219.36" x2="456.2" y2="226.69" stroke="#fff" stroke-width="0.79" opacity="0.85"/>
<line x1="454.93" y1="218.12" x2="454.93" y2="226.5" stroke="#fff" stroke-width="1.11" opacity="0.85"/>
<line x1="461.01" y1="219.62" x2="461.01" y2="227.41" stroke="#fff" stroke-width="0.83" opacity="0.85"/>
<line x1="463.78" y1="219.79" x2="463.78" y2="227.82" stroke="#fff" stroke-width="0.94" opacity="0.85"/>
<line x1="455.15" y1="219.83" x2="455.15" y2="226.54" stroke="#fff" stroke-width="1.06" opacity="0.85"/>
<line x1="464.8" y1="220.44" x2="464.8" y2="227.97" stroke="#fff" stroke-width="0.86" opacity="0.85"/>
<polygon points="465.3,230.05 465.3,229.98 465.71,230.3 466.29,230.41 466.85,230.3 467.34,230.54 467.77,230.62 468.3,230.45 468.71,230.68 469.07,230.56 469.44,230.56 470,231.01 470.54,230.9 471.05,231.06 471.49,231.06 471.84,231.01 472.25,231.12 472.74,231.15 473.12,231.47 473.64,231.58 474.17,231.37 474.62,231.7 475.15,231.54 475.59,231.76 475.91,231.67 476.43,231.92 476.86,231.96 477.32,231.94 477.66,232.15 478.18,232.12 478.7,232.36 479.21,232.43 479.78,232.22 480.35,232.47 480.88,232.67 481.22,232.67 481.56,232.78 481.96,232.71 482.35,232.94 482.84,232.82 483.36,232.86 483.89,233.11 484.41,233.2 484.99,233.33 485.43,233.36 485.9,233.31 486.3,233.58 486.83,233.73 487.33,233.63 487.75,233.78 488.24,233.95 488.76,233.81 489.15,233.74 489.68,233.98 490.1,233.9 490.55,234.31 490.94,234.31 491.46,234.36 491.93,234.28 492.43,234.49 492.9,234.5 492.9,248.5 492.76,247.98 492.36,248.11 491.79,249.11 491.43,247.04 490.9,246.23 490.48,248.75 490.12,244.14 489.72,243.86 489.32,245.78 488.9,247.75 488.53,248.44 487.95,245.95 487.49,249.29 487.16,243.01 486.65,244.06 486.15,243.63 485.62,243.75 485.23,250.02 484.67,250.81 484.21,248.89 483.86,246.83 483.39,245.51 482.84,249.62 482.46,246.19 482.04,246.58 481.54,248.13 481.22,245.43 480.64,247.16 480.15,247.86 479.69,249.49 479.23,245.33 478.84,247.71 478.49,248.44 478.06,247.84 477.55,246.94 477.14,249.34 476.68,246.96 476.12,251.74 475.77,250.43 475.29,245.81 474.95,247.15 474.53,250.29 474.03,246.89 473.55,245.57 473.11,245.06 472.62,247.93 472.27,246.02 471.84,247.85 471.33,251.87 470.91,247.31 470.33,247.85 469.91,245.15 469.51,249.74 469.14,246.01 468.72,247.44 468.24,250.65 467.86,248.08 467.49,250.67 467.05,251.33 466.68,245.63 466.19,247.12 465.71,251.54 465.3,248.51 465.3,251.49" fill="#00f4f4"/>
<line x1="463.91" y1="223.95" x2="463.91" y2="227.84" stroke="#00f4f4" stroke-width="0.68" opacity="0.8"/>
<line x1="478.78" y1="223.5" x2="478.78" y2="230.24" stroke="#00f4f4" stroke-width="0.72" opacity="0.8"/>
<line x1="487.25" y1="224.71" x2="487.25" y2="231.62" stroke="#00f4f4" stroke-width="0.54" opacity="0.8"/>
<line x1="489.33" y1="229.94" x2="489.33" y2="231.95" stroke="#00f4f4" stroke-width="0.72" opacity="0.8"/>
<line x1="465.55" y1="223.59" x2="465.55" y2="228.09" stroke="#00f4f4" stroke-width="0.58" opacity="0.8"/>
<line x1="465.08" y1="222.83" x2="465.08" y2="228.01" stroke="#00f4f4" stroke-width="0.72" opacity="0.8"/>
<line x1="469.48" y1="225.5" x2="469.48" y2="228.73" stroke="#00f4f4" stroke-width="0.71" opacity="0.8"/>
<line x1="478.33" y1="228.07" x2="478.33" y2="230.17" stroke="#00f4f4" stroke-width="0.52" opacity="0.8"/>
<polygon points="493.2,238 493.2,238.18 493.59,237.91 494.03,238.14 494.56,237.93 495.05,237.78 495.39,237.91 495.87,237.81 496.2,238.09 496.57,237.77 496.9,237.77 497.3,237.97 497.79,237.84 498.24,237.85 498.71,237.76 499.2,237.7 499.76,237.78 500.23,237.76 500.66,237.79 501.15,237.98 501.69,238.05 502.13,237.88 502.54,237.77 502.99,238.03 503.32,237.94 503.72,237.87 504.11,237.91 504.56,237.74 505,237.61 505.34,237.97 505.67,237.76 506.17,237.61 506.74,237.67 507.31,237.75 507.78,237.81 508.12,237.76 508.64,237.87 509.15,237.82 509.5,237.7 509.96,237.55 510.48,237.56 510.95,237.62 511.3,237.89 511.79,237.8 512.27,237.72 512.82,237.51 513.23,237.57 513.71,237.63 514.27,237.56 514.66,237.82 515.17,237.62 515.59,237.73 515.94,237.72 516.32,237.75 516.65,237.79 517.2,237.43 517.56,237.78 518.09,237.52 518.63,237.62 519.01,237.66 519.43,237.44 519.98,237.66 520.36,237.54 520.86,237.51 521.24,237.56 521.82,237.38 522.2,237.53 522.78,237.72 523.1,237.58 523.45,237.4 523.8,237.51 524.38,237.69 524.4,237.5 524.4,246 524.07,246.2 523.7,244.94 523.35,246.2 522.81,245.46 522.43,245.33 521.89,246.07 521.57,244.5 521.08,246.11 520.53,245.86 520.05,246.45 519.54,246.4 519.21,245.75 518.72,245.82 518.3,244.94 517.85,244.55 517.36,244.67 516.95,246.04 516.41,245.58 515.9,244.84 515.55,246.07 515.03,246.4 514.46,245.65 513.94,245.59 513.48,246.25 513.04,244.26 512.64,245.81 512.14,245.22 511.78,245.2 511.43,245.7 511.09,245.65 510.55,244.82 510.08,245.07 509.55,245.58 509.2,246.07 508.85,244.64 508.48,245.21 508.17,244.31 507.83,245.42 507.48,245.31 506.94,245.09 506.6,245.09 506.19,244.16 505.74,244.71 505.28,244.12 504.92,244.87 504.37,244.01 503.89,244.48 503.53,244.17 503.12,243.82 502.54,244.77 502.18,245.34 501.6,245.6 501.06,244.07 500.64,244.29 500.21,245.48 499.9,244.84 499.41,245.65 498.99,244.27 498.46,244.73 498.05,245.69 497.57,245.33 497.22,245.71 496.76,245.87 496.3,245.35 495.85,244.01 495.4,244.75 494.84,243.86 494.26,244.16 493.7,243.69 493.2,245.57 493.2,245" fill="#00f4f4"/>
<polygon points="524.4,232.5 524.4,233.28 524.78,231.86 525.16,231.7 525.65,231.39 526.03,232.05 526.32,231.69 526.84,232.89 527.22,232.86 527.72,232.76 528,232 528,246 527.87,245.64 527.38,244.61 526.87,245.44 526.5,244.72 526.01,245.11 525.55,246.25 525.23,246.43 524.8,245.79 524.4,245.42 524.4,246" fill="#00f4f4"/>
<line x1="338.5" y1="250" x2="338.5" y2="258.6" stroke="#00f4f4" stroke-width="0.9"/>
<rect x="364.9" y="228.7" width="2.4" height="23" fill="#fff" opacity="0.92"/>
<rect x="358.15" y="228" width="0.9" height="23" fill="#fff" opacity="0.5"/>
<rect x="360.7" y="230" width="0.6" height="21" fill="#fff" opacity="0.4"/>
<rect x="371.4" y="226" width="1" height="25" fill="#fff" opacity="0.5"/>
<rect x="368.7" y="229" width="0.6" height="22" fill="#fff" opacity="0.35"/>
<rect x="375.2" y="229" width="0.6" height="22" fill="#fff" opacity="0.35"/>
<rect x="395" y="205" width="1" height="35" fill="#fff" opacity="0.5"/>
<rect x="379.7" y="229" width="0.6" height="23" fill="#fff" opacity="0.3"/>
<rect x="385.7" y="229" width="0.6" height="23" fill="#fff" opacity="0.3"/>
<rect x="418.8" y="214" width="1.4" height="10" fill="#fff" opacity="0.8"/>
<rect x="421" y="216" width="1" height="10" fill="#fff" opacity="0.7"/>
<rect x="411.05" y="214" width="0.9" height="8" fill="#fff" opacity="0.6"/>
<rect x="457.8" y="218" width="1.6" height="9" fill="#fff" opacity="0.8"/>
<rect x="454.6" y="219" width="0.8" height="7" fill="#fff" opacity="0.6"/>
<rect x="450.7" y="232" width="0.6" height="20" fill="#fff" opacity="0.5"/>
<rect x="444.7" y="236" width="0.6" height="17" fill="#fff" opacity="0.5"/>
<rect x="381.37" y="228.3" width="0.65" height="23.38" fill="#fff" opacity="0.44"/>
<rect x="407.69" y="227.52" width="0.79" height="12.54" fill="#fff" opacity="0.48"/>
<rect x="361.13" y="210.74" width="0.39" height="14.14" fill="#fff" opacity="0.42"/>
<rect x="373.2" y="213.13" width="0.59" height="38.34" fill="#fff" opacity="0.25"/>
<rect x="417.33" y="213.34" width="0.78" height="40.02" fill="#fff" opacity="0.27"/>
<rect x="410.5" y="209.04" width="0.76" height="37.94" fill="#fff" opacity="0.41"/>
<rect x="362.39" y="230.93" width="0.75" height="20.29" fill="#fff" opacity="0.38"/>
<rect x="385.37" y="202.63" width="0.42" height="49.14" fill="#fff" opacity="0.17"/>
<rect x="371.38" y="231.46" width="0.44" height="15.09" fill="#fff" opacity="0.43"/>
<rect x="415.79" y="232.5" width="0.71" height="20.76" fill="#fff" opacity="0.47"/>
<rect x="399.56" y="211.06" width="0.79" height="41.24" fill="#fff" opacity="0.26"/>
<rect x="379.81" y="222.06" width="0.69" height="7.18" fill="#fff" opacity="0.26"/>
<rect x="360.15" y="238.08" width="0.41" height="13.07" fill="#fff" opacity="0.48"/>
<rect x="408.43" y="208.23" width="0.39" height="39.37" fill="#fff" opacity="0.46"/>
<rect x="404.83" y="230.12" width="0.7" height="22.48" fill="#fff" opacity="0.15"/>
<rect x="372.96" y="200.88" width="0.69" height="50.59" fill="#fff" opacity="0.31"/>
<rect x="419.56" y="242.13" width="0.48" height="11.35" fill="#fff" opacity="0.43"/>
<rect x="384.05" y="240.52" width="0.43" height="11.22" fill="#fff" opacity="0.4"/>
<rect x="380.21" y="217.5" width="0.37" height="30.58" fill="#fff" opacity="0.21"/>
<rect x="374.4" y="232.52" width="0.7" height="18.98" fill="#fff" opacity="0.23"/>
<rect x="397.02" y="202.61" width="0.43" height="17.98" fill="#fff" opacity="0.43"/>
<rect x="374.46" y="217.88" width="0.63" height="33.63" fill="#fff" opacity="0.29"/>
<rect x="361.51" y="201.58" width="0.64" height="28.18" fill="#fff" opacity="0.45"/>
<rect x="410.3" y="236.33" width="0.57" height="16.6" fill="#fff" opacity="0.21"/>
<rect x="376.44" y="202.08" width="0.45" height="49.47" fill="#fff" opacity="0.35"/>
<rect x="423.24" y="222.39" width="0.4" height="31.31" fill="#fff" opacity="0.36"/>
<rect x="373.45" y="200.71" width="0.3" height="50.77" fill="#fff" opacity="0.16"/>
<rect x="421.62" y="240.79" width="0.31" height="12.81" fill="#fff" opacity="0.45"/>
<rect x="387.37" y="214.79" width="0.46" height="29.82" fill="#fff" opacity="0.2"/>
<rect x="366.87" y="229.59" width="0.41" height="21.73" fill="#fff" opacity="0.33"/>
<rect x="378.87" y="220.36" width="0.36" height="31.25" fill="#fff" opacity="0.3"/>
<rect x="421.78" y="217.7" width="0.59" height="24.29" fill="#fff" opacity="0.27"/>
<rect x="431.06" y="239.5" width="0.54" height="14.67" fill="#fff" opacity="0.31"/>
<rect x="424.02" y="233.56" width="0.75" height="20.2" fill="#fff" opacity="0.27"/>
<rect x="367.97" y="205.05" width="0.79" height="46.31" fill="#fff" opacity="0.34"/>
<rect x="420.66" y="227.43" width="0.75" height="26.13" fill="#fff" opacity="0.3"/>
<rect x="389.79" y="232.28" width="0.54" height="19.6" fill="#fff" opacity="0.3"/>
<rect x="423.03" y="227.2" width="0.45" height="26.49" fill="#fff" opacity="0.24"/>
<rect x="418.86" y="223.33" width="0.36" height="30.11" fill="#fff" opacity="0.42"/>
<rect x="418.94" y="235.17" width="0.55" height="18.27" fill="#fff" opacity="0.44"/>
<rect x="419.79" y="231.58" width="0.33" height="21.91" fill="#fff" opacity="0.45"/>
<rect x="359.12" y="208.68" width="0.65" height="19.59" fill="#fff" opacity="0.45"/>
<rect x="431.23" y="225.14" width="0.46" height="29.03" fill="#fff" opacity="0.19"/>
<rect x="433.55" y="234.21" width="0.76" height="20.1" fill="#fff" opacity="0.24"/>
<rect x="418.52" y="218.43" width="0.57" height="34.99" fill="#fff" opacity="0.25"/>
<rect x="402.87" y="232.83" width="0.56" height="19.66" fill="#fff" opacity="0.29"/>
<rect x="392.97" y="216.7" width="0.66" height="35.26" fill="#fff" opacity="0.37"/>
<rect x="411.95" y="231.57" width="0.76" height="21.47" fill="#fff" opacity="0.34"/>
<rect x="393.94" y="212.32" width="0.5" height="18.82" fill="#fff" opacity="0.43"/>
<rect x="367.6" y="224.42" width="0.45" height="26.92" fill="#fff" opacity="0.29"/>
<rect x="408.49" y="222.29" width="0.73" height="30.54" fill="#fff" opacity="0.3"/>
<rect x="420.3" y="225.37" width="0.62" height="14.75" fill="#fff" opacity="0.4"/>
<rect x="398.89" y="232.03" width="0.78" height="20.23" fill="#fff" opacity="0.27"/>
<rect x="381.28" y="238.01" width="0.52" height="13.66" fill="#fff" opacity="0.29"/>
<rect x="432.61" y="223.68" width="0.45" height="30.58" fill="#fff" opacity="0.3"/>
<rect x="387.98" y="219.87" width="0.55" height="31.97" fill="#fff" opacity="0.17"/>
<rect x="395.67" y="239.61" width="0.73" height="12.45" fill="#fff" opacity="0.32"/>
<rect x="359.44" y="199.82" width="0.47" height="25.59" fill="#fff" opacity="0.2"/>
<rect x="417.67" y="229.34" width="0.58" height="24.03" fill="#fff" opacity="0.35"/>
<rect x="413.9" y="241.2" width="0.46" height="8.58" fill="#fff" opacity="0.3"/>
<rect x="384.9" y="234.82" width="0.54" height="16.94" fill="#fff" opacity="0.2"/>
<rect x="359.1" y="199.49" width="0.3" height="51.64" fill="#fff" opacity="0.2"/>
<rect x="428.86" y="232.33" width="0.78" height="21.72" fill="#fff" opacity="0.39"/>
<rect x="388.28" y="202.12" width="0.63" height="11.02" fill="#fff" opacity="0.25"/>
<rect x="370.5" y="226.51" width="0.8" height="24.9" fill="#fff" opacity="0.34"/>
<rect x="374.24" y="206.14" width="0.4" height="30.19" fill="#fff" opacity="0.23"/>
<rect x="369.09" y="206.65" width="0.42" height="44.73" fill="#fff" opacity="0.38"/>
<rect x="376.78" y="210.2" width="0.33" height="41.36" fill="#fff" opacity="0.18"/>
<rect x="358.01" y="227.85" width="0.74" height="23.26" fill="#fff" opacity="0.37"/>
<rect x="382.03" y="216.78" width="0.33" height="34.9" fill="#fff" opacity="0.2"/>
<rect x="341.41" y="209.56" width="0.34" height="17.25" fill="#fff" opacity="0.29"/>
<rect x="342.34" y="222.14" width="0.5" height="29.36" fill="#fff" opacity="0.33"/>
<rect x="352.88" y="217.98" width="0.32" height="13.22" fill="#fff" opacity="0.31"/>
<rect x="345.43" y="212.06" width="0.37" height="8.84" fill="#fff" opacity="0.37"/>
<rect x="347.3" y="236.27" width="0.4" height="15.23" fill="#fff" opacity="0.18"/>
<rect x="354.62" y="208" width="0.67" height="26.34" fill="#fff" opacity="0.25"/>
<rect x="346.31" y="241.14" width="0.67" height="10.36" fill="#fff" opacity="0.32"/>
<rect x="342.7" y="202.29" width="0.67" height="6.73" fill="#fff" opacity="0.27"/>
<rect x="354.55" y="241.06" width="0.69" height="10.44" fill="#fff" opacity="0.2"/>
<rect x="341.89" y="212.09" width="0.68" height="39.41" fill="#fff" opacity="0.22"/>
<rect x="347.35" y="235.23" width="0.66" height="16.27" fill="#fff" opacity="0.22"/>
<rect x="342.91" y="222.14" width="0.55" height="29.36" fill="#fff" opacity="0.36"/>
<rect x="342.27" y="222.02" width="0.53" height="29.48" fill="#fff" opacity="0.34"/>
<rect x="353.25" y="217.67" width="0.58" height="29.44" fill="#fff" opacity="0.24"/>
<rect x="348.02" y="234.6" width="0.69" height="16.9" fill="#fff" opacity="0.22"/>
<rect x="350.97" y="222.87" width="0.4" height="28.63" fill="#fff" opacity="0.25"/>
<rect x="343.46" y="234.54" width="0.3" height="16.96" fill="#fff" opacity="0.15"/>
<rect x="341.33" y="225.75" width="0.44" height="25.75" fill="#fff" opacity="0.14"/>
<rect x="349.33" y="225.85" width="0.41" height="20.63" fill="#fff" opacity="0.22"/>
<rect x="342.89" y="234.98" width="0.59" height="16.52" fill="#fff" opacity="0.27"/>
<rect x="342.8" y="212.17" width="0.65" height="28.79" fill="#fff" opacity="0.38"/>
<rect x="341.58" y="211.67" width="0.38" height="9.37" fill="#fff" opacity="0.23"/>
<rect x="351.75" y="239.22" width="0.36" height="12.28" fill="#fff" opacity="0.23"/>
<rect x="341.33" y="212.58" width="0.5" height="25.54" fill="#fff" opacity="0.17"/>
<rect x="343.7" y="238.52" width="0.54" height="12.98" fill="#fff" opacity="0.21"/>
<rect x="344.1" y="232.68" width="0.56" height="6.51" fill="#fff" opacity="0.39"/>
<rect x="350.13" y="200.48" width="0.61" height="7.15" fill="#fff" opacity="0.17"/>
<rect x="346.39" y="227.72" width="0.42" height="23.78" fill="#fff" opacity="0.31"/>
<rect x="355.16" y="218.54" width="0.57" height="19.47" fill="#fff" opacity="0.36"/>
<rect x="351.02" y="239.74" width="0.68" height="11.76" fill="#fff" opacity="0.19"/>
<rect x="474.28" y="237.4" width="0.47" height="14.78" fill="#fff" opacity="0.57"/>
<rect x="489.23" y="239.68" width="0.59" height="10.45" fill="#fff" opacity="0.86"/>
<rect x="491.2" y="243.69" width="0.61" height="6.04" fill="#fff" opacity="0.81"/>
<rect x="440.88" y="229.66" width="0.44" height="24.88" fill="#fff" opacity="0.57"/>
<rect x="450.43" y="246.83" width="0.67" height="6.61" fill="#fff" opacity="0.83"/>
<rect x="464.03" y="238.72" width="0.6" height="13.82" fill="#fff" opacity="0.42"/>
<rect x="462.01" y="247.88" width="0.98" height="4.78" fill="#fff" opacity="0.87"/>
<rect x="442.43" y="238.83" width="0.9" height="15.5" fill="#fff" opacity="0.48"/>
<rect x="440.87" y="233.79" width="0.45" height="20.75" fill="#fff" opacity="0.77"/>
<rect x="476.48" y="247.96" width="0.43" height="4.15" fill="#fff" opacity="0.75"/>
<rect x="480.92" y="237.79" width="0.45" height="13.98" fill="#fff" opacity="0.89"/>
<rect x="480.72" y="236.44" width="0.51" height="15.37" fill="#fff" opacity="0.73"/>
<rect x="446.66" y="238.84" width="0.49" height="15.03" fill="#fff" opacity="0.45"/>
<rect x="463.69" y="241.38" width="0.91" height="11.18" fill="#fff" opacity="0.4"/>
<rect x="456.65" y="233.05" width="0.73" height="19.98" fill="#fff" opacity="0.48"/>
<rect x="455.32" y="248.58" width="0.79" height="4.54" fill="#fff" opacity="0.73"/>
<rect x="470.41" y="236.84" width="0.81" height="15.47" fill="#fff" opacity="0.89"/>
<rect x="442.11" y="247.05" width="0.61" height="7.34" fill="#fff" opacity="0.5"/>
<rect x="473.28" y="246.15" width="0.5" height="6.06" fill="#fff" opacity="0.5"/>
<rect x="464.69" y="236.18" width="0.7" height="16.32" fill="#fff" opacity="0.9"/>
<rect x="438.65" y="238.4" width="0.52" height="16.4" fill="#fff" opacity="0.48"/>
<rect x="469.54" y="247.57" width="0.68" height="4.76" fill="#fff" opacity="0.68"/>
<rect x="475.47" y="246.25" width="0.98" height="5.88" fill="#fff" opacity="0.57"/>
<rect x="446.87" y="248.2" width="0.76" height="5.62" fill="#fff" opacity="0.84"/>
<rect x="445.33" y="245.82" width="0.47" height="8.2" fill="#fff" opacity="0.47"/>
<rect x="443.84" y="237.24" width="0.65" height="16.94" fill="#fff" opacity="0.73"/>
<rect x="488.7" y="240.91" width="0.75" height="9.31" fill="#fff" opacity="0.61"/>
<rect x="458.35" y="236.52" width="0.4" height="16.41" fill="#fff" opacity="0.53"/>
<rect x="476.85" y="245.46" width="0.81" height="6.63" fill="#fff" opacity="0.62"/>
<rect x="459.83" y="235.4" width="0.55" height="17.42" fill="#fff" opacity="0.9"/>
<rect x="469.46" y="239.66" width="0.72" height="12.67" fill="#fff" opacity="0.65"/>
<rect x="453.34" y="238.81" width="0.66" height="14.44" fill="#fff" opacity="0.85"/>
<rect x="486.17" y="239.44" width="0.67" height="11.28" fill="#fff" opacity="0.51"/>
<rect x="489.56" y="238.27" width="0.69" height="11.78" fill="#fff" opacity="0.41"/>
<rect x="462.64" y="240.02" width="0.41" height="12.62" fill="#fff" opacity="0.48"/>
<rect x="464.7" y="240.35" width="0.58" height="12.16" fill="#fff" opacity="0.43"/>
<rect x="455.1" y="237.68" width="0.46" height="15.47" fill="#fff" opacity="0.7"/>
<rect x="449.19" y="240.73" width="0.83" height="12.82" fill="#fff" opacity="0.41"/>
<rect x="464.41" y="242.87" width="0.94" height="9.63" fill="#fff" opacity="0.75"/>
<rect x="483.31" y="243.49" width="0.53" height="7.81" fill="#fff" opacity="0.81"/>
<polygon points="309.5,229.1 309.5,229.23 309.95,229.42 310.27,229.46 310.69,229.27 311.22,229.09 311.67,229.06 311.99,229.77 312.36,229.46 312.71,229.86 313.16,229.88 313.55,229.67 313.93,229.82 314.44,229.89 314.91,229.78 315.48,229.67 315.84,230.18 316.42,230.4 316.8,230.52 317.24,230.33 317.73,230.44 318.28,230.73 318.68,230.79 319.08,230.71 319.44,230.73 319.84,231.04 320.33,230.7 320.91,230.6 321.42,231.05 321.74,230.97 322.09,231.41 322.43,231.21 322.89,230.92 323.46,231.33 323.94,231.19 324.3,231.29 324.62,231.25 325.07,231.45 325.59,231.36 325.96,231.69 326.46,231.62 326.84,231.55 327.25,231.79 327.7,232 327.7,237.2 327.68,237.14 327.28,237.72 326.78,237.33 326.34,238.18 325.77,238.7 325.23,238.13 324.92,237.51 324.43,236.91 323.98,237.2 323.47,237.02 323.09,237.41 322.61,237.28 322.28,236.26 321.8,237.6 321.39,237.29 320.94,236.18 320.54,236.96 320.21,236.56 319.77,237.74 319.31,236.37 318.94,236.79 318.52,235.98 318.11,236.47 317.67,235.83 317.11,236.46 316.64,235.77 316.26,236.48 315.71,236.15 315.37,236.22 315.04,235.71 314.53,235.88 314,237.01 313.64,236.29 313.27,236.81 312.73,235.6 312.22,236.55 311.69,235.06 311.26,235.15 310.86,236.41 310.28,234.49 309.91,235.92 309.5,234.8 309.5,234.6" fill="#0a50f0"/>
<polygon points="327.9,236.1 327.9,236.23 328.42,235.94 328.79,236.26 329.14,236.44 329.71,236.34 330.09,236.34 330.62,236.25 331.11,236.45 331.67,236.61 332.16,236.51 332.72,236.6 333.22,236.47 333.56,236.65 333.94,236.93 334.31,236.92 334.72,236.53 335.19,236.66 335.77,236.89 336.11,236.73 336.46,236.87 336.92,236.81 337.41,236.93 337.8,237 337.8,240 337.64,241.09 337.23,239.82 336.88,239.69 336.38,241.06 336.05,240.6 335.66,241 335.09,240.91 334.72,240.81 334.37,240.24 334.01,240.44 333.62,239.52 333.16,239.65 332.7,240.15 332.37,239.55 331.98,240.03 331.45,240.59 331.03,240.41 330.53,239.22 329.97,239.28 329.39,240.37 328.93,240.5 328.61,239.4 328.28,240.27 327.9,240.02 327.9,239.3" fill="#0a50f0"/>
<polygon points="338.7,215.5 338.7,215.33 339.12,215.01 339.47,215.2 339.74,215.51 340.12,215.47 340.5,215.13 340.77,214.96 341.2,214.92 341.58,214.77 341.9,214.38 342.19,214.44 342.46,214.28 342.86,214.85 343.25,214.65 343.54,214.6 343.87,214.53 344.16,214.07 344.52,213.94 344.82,214.22 345.23,214.31 345.61,213.78 345.95,213.86 346.32,214.01 346.69,213.96 347.03,213.52 347.28,213.38 347.63,213.08 347.97,213.08 348.27,213.55 348.7,212.91 349.07,213.09 349.33,212.89 349.69,212.9 350.05,212.57 350.43,212.87 350.71,212.77 351.15,212.9 351.53,212.55 351.93,212.41 352.32,212.27 352.68,212.44 353.05,212.26 353.38,212.01 353.76,211.99 354.1,211.87 354.4,211.97 354.83,211.57 355.21,211.72 355.59,211.73 355.92,211.2 356.24,211.48 356.62,211.68 357,211.4 357.32,211.46 357.4,211.3 357.4,218.8 357.2,219.81 356.85,219.2 356.4,219.14 355.97,218.95 355.66,221.86 355.38,220.99 354.97,220.43 354.61,221.95 354.26,222.41 353.94,222.27 353.53,221.84 353.13,219.57 352.87,222.44 352.47,222.44 352.13,221.09 351.79,221.56 351.43,222.74 351,221.11 350.74,220.42 350.46,225.63 350.11,220.05 349.69,225.68 349.43,222.48 349.18,222.62 348.89,221.77 348.52,219.01 348.12,219.3 347.71,220.44 347.4,221.01 347,223.36 346.6,219.77 346.29,223.69 345.88,220.72 345.43,219.66 345.15,219.51 344.84,219.86 344.44,222.25 344.16,221.41 343.91,220.59 343.6,220.24 343.3,221.79 342.86,222.86 342.55,220.26 342.12,221.87 341.87,221.28 341.42,223.23 341.15,223.73 340.89,222.67 340.44,220.52 340.14,220.72 339.79,220.45 339.49,222.97 339.04,222.59 338.7,223.48 338.7,220" fill="#0a50f0"/>
<polygon points="357.4,213.2 357.4,213.97 357.82,214.76 358.17,214.39 358.43,214.7 358.8,216.61 359.05,216.34 359.31,217.49 359.6,217.21 359.98,216.08 360.32,216.51 360.6,216.41 360.86,217.06 361.31,216.63 361.64,216.52 361.91,216.97 362.3,215.52 362.63,215.52 363.02,215.22 363.45,215.27 363.87,215.49 364.22,216.58 364.66,216.87 364.94,216.48 365.28,215.31 365.62,217.05 365.87,216.56 366.23,217.01 366.57,215.66 367,215.41 367.38,215.87 367.64,215.63 368.06,215.67 368.5,215.71 368.94,215.56 369.33,216.67 369.7,217.58 369.99,217.77 370.35,217.42 370.65,217.87 371.05,216.77 371.34,217.7 371.7,218 372.13,217.53 372.53,216.3 372.95,217.57 373.21,216.17 373.48,216.51 373.88,217.75 374.28,216.9 374.72,216.45 375.01,217.11 375.31,217.78 375.73,217.82 376.04,217.48 376.35,217.44 376.71,216.59 377.13,218.07 377.54,216.51 377.84,217.98 378.25,217.72 378.69,217.33 378.98,217.45 379.29,217.27 379.7,217.17 380.1,217.79 380.35,217.62 380.77,217.95 381.2,217.96 381.65,216.68 381.98,217.05 382.39,217.29 382.77,218.11 383.02,218.03 383.34,217.26 383.72,218.12 384.01,218.31 384.27,216.89 384.7,218.84 385.14,219.02 385.54,218.11 385.9,218.06 386.34,219.04 386.68,217.38 387.04,217.89 387.45,219.01 387.83,217.19 388.18,217.32 388.54,218.86 388.93,218.11 389.21,219.15 389.63,218.21 389.89,218.64 390.22,218.05 390.54,217.8 390.82,218.65 391.17,218.19 391.57,218.37 391.85,217.87 392.22,218.78 392.59,218.98 392.91,219.04 393.28,217.94 393.55,218.78 393.98,219.52 394.39,219.27 394.76,218.02 395.07,219.4 395.37,218.6 395.73,217.61 396,218.04 396.41,219.37 396.67,218.02 397.13,218.08 397.54,219.04 397.97,219.42 398.23,219.52 398.63,217.95 399.07,218.55 399.41,219.1 399.78,219.23 400.03,219.88 400.39,218.26 400.74,218.49 401.08,219.69 401.48,218.5 401.78,220.31 402.16,218.62 402.53,218.8 402.8,219.73 403.06,218.62 403.45,220.47 403.71,220.02 403.99,218.53 404.23,218.47 404.63,220.46 404.88,218.82 405.14,219.44 405.45,219.07 405.86,219.01 406.24,219.22 406.62,219.32 406.91,221.3 407.21,220.22 407.6,221.55 407.96,219.73 408.34,221.1 408.71,220.56 409.13,219.99 409.49,221.17 409.92,221.83 410.22,221.06 410.59,221.17 410.85,222.6 411.19,220.84 411.46,220.65 411.9,221.07 412.26,222.96 412.67,222.32 412.98,222.6 413.39,221.71 413.68,222.25 414.05,223.43 414.42,222.18 414.82,222.05 415.09,221.83 415.45,223.2 415.8,223.26 416.08,222.6 416.45,223.14 416.8,224.38 417.14,224.12 417.4,223.65 417.66,223.09 417.94,223.59 418.22,224.89 418.53,223.61 418.79,223.84 419.2,224.36 419.63,224.66 420.01,224.36 420.43,224.55 420.7,224.15 421.12,223.92 421.4,225.26 421.79,225.03 422.17,225.06 422.54,224.34 422.87,226.51 423.24,225.23 423.61,226.75 423.95,225.63 424.37,226.73 424.66,226.42 424.97,225.83 425.39,225.99 425.82,226.4 426.25,225.76 426.58,225.66 427,227.68 427.35,226.86 427.8,226.83 428.11,226.39 428.55,227.99 428.9,227.95 429.32,227.95 429.59,228 430.02,227.76 430.35,228.24 430.64,227.41 431.03,229.23 431.3,228.59 431.65,227.33 431.93,228.01 432.32,227.76 432.64,228.93 433.04,229.89 433.46,228.26 433.83,229.29 434.19,229.39 434.51,228.71 434.9,230.23 435.29,229.89 435.73,229.14 436.1,230.52 436.48,228.83 436.83,230.74 437.12,229.87 437.2,230.3 437.2,235.1 437.11,236.89 436.77,234.77 436.52,236.28 436.19,234.9 435.87,236.09 435.46,234.46 435.08,235.09 434.72,234.26 434.35,233.98 434.09,233.84 433.78,234.55 433.38,234.24 433.13,234.06 432.77,236.21 432.49,236.89 432.25,235.61 431.99,234.03 431.67,233.28 431.27,235.43 430.83,235.66 430.56,234.87 430.31,235.52 429.98,232.6 429.58,233.84 429.3,234.02 428.86,233.72 428.62,235.29 428.27,234.59 427.98,234.46 427.69,232.39 427.39,234.49 427.04,235 426.75,233.6 426.48,234.23 426.18,232.69 425.84,231.83 425.49,233.33 425.16,232.1 424.82,234.14 424.57,233.01 424.28,232.51 423.95,233.12 423.59,232.02 423.14,233.28 422.81,233.16 422.51,233.83 422.21,231.11 421.91,231.55 421.55,231.63 421.26,232.77 420.96,230.67 420.53,231.58 420.15,230.79 419.89,231.98 419.45,232.91 419.16,232.43 418.77,233.93 418.36,231.5 417.91,232.23 417.57,230.5 417.2,230.88 416.85,232.64 416.42,229.77 416.03,231.96 415.62,231.55 415.17,230.9 414.89,229.77 414.44,229.93 414.04,229.81 413.59,233.97 413.27,232.79 413.01,229.12 412.72,231.47 412.29,231.32 411.88,228.96 411.54,229.22 411.09,229.55 410.71,228.37 410.36,230.21 410.04,230.02 409.61,230.17 409.27,230.46 408.98,227.95 408.59,230.14 408.16,227.99 407.9,229.61 407.59,228.12 407.29,228.71 406.87,230.05 406.43,228.15 406.12,227.47 405.84,228.1 405.54,226.98 405.15,229.16 404.79,229.65 404.35,227.22 404.07,227.35 403.79,228.08 403.51,228.31 403.27,229.78 402.9,228.89 402.48,228.99 402.23,227.24 401.82,227.15 401.45,228.38 401.14,228.33 400.8,228.61 400.37,227.82 400.08,228.44 399.82,228.56 399.49,227.24 399.07,226.49 398.73,228.63 398.35,228.49 397.91,227.32 397.46,226.65 397.03,226.92 396.69,227.13 396.42,228.88 396.05,226.18 395.75,228.17 395.39,226.46 395.12,225.92 394.74,226.27 394.47,228.18 394.04,226.74 393.59,228.2 393.28,227.92 392.87,227.6 392.54,227.94 392.09,225.74 391.65,227.1 391.29,228.07 390.84,225.87 390.53,226.87 390.14,226.99 389.72,226.92 389.29,227.09 388.98,226.22 388.53,225.8 388.24,227.63 387.92,225.86 387.48,225.73 387.14,227.9 386.81,227.19 386.47,225.13 386.17,229.36 385.9,226.59 385.62,225.95 385.34,225.57 385.03,227.45 384.79,225.9 384.4,226.7 384.1,227.71 383.81,226.52 383.45,227.34 383.03,224.99 382.6,226.99 382.32,227.31 381.98,225.5 381.63,227.1 381.28,226.05 380.88,228.08 380.53,225.84 380.16,226.15 379.86,227.1 379.47,227.52 379.1,225.61 378.71,226.31 378.44,227.37 378.16,227.32 377.75,225.06 377.38,228.2 377.11,226.36 376.8,228.27 376.46,226.81 376.06,225.37 375.7,226.1 375.39,227.88 375,228.51 374.62,228.08 374.35,227.86 374.1,227.34 373.85,226.64 373.56,225.96 373.3,225.45 373.03,225.78 372.77,227.73 372.35,228.05 371.94,225.85 371.66,229.33 371.29,230.58 370.87,225.86 370.59,226.09 370.3,228.2 369.93,226.96 369.67,227.46 369.36,226.74 369.1,225.58 368.84,227.15 368.56,227.25 368.17,227.2 367.76,227.28 367.51,228.08 367.19,225.11 366.75,226.94 366.42,226.09 366.1,226.43 365.7,225.91 365.42,227.52 365.04,227.35 364.75,225.2 364.37,227.55 364.03,228.54 363.69,230.58 363.37,228.08 362.96,228.65 362.53,227.87 362.27,228.79 361.83,226.2 361.57,228.46 361.22,229.11 360.93,229 360.67,229.89 360.32,228.57 360.02,227.1 359.6,227.04 359.28,225.44 358.83,224.64 358.58,225.95 358.2,224.37 357.77,223.75 357.4,221.55 357.4,221.1" fill="#0a50f0"/>
<polygon points="437.4,223.9 437.4,224.2 437.91,224.19 438.21,223.9 438.53,224.1 438.93,223.79 439.23,224.1 439.66,224.12 440.05,224.34 440.5,224.46 440.88,224.14 441.37,224.12 441.7,224.27 442.12,224.64 442.42,224.61 442.84,224.79 443.14,224.86 443.48,224.67 443.79,225.04 444.22,225.08 444.62,224.65 445,224.68 445.3,225.24 445.58,224.99 445.87,225.29 446.39,224.86 446.76,225.57 447.1,225.16 447.62,225.66 447.99,225.54 448.46,225.39 448.74,225.45 449.19,225.93 449.57,225.6 449.94,225.79 450.23,226.04 450.74,225.5 451.02,225.74 451.33,226.11 451.82,226.02 452.33,225.88 452.66,226.04 453.05,225.96 453.55,226.42 453.9,226.11 454.24,226.28 454.68,226.61 455.19,226.2 455.52,226.46 456.02,226.59 456.48,226.91 456.87,226.66 457.33,226.91 457.85,226.73 458.36,226.95 458.85,227.14 459.26,227.35 459.56,226.99 459.96,227.43 460.29,227.45 460.59,227.19 460.98,227.5 461.38,227.66 461.83,227.4 462.23,227.46 462.72,227.47 463.05,227.48 463.39,227.93 463.83,227.6 464.21,228.11 464.72,227.71 465.23,227.68 465.75,227.95 466.26,227.83 466.7,228.52 467.18,228.35 467.5,228.17 468,228.69 468.34,228.38 468.77,228.42 469.1,228.87 469.4,228.76 469.78,228.71 470.27,228.98 470.74,228.54 471.21,229.16 471.49,228.81 471.95,229.34 472.35,229.42 472.66,229.03 473.13,229.48 473.47,229.37 473.85,229.56 474.23,229.32 474.69,229.66 475.06,229.73 475.4,229.64 475.72,229.58 476.11,229.47 476.46,229.71 476.82,229.87 477.31,230.2 477.67,229.75 477.97,230.33 478.43,230.3 478.93,230.14 479.25,229.98 479.62,230.51 479.92,230.33 480.22,230.22 480.64,230.6 481.14,230.45 481.48,230.32 481.8,230.35 482.08,230.46 482.49,230.76 482.99,230.86 483.29,230.67 483.74,231.33 484.2,230.88 484.56,231.08 484.95,231.04 485.26,230.91 485.75,231.65 486.27,231.32 486.71,231.27 487.02,231.18 487.38,231.79 487.79,231.47 488.18,231.74 488.51,231.73 489.01,231.81 489.53,232.09 489.84,232.28 490.29,232.02 490.61,232.22 490.94,232.14 491.25,232.15 491.77,232.37 492.17,232.45 492.61,232.51 492.9,232.5 492.9,236 492.58,236.12 492.23,236.97 491.91,237.16 491.44,235.89 490.98,236.09 490.63,237.22 490.2,236.69 489.86,236.4 489.45,236.59 489.08,236.52 488.59,235.26 488.19,235.1 487.74,235.51 487.34,236.14 486.92,234.59 486.41,236.16 486.05,235.41 485.58,235.12 485.06,235.03 484.66,235.19 484.3,235.98 483.92,235.8 483.6,234.02 483.12,234.1 482.76,234.48 482.45,234.61 482.14,234.69 481.79,234.12 481.5,235.29 481.22,234.91 480.77,234.81 480.31,233.98 480,234.84 479.6,235.08 479.25,234.52 478.78,233.18 478.36,234.45 477.95,233.27 477.61,234.67 477.3,233.34 476.88,234.67 476.47,234.37 476.15,233.17 475.67,233.5 475.18,233.83 474.79,234.14 474.34,233.92 473.9,233.3 473.42,232.81 473.02,232.9 472.59,233.9 472.12,233.21 471.72,233.08 471.33,232.47 471.01,233.08 470.69,232.31 470.19,231.86 469.71,231.68 469.34,231.43 468.88,232.76 468.41,232.36 467.95,231.99 467.5,232.25 467.15,231.49 466.8,231.76 466.33,230.87 465.94,231.07 465.63,231.22 465.24,231.3 464.93,231.97 464.5,230.65 464.04,232.09 463.53,231.02 463.13,231.84 462.63,232.11 462.16,231.1 461.66,230.97 461.37,230.89 460.98,232.03 460.6,230.63 460.24,231.83 459.73,231.09 459.25,230.73 458.76,231.67 458.48,230.37 458.16,231.49 457.77,230.96 457.33,230.78 456.9,230.53 456.52,229.9 456.19,230.02 455.89,230.04 455.56,230.65 455.21,230.39 454.74,229.86 454.3,229.61 453.94,231.19 453.59,230.85 453.3,230.85 453,230.25 452.71,230.02 452.4,230.38 452.08,230.05 451.73,230.02 451.3,229.37 450.86,229.9 450.46,230.59 450.03,230.56 449.52,229.73 449.21,229.64 448.78,229.19 448.43,229.23 447.91,229.56 447.46,230.2 447.06,228.51 446.71,228.71 446.42,230.04 445.92,228.44 445.57,228.88 445.06,228.72 444.65,229.09 444.19,228.26 443.69,228.78 443.31,229.53 442.87,229.03 442.46,229.43 442.17,228.23 441.79,229.25 441.41,227.84 440.94,228.69 440.63,227.9 440.12,228.84 439.73,227.98 439.42,229.48 438.96,228.48 438.67,228.63 438.31,228.39 437.83,229.21 437.4,227.73 437.4,227.7" fill="#0a50f0"/>
<polygon points="493.2,238.9 493.2,239.07 493.63,238.82 494.08,239.07 494.4,239.1 494.81,238.95 495.3,238.69 495.69,238.98 495.97,238.78 496.38,238.81 496.78,239.03 497.09,238.96 497.44,238.57 497.83,238.59 498.22,238.6 498.61,238.58 499.12,238.61 499.51,238.84 499.95,238.55 500.44,238.68 500.74,238.71 501.17,238.66 501.62,238.62 502.1,238.99 502.57,238.46 502.95,238.73 503.32,238.52 503.75,238.47 504.07,238.64 504.59,238.61 505.1,238.78 505.53,238.91 505.95,238.8 506.35,238.82 506.84,238.34 507.34,238.35 507.77,238.36 508.23,238.57 508.55,238.81 508.89,238.84 509.26,238.63 509.65,238.74 510.01,238.58 510.35,238.47 510.65,238.42 511,238.67 511.31,238.34 511.83,238.63 512.13,238.75 512.59,238.59 513.1,238.54 513.42,238.22 513.72,238.48 514.13,238.7 514.43,238.23 514.73,238.4 515.23,238.64 515.52,238.53 515.85,238.3 516.21,238.31 516.56,238.29 516.92,238.5 517.33,238.57 517.68,238.15 518.1,238.31 518.43,238.36 518.94,238.46 519.39,238.12 519.8,238.51 520.29,238.54 520.58,238.67 520.86,238.53 521.25,238.62 521.76,238.5 522.06,238.43 522.37,238.29 522.68,238.21 522.97,238.35 523.28,238.17 523.74,238.19 524.16,238.52 524.4,238.3 524.4,243.8 524.39,244.06 524.09,244.4 523.73,243.74 523.3,244.53 522.89,245.51 522.52,244.07 522.2,243.74 521.81,245.63 521.34,243.85 521.02,243.97 520.61,243.78 520.13,244.92 519.74,244.77 519.28,245.7 518.92,245.52 518.61,243.77 518.23,243.59 517.8,243.33 517.44,243.92 516.96,244.74 516.6,245.12 516.13,245.19 515.72,245.38 515.26,245.02 514.93,244.4 514.58,243.49 514.28,243.35 513.86,243.8 513.52,245.73 513.03,244.47 512.57,243.32 512.27,244.44 511.76,244.92 511.32,245.56 510.91,244.87 510.44,244.13 509.93,245.41 509.6,245.07 509.09,244.2 508.75,243.69 508.33,243.61 507.97,244.1 507.65,244.33 507.22,243.51 506.87,244.15 506.41,244.8 506.07,245.38 505.68,245.61 505.35,244.33 505.03,245.44 504.58,243.43 504.07,245.16 503.6,245.56 503.3,244.79 502.94,244 502.65,244.04 502.13,244.01 501.65,244.59 501.26,245.8 500.92,245.03 500.64,245.24 500.33,244.85 500.04,244.68 499.75,243.34 499.35,245.36 498.89,245.23 498.55,244.38 498.07,243.89 497.67,245.43 497.22,243.39 496.73,244.7 496.31,244.55 496,245.22 495.67,245.45 495.37,245.46 495.03,243.52 494.53,244.1 494.03,245.79 493.7,243.91 493.2,245.35 493.2,243.8" fill="#0a50f0"/>
<polygon points="524.4,234.5 524.4,234.56 524.74,234.24 525.16,234.29 525.44,234.78 525.9,234.76 526.25,234.66 526.74,234.58 527.03,234.36 527.4,234.46 527.81,234.31 528,234.5 528,239 527.6,239.16 527.19,239.64 526.76,239.01 526.29,239.41 526,239.45 525.59,239 525.11,238.72 524.78,238.85 524.4,238.73 524.4,239" fill="#0a50f0"/>
<polyline points="309.5,217.6 327.7,223.4 327.9,227.4 338.2,230 338.5,187.5 344,185.6 350,184.3 357.2,183.3 357.6,189.6 362,189.2 368,189.4 375,190.5 382,192 388,193.7 395,195.9 410,201.8 425,208 437,213.1 437.4,209.3 465,214.3 492.7,218.5 493.2,224.5 524.2,224.5 524.6,220.5 528,220.5" fill="none" stroke="#ffa030" stroke-width="0.95"/>
<polyline points="309.8,274.9 326.8,274.9 327.2,276 337.3,276 337.7,273.3 356.3,273.3 356.7,274 436.4,273.8 437.5,272.2 492,272.2 492.4,273.1 524.3,273.1 524.7,269.4 527.6,269.4" fill="none" stroke="#d2ff1e" stroke-width="1"/>
<polyline points="309.8,277.9 326.8,277.9 327.2,279.3 337.3,279.3 337.7,277.5 356.3,277.5 356.7,278.2 436.4,277.7 437.5,276.4 492,275.8 524.3,275.6 524.7,273.8 527.6,273.8" fill="none" stroke="#c060ff" stroke-width="0.8"/>
<polyline points="309.8,278.45 326.8,278.45 327.2,279.85 337.3,279.85 337.7,278.05 356.3,278.05 356.7,278.75 436.4,278.25 437.5,276.95 492,276.35 524.3,276.15 524.7,274.35 527.6,274.35" fill="none" stroke="#5a3cff" stroke-width="1"/>
<polyline points="309.8,280.8 326.8,280.8 327.2,282.1 337.3,282.1 337.7,280.3 356.3,280.3 356.7,281 436.4,281 437.5,280.3 492,280.3 492.4,281 524.3,281 524.7,280.3 527.6,280.3" fill="none" stroke="#ff30b0" stroke-width="0.9"/>
<polyline points="309.8,281.4 326.8,281.4 327.2,282.7 337.3,282.7 337.7,280.9 356.3,280.9 356.7,281.6 436.4,281.6 437.5,280.9 492,280.9 492.4,281.6 524.3,281.6 524.7,280.9 527.6,280.9" fill="none" stroke="#f41048" stroke-width="1"/>
<rect x="309.5" y="178.5" width="223" height="107.65" fill="none" stroke="#a4a4a4" stroke-width="1"/>
<text transform="translate(309.5,298.4) scale(0.945,1)" font-size="8.4" text-anchor="middle">0</text>
<line x1="346.67" y1="286.15" x2="346.67" y2="283.95" stroke="#a4a4a4" stroke-width="0.9"/>
<line x1="346.67" y1="178.5" x2="346.67" y2="180.7" stroke="#a4a4a4" stroke-width="0.9"/>
<text transform="translate(346.67,298.4) scale(0.945,1)" font-size="8.4" text-anchor="middle">1000</text>
<line x1="383.84" y1="286.15" x2="383.84" y2="283.95" stroke="#a4a4a4" stroke-width="0.9"/>
<line x1="383.84" y1="178.5" x2="383.84" y2="180.7" stroke="#a4a4a4" stroke-width="0.9"/>
<text transform="translate(383.84,298.4) scale(0.945,1)" font-size="8.4" text-anchor="middle">2000</text>
<line x1="421.01" y1="286.15" x2="421.01" y2="283.95" stroke="#a4a4a4" stroke-width="0.9"/>
<line x1="421.01" y1="178.5" x2="421.01" y2="180.7" stroke="#a4a4a4" stroke-width="0.9"/>
<text transform="translate(421.01,298.4) scale(0.945,1)" font-size="8.4" text-anchor="middle">3000</text>
<line x1="458.18" y1="286.15" x2="458.18" y2="283.95" stroke="#a4a4a4" stroke-width="0.9"/>
<line x1="458.18" y1="178.5" x2="458.18" y2="180.7" stroke="#a4a4a4" stroke-width="0.9"/>
<text transform="translate(458.18,298.4) scale(0.945,1)" font-size="8.4" text-anchor="middle">4000</text>
<line x1="495.35" y1="286.15" x2="495.35" y2="283.95" stroke="#a4a4a4" stroke-width="0.9"/>
<line x1="495.35" y1="178.5" x2="495.35" y2="180.7" stroke="#a4a4a4" stroke-width="0.9"/>
<text transform="translate(495.35,298.4) scale(0.945,1)" font-size="8.4" text-anchor="middle">5000</text>
<text transform="translate(532.52,298.4) scale(0.945,1)" font-size="8.4" text-anchor="middle">6000</text>
<text transform="translate(305.3,182.1) scale(0.945,1)" font-size="8.4" text-anchor="end">5</text>
<line x1="309.5" y1="205.75" x2="311.7" y2="205.75" stroke="#a4a4a4" stroke-width="0.9"/>
<line x1="532.5" y1="205.75" x2="530.3" y2="205.75" stroke="#a4a4a4" stroke-width="0.9"/>
<text transform="translate(305.3,208.85) scale(0.945,1)" font-size="8.4" text-anchor="end">4</text>
<line x1="309.5" y1="232.5" x2="311.7" y2="232.5" stroke="#a4a4a4" stroke-width="0.9"/>
<line x1="532.5" y1="232.5" x2="530.3" y2="232.5" stroke="#a4a4a4" stroke-width="0.9"/>
<text transform="translate(305.3,235.6) scale(0.945,1)" font-size="8.4" text-anchor="end">3</text>
<line x1="309.5" y1="259.25" x2="311.7" y2="259.25" stroke="#a4a4a4" stroke-width="0.9"/>
<line x1="532.5" y1="259.25" x2="530.3" y2="259.25" stroke="#a4a4a4" stroke-width="0.9"/>
<text transform="translate(305.3,262.35) scale(0.945,1)" font-size="8.4" text-anchor="end">2</text>
<text transform="translate(305.3,289.1) scale(0.945,1)" font-size="8.4" text-anchor="end">1</text>
<text transform="translate(421,310.1) scale(0.940,1)" font-size="9.6" text-anchor="middle">epoch</text>
<text transform="translate(296.9,232.32) rotate(-90) scale(0.93,1)" font-size="9.7" text-anchor="middle">PDOP</text>
<text class="cap" x="418.1" y="335.5" font-size="13.1" text-anchor="middle">(<tspan>d</tspan>)</text>
<polygon points="34.5,430 34.5,386.4 42.7,374.9 49.1,366.6 55.5,360.9 58,359.6 60.5,359 63,359.3 65.6,360.3 68.5,362.4 72,366 80.9,377.5 87.3,385.7 93.6,394 96.4,398.5 97,401 103,405.5 110.4,410.5 110.4,430" fill="#1cf852"/>
<polygon points="34.5,387.3 42.7,375.8 49.1,367.5 55.5,361.8 58,360.5 60.5,359.9 63,360.2 65.6,361.2 68.5,363.3 72,366.9 80.9,378.4 87.3,386.6 93.6,394.9 96.4,399.4 97,401.9 103,406.4 110.4,411.4 111.1,411.4 111.1,441.5 110.83,441.41 110.44,441.11 109.94,441.55 109.39,441.2 109.02,441.7 108.54,441.26 108.23,441.65 107.88,441.65 107.43,441.61 107.03,440.95 106.47,440.51 106.15,442.18 105.78,440.88 105.44,440.53 105.01,441.59 104.63,440.94 104.21,441.24 103.73,443.11 103.34,440.84 102.95,441.01 102.43,440.53 102.11,440.42 101.63,444.68 101.06,440.4 100.55,441.33 100.2,441.82 99.64,440.54 99.26,441.66 98.92,441.1 98.36,441.14 97.8,440.86 97.34,442.01 97,441.29 96.64,441.38 96.23,441.9 95.8,440.79 95.28,440.74 94.8,441.81 94.47,440.49 93.96,441.68 93.5,441.76 93.08,440.33 92.5,441.86 92.08,442.01 91.58,440.47 91.23,440.76 90.74,441.9 90.28,441.87 89.96,440.51 89.46,440.83 88.95,441.15 88.57,440.95 88.1,441.09 87.53,444.57 87.13,441.21 86.61,440.8 86.19,441.92 85.81,440.87 85.27,441.66 84.91,441.63 84.53,442.55 83.97,440.61 83.57,441.22 83.08,440.77 82.59,440.85 82.07,441.11 81.65,441.42 81.27,440.51 80.79,441.39 80.47,441.9 79.93,441.34 79.52,441.47 79.01,441.1 78.69,443.28 78.23,441.35 77.81,440.76 77.24,440.77 76.79,440.28 76.21,440.97 75.77,441.23 75.37,441.18 74.79,441.11 74.36,440.72 73.96,440.98 73.5,441.06 72.92,441.43 72.46,440.48 72.06,440.54 71.62,441.75 71.11,440.94 70.6,441.61 70.15,440.84 69.62,441.4 69.06,440.65 68.53,441.35 68.09,440.93 67.72,441.74 67.39,440.82 66.86,440.31 66.53,441.75 66.06,440.36 65.72,440.61 65.17,441.72 64.63,441.34 64.09,441.49 63.68,444.33 63.2,441.42 62.8,441.47 62.43,441.48 62.02,440.58 61.47,440.9 61.06,441.08 60.56,440.2 60.15,440.84 59.78,440.55 59.46,441.08 58.95,440.6 58.39,440.34 57.87,440.2 57.45,441.39 56.91,440.09 56.55,440.31 56.12,440.4 55.71,440.11 55.13,441.45 54.55,440.87 54.13,441.43 53.58,440.15 53.09,440.24 52.67,440.84 52.2,441.25 51.74,441.36 51.3,440.8 50.98,441.33 50.48,442.76 49.99,440.96 49.43,440.22 49.08,439.88 48.64,440.16 48.12,440.6 47.69,440.17 47.19,440.42 46.74,440.88 46.36,441.29 45.96,440.72 45.49,440.87 44.97,444.22 44.52,439.9 43.95,439.88 43.42,440.96 42.92,439.84 42.57,441.96 42.22,440.64 41.85,441.28 41.35,443.1 40.77,440.95 40.37,440 39.99,440.37 39.67,441.16 39.25,440.02 38.92,440.86 38.55,440.91 38.22,440.09 37.82,441.32 37.25,441.23 36.73,439.84 36.2,440.68 35.84,442.12 35.45,439.97 35.01,441.05 34.5,440.9" fill="#00f4f4"/>
<line x1="40.35" y1="378.2" x2="40.35" y2="400.31" stroke="#1cf852" stroke-width="0.67" opacity="0.75"/>
<line x1="49.29" y1="366.43" x2="49.29" y2="372.72" stroke="#1cf852" stroke-width="0.66" opacity="0.75"/>
<line x1="36.76" y1="383.22" x2="36.76" y2="402.35" stroke="#1cf852" stroke-width="0.8" opacity="0.75"/>
<line x1="43.58" y1="373.76" x2="43.58" y2="388.17" stroke="#1cf852" stroke-width="0.71" opacity="0.75"/>
<line x1="47.68" y1="368.44" x2="47.68" y2="395.96" stroke="#1cf852" stroke-width="0.82" opacity="0.75"/>
<line x1="50.64" y1="365.22" x2="50.64" y2="377.6" stroke="#1cf852" stroke-width="0.43" opacity="0.75"/>
<line x1="50.45" y1="365.4" x2="50.45" y2="374.77" stroke="#1cf852" stroke-width="0.75" opacity="0.75"/>
<line x1="49.87" y1="365.92" x2="49.87" y2="390.57" stroke="#1cf852" stroke-width="0.43" opacity="0.75"/>
<line x1="45.88" y1="370.77" x2="45.88" y2="382.94" stroke="#1cf852" stroke-width="0.57" opacity="0.75"/>
<line x1="40.63" y1="377.81" x2="40.63" y2="401.8" stroke="#1cf852" stroke-width="0.63" opacity="0.75"/>
<line x1="47.47" y1="368.71" x2="47.47" y2="375.53" stroke="#1cf852" stroke-width="0.68" opacity="0.75"/>
<line x1="49.42" y1="366.32" x2="49.42" y2="373.29" stroke="#1cf852" stroke-width="0.57" opacity="0.75"/>
<line x1="40.84" y1="377.51" x2="40.84" y2="394.77" stroke="#1cf852" stroke-width="0.44" opacity="0.75"/>
<line x1="57.6" y1="359.81" x2="57.6" y2="373.14" stroke="#1cf852" stroke-width="0.86" opacity="0.75"/>
<line x1="35.41" y1="385.13" x2="35.41" y2="407.15" stroke="#1cf852" stroke-width="0.85" opacity="0.75"/>
<line x1="44.89" y1="372.05" x2="44.89" y2="385.04" stroke="#1cf852" stroke-width="0.71" opacity="0.75"/>
<line x1="41.75" y1="376.23" x2="41.75" y2="386.14" stroke="#1cf852" stroke-width="0.86" opacity="0.75"/>
<line x1="49.66" y1="366.1" x2="49.66" y2="382.07" stroke="#1cf852" stroke-width="0.63" opacity="0.75"/>
<line x1="53.21" y1="362.94" x2="53.21" y2="384.68" stroke="#1cf852" stroke-width="0.54" opacity="0.75"/>
<line x1="41.91" y1="376.01" x2="41.91" y2="389.85" stroke="#1cf852" stroke-width="0.43" opacity="0.75"/>
<line x1="44.41" y1="372.68" x2="44.41" y2="379.44" stroke="#1cf852" stroke-width="0.73" opacity="0.75"/>
<line x1="42.39" y1="375.34" x2="42.39" y2="387.16" stroke="#1cf852" stroke-width="0.51" opacity="0.75"/>
<line x1="40.46" y1="378.04" x2="40.46" y2="387.55" stroke="#1cf852" stroke-width="0.84" opacity="0.75"/>
<line x1="45.24" y1="371.6" x2="45.24" y2="388.71" stroke="#1cf852" stroke-width="0.56" opacity="0.75"/>
<line x1="56.91" y1="360.17" x2="56.91" y2="378.53" stroke="#1cf852" stroke-width="0.49" opacity="0.75"/>
<line x1="50.52" y1="365.33" x2="50.52" y2="369.36" stroke="#1cf852" stroke-width="0.9" opacity="0.75"/>
<line x1="102.22" y1="404.92" x2="102.22" y2="408.2" stroke="#1cf852" stroke-width="0.57" opacity="0.7"/>
<line x1="107.28" y1="408.39" x2="107.28" y2="415.04" stroke="#1cf852" stroke-width="0.71" opacity="0.7"/>
<line x1="97.4" y1="401.3" x2="97.4" y2="404.48" stroke="#1cf852" stroke-width="0.66" opacity="0.7"/>
<line x1="97.35" y1="401.27" x2="97.35" y2="404.17" stroke="#1cf852" stroke-width="0.42" opacity="0.7"/>
<line x1="95.77" y1="397.49" x2="95.77" y2="405" stroke="#1cf852" stroke-width="0.53" opacity="0.7"/>
<line x1="99.13" y1="402.6" x2="99.13" y2="405.23" stroke="#1cf852" stroke-width="0.75" opacity="0.7"/>
<line x1="106.62" y1="407.95" x2="106.62" y2="411.75" stroke="#1cf852" stroke-width="0.69" opacity="0.7"/>
<line x1="102.19" y1="404.9" x2="102.19" y2="409.48" stroke="#1cf852" stroke-width="0.75" opacity="0.7"/>
<line x1="81.4" y1="378.14" x2="81.4" y2="381.87" stroke="#1cf852" stroke-width="0.45" opacity="0.7"/>
<line x1="104.8" y1="406.72" x2="104.8" y2="413.15" stroke="#1cf852" stroke-width="0.49" opacity="0.7"/>
<rect x="60.15" y="361.5" width="0.7" height="45.5" fill="#fff" opacity="0.75"/>
<rect x="64.1" y="361.5" width="0.6" height="20.5" fill="#fff" opacity="0.6"/>
<rect x="69.2" y="365.5" width="0.6" height="17.5" fill="#fff" opacity="0.5"/>
<rect x="57" y="361.5" width="0.8" height="5.5" fill="#fff" opacity="0.6"/>
<rect x="58.3" y="361" width="0.6" height="5" fill="#fff" opacity="0.5"/>
<rect x="61.7" y="360.5" width="0.6" height="4.5" fill="#fff" opacity="0.5"/>
<rect x="74.75" y="372" width="0.5" height="20" fill="#fff" opacity="0.3"/>
<rect x="51.75" y="366" width="0.5" height="19" fill="#fff" opacity="0.25"/>
<rect x="45.75" y="372" width="0.5" height="23" fill="#fff" opacity="0.25"/>
<polygon points="110.9,402.7 110.9,402.7 111.35,402.83 111.78,402.98 112.25,403.15 112.66,403.3 113.15,403.48 113.52,403.61 113.94,403.77 114.28,403.89 114.79,404.07 115.18,404.22 115.55,404.35 115.99,404.51 116.49,404.69 117.06,404.9 117.59,405.09 118.06,405.26 118.46,405.4 118.78,405.52 119.32,405.7 119.79,405.86 120.24,406.01 120.63,406.13 121.02,406.26 121.46,406.4 121.98,406.57 122.49,406.74 123.06,406.92 123.57,407.09 124.11,407.27 124.66,407.45 125.08,407.58 125.62,407.76 126.04,407.9 126.57,408.07 126.98,408.2 127.37,408.33 127.81,408.47 128.16,408.59 128.53,408.71 128.99,408.86 129.41,409 129.96,409.18 130.41,409.33 130.73,409.44 131.3,409.62 131.77,409.78 132.31,409.96 132.87,410.14 133.22,410.26 133.8,410.45 134.36,410.64 134.79,410.78 135.23,410.92 135.74,411.09 136.14,411.22 136.57,411.37 137.01,411.51 137.44,411.66 137.86,411.8 138.31,411.94 138.87,412.13 139.39,412.3 139.75,412.42 140.1,412.54 140.66,412.72 141.04,412.85 141.56,413.03 141.91,413.16 142.43,413.34 143.01,413.54 143.58,413.74 143.94,413.87 144.4,414.03 144.75,414.15 145.28,414.34 145.72,414.49 146.27,414.69 146.64,414.82 147.13,414.99 147.67,415.18 148.17,415.36 148.57,415.5 149.02,415.66 149.51,415.83 150.05,416.01 150.63,416.14 150.97,416.21 151.42,416.31 151.74,416.38 152.12,416.47 152.66,416.58 153.04,416.67 153.56,416.78 153.9,416.86 154.22,416.93 154.6,417.01 155.01,417.1 155.34,417.18 155.7,417.25 156.13,417.35 156.64,417.46 156.99,417.54 157.53,417.66 158.05,417.77 158.62,417.9 158.99,417.98 159.46,418.08 159.92,418.18 160.36,418.29 160.81,418.39 161.33,418.52 161.89,418.65 162.36,418.77 162.86,418.89 163.37,419.01 163.95,419.15 164.33,419.24 164.9,419.38 165.27,419.46 165.67,419.56 166.2,419.69 166.74,419.82 167.15,419.92 167.69,420.05 168.17,420.16 168.61,420.27 169.11,420.39 169.69,420.53 170.14,420.63 170.55,420.73 170.88,420.81 171.46,420.95 171.81,421.03 172.21,421.13 172.62,421.23 173.02,421.32 173.49,421.44 173.88,421.53 174.4,421.66 174.94,421.79 175.48,421.9 175.99,422.01 176.45,422.11 176.89,422.2 177.34,422.3 177.88,422.42 178.35,422.52 178.71,422.59 179.02,422.66 179.35,422.73 179.87,422.84 180.26,422.93 180.83,423.05 181.24,423.13 181.62,423.22 182.14,423.33 182.67,423.44 183.17,423.55 183.55,423.63 184.1,423.75 184.56,423.84 184.97,423.93 185.54,424.05 186.11,424.18 186.54,424.27 187.1,424.39 187.65,424.51 188.16,424.61 188.6,424.71 189.03,424.8 189.46,424.89 189.6,424.9 189.6,429.5 189.47,428.2 188.92,430.13 188.47,428.43 188.08,429.87 187.58,430.35 187.08,430.12 186.63,429.76 186.25,430.01 185.89,426.78 185.3,428.67 184.76,426.77 184.2,428.98 183.64,427.97 183.09,428.43 182.54,428.76 182.2,428.98 181.69,426.93 181.21,426.86 180.88,427.4 180.56,426.87 179.99,426.72 179.64,427.23 179.2,427.83 178.68,427.99 178.1,425.37 177.56,425.96 176.99,425.93 176.59,428.04 176.02,425.67 175.58,425.21 175.15,424.89 174.68,427.93 174.32,426.78 173.74,427.93 173.42,427.13 172.96,426.52 172.49,426.07 172.12,424.5 171.54,424.92 171.14,426.12 170.74,424.79 170.19,426.77 169.66,424.85 169.26,425.98 168.76,425.53 168.28,424.97 167.71,426.06 167.29,424.87 166.79,424.14 166.43,426.28 166.1,425.28 165.73,425.49 165.28,424.7 164.76,426.04 164.27,424.82 163.91,425.73 163.59,424.14 163.14,424.38 162.65,423.38 162.26,425.43 161.73,426 161.27,425.88 160.92,422.92 160.49,423.47 160.09,423.25 159.7,423.25 159.27,424.99 158.92,425.49 158.4,425.33 157.89,424.49 157.48,423.23 157.16,422.6 156.83,423.1 156.41,424.12 155.91,422.62 155.38,422.42 154.93,424 154.51,424.91 154.09,424.59 153.53,423.96 153.08,422.06 152.68,422.96 152.27,422.38 151.73,421.82 151.27,424.3 150.69,421.65 150.2,422.28 149.63,424.55 149.06,423.91 148.57,423.02 148.03,422.24 147.69,421.11 147.19,421.99 146.68,425.88 146.24,421.2 145.87,421.22 145.35,421.61 144.93,423.22 144.43,420.52 143.95,423.03 143.42,421.33 143.09,421.21 142.67,420.9 142.3,421.32 141.76,422.24 141.3,423.19 140.87,419.97 140.53,421.46 140.02,422.09 139.44,423.42 139.06,420.03 138.54,420.42 138.11,420.73 137.68,420.77 137.19,419.77 136.6,421.28 136.2,421.98 135.86,419.42 135.43,421.85 135.02,421.65 134.64,420.04 134.09,420.25 133.67,421.46 133.19,420.02 132.66,418.74 132.32,422.01 131.98,420.68 131.46,420.62 131.11,420.45 130.79,421.8 130.25,419.06 129.76,419.15 129.35,419.22 128.79,421.55 128.23,421.79 127.85,420.17 127.48,419.46 127.05,419.51 126.73,420.73 126.28,420.01 125.94,420.93 125.4,419.19 124.97,421.07 124.41,420.19 123.83,421.24 123.43,418.84 122.91,421.11 122.4,418.8 121.88,421.3 121.46,419.85 121.01,418.64 120.55,418.29 120.09,418.85 119.54,418.94 119.03,420.76 118.59,418.47 118.08,420.11 117.65,419.77 117.22,420.15 116.85,421.31 116.28,420.87 115.73,420.29 115.18,420.81 114.7,418.74 114.24,419.67 113.67,421.01 113.15,418.38 112.57,420.45 112.18,420.05 111.68,420.7 111.3,418.95 110.9,420.8 110.9,420" fill="#1cf852"/>
<polygon points="189.8,419.8 189.8,419.8 190.37,419.89 190.79,419.96 191.32,420.05 191.71,420.12 192.23,420.2 192.63,420.27 192.97,420.33 193.4,420.4 193.87,420.48 194.27,420.54 194.62,420.6 195.11,420.68 195.67,420.78 196.07,420.85 196.46,420.91 196.81,420.97 197.39,421.06 197.95,421.16 198.46,421.24 198.94,421.32 199.3,421.38 199.88,421.48 200.46,421.58 200.96,421.66 201.47,421.75 202.02,421.84 202.57,421.93 203.11,422.02 203.48,422.08 204.01,422.17 204.45,422.24 204.99,422.34 205.49,422.42 205.81,422.47 206.36,422.56 206.68,422.62 207.07,422.68 207.64,422.78 208.08,422.85 208.63,422.95 209.07,423.02 209.42,423.08 209.96,423.17 210.28,423.22 210.77,423.3 211.22,423.38 211.66,423.45 212.05,423.52 212.6,423.61 213,423.68 213.41,423.74 213.77,423.8 214.18,423.87 214.59,423.94 215.15,424.03 215.66,424.12 216.08,424.19 216.58,424.27 217.04,424.35 217.38,424.41 217.82,424.48 218.24,424.55 218.78,424.64 219.23,424.72 219.64,424.79 220.17,424.88 220.71,424.97 221.24,425.06 221.7,425.13 222.22,425.22 222.6,425.28 223.16,425.38 223.53,425.44 223.94,425.5 224,425.5 224,432.5 223.9,432.5 223.43,432.35 222.9,432.33 222.5,432.29 221.95,432.38 221.43,432.34 221.03,432.19 220.65,432.36 220.24,432.36 219.69,432.36 219.34,432.25 218.89,432.17 218.52,432.08 217.94,432.18 217.5,432.14 217.06,432.35 216.6,432.33 216.24,431.99 215.84,432 215.39,432.02 214.91,432.23 214.48,432.27 213.94,431.9 213.38,431.96 212.92,431.91 212.48,431.82 211.92,431.85 211.56,432.09 211.08,432.11 210.55,431.97 210.09,431.86 209.58,431.87 209.07,431.9 208.5,431.71 208.18,431.7 207.6,431.73 207.14,431.66 206.6,431.87 206.19,431.79 205.79,431.7 205.3,431.83 204.97,431.58 204.64,431.58 204.27,431.54 203.85,431.62 203.44,431.43 202.88,431.64 202.49,431.4 202.04,431.54 201.62,431.71 201.1,431.67 200.72,431.51 200.29,431.4 199.71,431.64 199.17,431.42 198.67,431.39 198.34,431.26 197.86,431.34 197.49,431.34 197.16,431.36 196.59,431.46 196.13,431.33 195.58,431.39 195.26,431.28 194.73,431.18 194.2,431.31 193.76,431.17 193.34,431.09 192.97,431.1 192.46,430.98 191.88,431.09 191.35,431.1 190.94,431 190.61,431.08 190.21,431.05 189.8,431.14 189.8,431" fill="#1cf852"/>
<polygon points="224.2,428.7 224.2,428.7 224.59,428.72 225.04,428.75 225.5,428.77 225.84,428.79 226.29,428.81 226.7,428.84 227.09,428.86 227.62,428.89 228.18,428.92 228.6,428.94 229.01,428.96 229.54,428.99 229.97,429.01 230.3,429.03 230.85,429.06 231.18,429.08 231.66,429.11 232.09,429.13 232.67,429.16 233.03,429.18 233.42,429.2 233.9,429.23 234.24,429.25 234.82,429.28 235.21,429.3 235.76,429.33 236.12,429.35 236.61,429.38 236.99,429.4 237.4,429.42 237.89,429.44 238.47,429.48 238.85,429.5 239.18,429.51 239.74,429.55 240.15,429.57 240.68,429.6 241.08,429.62 241.47,429.64 241.91,429.66 242.41,429.69 242.87,429.72 243.37,429.74 243.91,429.77 244.41,429.8 244.96,429.83 245.52,429.86 245.9,429.88 246.31,429.9 246.78,429.93 247.12,429.95 247.47,429.97 248.02,430 248.1,430 248.1,434 247.97,434.06 247.59,434.17 247.22,433.89 246.84,433.89 246.43,433.84 245.89,433.82 245.56,434.01 245.15,434.12 244.58,433.9 244.14,433.85 243.74,433.83 243.33,433.8 242.96,433.87 242.4,434.16 241.97,434.1 241.51,433.89 241.04,433.89 240.6,434.08 240.28,434.17 239.91,434.15 239.33,433.89 238.97,433.89 238.4,433.93 237.9,433.95 237.45,434.11 237.11,433.84 236.72,433.84 236.3,434.02 235.77,434.18 235.27,433.85 234.72,434.17 234.27,434.09 233.79,434.13 233.37,433.88 233.01,433.89 232.68,433.84 232.12,434.09 231.65,434.19 231.31,434 230.88,434.03 230.45,434.02 229.9,433.88 229.54,433.87 229.1,434.02 228.78,433.81 228.38,433.84 227.83,434.04 227.31,433.96 226.77,434.01 226.33,434.02 225.84,433.93 225.33,433.85 225.01,434.19 224.67,434.08 224.2,433.98 224.2,434" fill="#1cf852"/>
<line x1="183.69" y1="424.37" x2="183.69" y2="429" stroke="#fff" stroke-width="0.6" opacity="0.7"/>
<line x1="184.78" y1="425.15" x2="184.78" y2="429.19" stroke="#fff" stroke-width="0.76" opacity="0.7"/>
<line x1="152.25" y1="422.63" x2="152.25" y2="424.41" stroke="#fff" stroke-width="0.43" opacity="0.7"/>
<line x1="176.7" y1="422.93" x2="176.7" y2="427.79" stroke="#fff" stroke-width="0.57" opacity="0.7"/>
<line x1="180.37" y1="423.75" x2="180.37" y2="428.43" stroke="#fff" stroke-width="0.53" opacity="0.7"/>
<line x1="170.45" y1="422.66" x2="170.45" y2="426.88" stroke="#fff" stroke-width="0.67" opacity="0.7"/>
<line x1="129.82" y1="419.6" x2="129.82" y2="421.28" stroke="#fff" stroke-width="0.53" opacity="0.7"/>
<line x1="132.69" y1="418.08" x2="132.69" y2="421.4" stroke="#fff" stroke-width="0.54" opacity="0.7"/>
<line x1="142.85" y1="420.26" x2="142.85" y2="422.86" stroke="#fff" stroke-width="0.45" opacity="0.7"/>
<line x1="133.53" y1="417.61" x2="133.53" y2="421.44" stroke="#fff" stroke-width="0.51" opacity="0.7"/>
<line x1="180.82" y1="423.95" x2="180.82" y2="428.5" stroke="#fff" stroke-width="0.58" opacity="0.7"/>
<line x1="134.8" y1="417.7" x2="134.8" y2="421.49" stroke="#fff" stroke-width="0.76" opacity="0.7"/>
<line x1="174.89" y1="425.25" x2="174.89" y2="427.49" stroke="#fff" stroke-width="0.49" opacity="0.7"/>
<line x1="115.75" y1="415.9" x2="115.75" y2="420.7" stroke="#fff" stroke-width="0.51" opacity="0.7"/>
<line x1="142.25" y1="418.57" x2="142.25" y2="422.76" stroke="#fff" stroke-width="0.52" opacity="0.7"/>
<line x1="167.59" y1="424.93" x2="167.59" y2="426.49" stroke="#fff" stroke-width="0.56" opacity="0.7"/>
<line x1="114.09" y1="416.26" x2="114.09" y2="420.63" stroke="#fff" stroke-width="0.51" opacity="0.7"/>
<line x1="174.66" y1="423.31" x2="174.66" y2="427.45" stroke="#fff" stroke-width="0.44" opacity="0.7"/>
<line x1="135.08" y1="417.24" x2="135.08" y2="421.51" stroke="#fff" stroke-width="0.67" opacity="0.7"/>
<line x1="144.36" y1="421.16" x2="144.36" y2="423.12" stroke="#fff" stroke-width="0.47" opacity="0.7"/>
<line x1="138.84" y1="418.94" x2="138.84" y2="422.17" stroke="#fff" stroke-width="0.66" opacity="0.7"/>
<line x1="178.91" y1="424.26" x2="178.91" y2="428.17" stroke="#fff" stroke-width="0.62" opacity="0.7"/>
<line x1="152.68" y1="420.82" x2="152.68" y2="424.46" stroke="#fff" stroke-width="0.42" opacity="0.7"/>
<line x1="115.35" y1="417.28" x2="115.35" y2="420.68" stroke="#fff" stroke-width="0.57" opacity="0.7"/>
<line x1="178.68" y1="425.82" x2="178.68" y2="428.14" stroke="#fff" stroke-width="0.54" opacity="0.7"/>
<line x1="131.39" y1="417.56" x2="131.39" y2="421.35" stroke="#fff" stroke-width="0.72" opacity="0.7"/>
<line x1="119.7" y1="418.01" x2="119.7" y2="420.86" stroke="#fff" stroke-width="0.67" opacity="0.7"/>
<line x1="168.88" y1="422.47" x2="168.88" y2="426.67" stroke="#fff" stroke-width="0.47" opacity="0.7"/>
<line x1="167.5" y1="423.4" x2="167.5" y2="426.48" stroke="#fff" stroke-width="0.75" opacity="0.7"/>
<line x1="127.08" y1="416.73" x2="127.08" y2="421.17" stroke="#fff" stroke-width="0.77" opacity="0.7"/>
<line x1="158.81" y1="423.2" x2="158.81" y2="425.3" stroke="#fff" stroke-width="0.54" opacity="0.7"/>
<line x1="140.37" y1="417.85" x2="140.37" y2="422.43" stroke="#fff" stroke-width="0.47" opacity="0.7"/>
<line x1="143.89" y1="420.25" x2="143.89" y2="423.04" stroke="#fff" stroke-width="0.61" opacity="0.7"/>
<line x1="168.08" y1="424.95" x2="168.08" y2="426.56" stroke="#fff" stroke-width="0.49" opacity="0.7"/>
<line x1="118.32" y1="417.58" x2="118.32" y2="420.81" stroke="#fff" stroke-width="0.66" opacity="0.7"/>
<line x1="172.52" y1="423.12" x2="172.52" y2="427.16" stroke="#fff" stroke-width="0.46" opacity="0.7"/>
<line x1="188.42" y1="428.26" x2="188.42" y2="429.81" stroke="#fff" stroke-width="0.48" opacity="0.7"/>
<line x1="160.53" y1="421.77" x2="160.53" y2="425.53" stroke="#fff" stroke-width="0.56" opacity="0.7"/>
<line x1="164.43" y1="422.98" x2="164.43" y2="426.06" stroke="#fff" stroke-width="0.53" opacity="0.7"/>
<line x1="136.15" y1="418.7" x2="136.15" y2="421.7" stroke="#fff" stroke-width="0.44" opacity="0.7"/>
<line x1="166.99" y1="424.32" x2="166.99" y2="426.41" stroke="#fff" stroke-width="0.63" opacity="0.7"/>
<line x1="183.41" y1="424.6" x2="183.41" y2="428.95" stroke="#fff" stroke-width="0.73" opacity="0.7"/>
<line x1="126.28" y1="416.82" x2="126.28" y2="421.14" stroke="#fff" stroke-width="0.41" opacity="0.7"/>
<line x1="129.4" y1="418.8" x2="129.4" y2="421.27" stroke="#fff" stroke-width="0.67" opacity="0.7"/>
<line x1="187.62" y1="427.43" x2="187.62" y2="429.68" stroke="#fff" stroke-width="0.6" opacity="0.7"/>
<line x1="134.1" y1="417.43" x2="134.1" y2="421.46" stroke="#fff" stroke-width="0.4" opacity="0.7"/>
<line x1="181.79" y1="426.12" x2="181.79" y2="428.67" stroke="#fff" stroke-width="0.47" opacity="0.7"/>
<line x1="175.6" y1="423.55" x2="175.6" y2="427.6" stroke="#fff" stroke-width="0.72" opacity="0.7"/>
<line x1="179.66" y1="425.22" x2="179.66" y2="428.3" stroke="#fff" stroke-width="0.57" opacity="0.7"/>
<line x1="173.03" y1="424" x2="173.03" y2="427.23" stroke="#fff" stroke-width="0.5" opacity="0.7"/>
<line x1="159.27" y1="422.33" x2="159.27" y2="425.36" stroke="#fff" stroke-width="0.7" opacity="0.7"/>
<line x1="179.11" y1="423.93" x2="179.11" y2="428.21" stroke="#fff" stroke-width="0.43" opacity="0.7"/>
<line x1="154.53" y1="421.65" x2="154.53" y2="424.72" stroke="#fff" stroke-width="0.42" opacity="0.7"/>
<line x1="134.2" y1="419.94" x2="134.2" y2="421.47" stroke="#fff" stroke-width="0.68" opacity="0.7"/>
<line x1="128.44" y1="419.1" x2="128.44" y2="421.23" stroke="#fff" stroke-width="0.75" opacity="0.7"/>
<polygon points="110.6,431 110.6,431 111.1,431.01 111.59,431.03 111.96,431.05 112.38,431.07 112.83,431.09 113.34,431.12 113.91,431.15 114.41,431.17 114.96,431.2 115.53,431.23 116,431.25 116.37,431.27 116.82,431.3 117.28,431.32 117.86,431.35 118.22,431.37 118.8,431.4 119.23,431.42 119.6,431.44 119.94,431.46 120.51,431.48 120.89,431.5 121.42,431.53 121.99,431.56 122.33,431.58 122.84,431.6 123.16,431.62 123.61,431.64 123.95,431.66 124.36,431.68 124.8,431.7 125.24,431.73 125.57,431.74 125.95,431.76 126.36,431.78 126.78,431.8 127.15,431.82 127.49,431.84 128,431.87 128.4,431.89 128.91,431.91 129.44,431.94 129.8,431.96 130.17,431.98 130.73,432.01 131.28,432.03 131.67,432.05 132.09,432.07 132.47,432.09 132.95,432.12 133.33,432.14 133.83,432.16 134.22,432.18 134.67,432.21 135.07,432.23 135.6,432.25 135.95,432.27 136.46,432.3 137.02,432.33 137.53,432.35 137.92,432.37 138.32,432.39 138.76,432.41 139.1,432.43 139.52,432.45 139.87,432.47 140.23,432.49 140.7,432.51 141.24,432.54 141.77,432.57 142.1,432.58 142.47,432.6 142.99,432.63 143.37,432.65 143.85,432.67 144.42,432.7 144.82,432.72 145.27,432.75 145.8,432.77 146.35,432.8 146.77,432.82 147.18,432.84 147.75,432.87 148.33,432.9 148.86,432.93 149.25,432.95 149.81,432.98 150.21,433 150.56,433.02 151.03,433.04 151.35,433.06 151.83,433.08 152.19,433.1 152.51,433.12 152.84,433.13 153.29,433.15 153.79,433.18 154.24,433.2 154.61,433.22 155.18,433.25 155.56,433.27 156.06,433.3 156.47,433.32 157,433.34 157.48,433.37 157.94,433.39 158.4,433.42 158.72,433.43 159.28,433.46 159.78,433.49 160.35,433.51 160.74,433.53 161.29,433.56 161.65,433.58 162.04,433.6 162.54,433.63 163.08,433.65 163.53,433.68 163.97,433.7 164.29,433.72 164.69,433.74 165.27,433.77 165.61,433.78 166.03,433.8 166.42,433.82 166.8,433.84 167.26,433.87 167.77,433.89 168.27,433.92 168.63,433.94 169.18,433.96 169.7,433.99 170.22,434.02 170.57,434.04 170.94,434.05 171.41,434.08 171.95,434.11 172.43,434.13 172.99,434.16 173.43,434.18 173.9,434.21 174.35,434.23 174.68,434.24 175.01,434.26 175.49,434.29 175.98,434.31 176.37,434.33 176.85,434.36 177.26,434.38 177.75,434.4 178.23,434.43 178.81,434.46 179.39,434.48 179.82,434.51 180.35,434.53 180.75,434.55 181.2,434.58 181.59,434.6 182.16,434.63 182.72,434.65 183.07,434.67 183.48,434.69 183.82,434.71 184.27,434.73 184.73,434.76 185.27,434.78 185.64,434.8 186.11,434.83 186.7,434.86 187.03,434.87 187.53,434.9 187.92,434.92 188.46,434.95 188.85,434.97 189.24,434.99 189.6,435 189.6,439.5 189.22,439.87 188.7,440.26 188.15,439.15 187.75,439.16 187.26,439.17 186.87,439.14 186.39,438.93 185.86,438.78 185.5,439.47 184.95,439.22 184.5,438.52 184.02,438.53 183.67,439.57 183.22,439.5 182.89,439.31 182.43,438.64 182.07,439.43 181.5,438.61 181.17,439.11 180.66,438.64 180.26,439.77 179.84,439.51 179.5,439.66 179.09,439.28 178.58,439.61 178.15,439.03 177.62,439.76 177.13,439.8 176.74,440.15 176.41,439.95 176.05,440.09 175.68,439.52 175.2,438.88 174.66,439.66 174.31,439.46 173.85,439.02 173.44,440.07 172.86,439.71 172.44,440.26 172.12,439.76 171.59,439.54 171.2,438.74 170.71,439.36 170.25,438.83 169.78,439.44 169.22,438.62 168.72,438.77 168.3,439.96 167.82,439.32 167.25,439.56 166.9,440.07 166.42,438.98 165.89,438.62 165.33,440.15 164.84,439.6 164.41,438.66 164.07,440.37 163.69,438.9 163.12,439.04 162.72,439 162.33,439.57 161.87,439.5 161.52,439.76 160.96,440.33 160.52,438.93 159.93,439.93 159.39,440.31 159.05,439.58 158.68,439.58 158.17,438.69 157.75,439.75 157.2,438.69 156.62,440.33 156.09,439.08 155.73,439.35 155.22,438.82 154.69,439.17 154.21,438.84 153.71,440.24 153.31,439.06 152.72,440.11 152.21,438.81 151.63,439.7 151.06,438.87 150.56,439.6 150.1,438.92 149.62,439.12 149.1,440.22 148.55,438.71 148.23,438.66 147.77,439.39 147.33,440.32 146.85,439.73 146.45,439.69 146,439.08 145.44,439.85 144.95,440.38 144.36,440.42 143.92,439.68 143.43,440.19 142.86,438.68 142.49,439.49 142,439.12 141.65,439.65 141.28,439.36 140.72,439.81 140.28,439.74 139.73,439.58 139.33,438.88 138.81,439.28 138.35,440.29 138.02,439.17 137.52,439.36 137.04,439.52 136.69,440.46 136.26,440.33 135.92,439.39 135.56,439.37 134.99,440.34 134.48,439.96 133.92,440.09 133.34,440.01 133.02,440.32 132.66,440.06 132.08,438.97 131.5,439.31 131.05,440.18 130.62,440.47 130.14,439.78 129.6,440.18 129.2,440.46 128.87,440.48 128.44,439 128.02,439.63 127.69,439.98 127.28,440.18 126.95,440.02 126.58,440.15 126.23,440.12 125.66,439.18 125.14,439.47 124.82,438.83 124.46,440.5 124.12,440.37 123.63,439.33 123.13,439.86 122.56,440.48 122.14,439.19 121.7,439.5 121.21,440.27 120.73,440.56 120.29,438.91 119.88,440.42 119.38,440.45 118.82,439.1 118.41,439.51 117.91,440.49 117.35,439.33 116.82,439.32 116.26,440.2 115.93,439.96 115.44,439.18 115,439.21 114.52,439.19 114.16,440.33 113.73,439.41 113.22,439.11 112.87,440.56 112.47,440.21 112.07,440.44 111.57,439.27 111,439.42 110.6,440.18 110.6,439.8" fill="#00f4f4"/>
<polygon points="189.6,432 189.6,432 190.1,432.01 190.48,432.02 190.93,432.03 191.33,432.04 191.7,432.06 192.24,432.07 192.66,432.08 193.02,432.09 193.37,432.1 193.83,432.12 194.41,432.13 194.95,432.15 195.43,432.16 195.92,432.18 196.29,432.19 196.81,432.2 197.32,432.22 197.86,432.24 198.25,432.25 198.8,432.26 199.26,432.28 199.68,432.29 200.01,432.3 200.55,432.31 201.05,432.33 201.55,432.34 201.99,432.36 202.54,432.37 202.88,432.38 203.41,432.4 203.87,432.41 204.37,432.43 204.76,432.44 205.32,432.45 205.78,432.47 206.34,432.48 206.82,432.5 207.17,432.51 207.55,432.52 207.89,432.53 208.35,432.54 208.93,432.56 209.41,432.57 209.83,432.59 210.23,432.6 210.7,432.61 211.07,432.62 211.64,432.64 212.09,432.65 212.61,432.67 213.07,432.68 213.47,432.69 214.01,432.71 214.35,432.72 214.79,432.73 215.12,432.74 215.66,432.76 216.13,432.77 216.54,432.78 217.12,432.8 217.5,432.81 218,432.82 218.36,432.83 218.8,432.85 219.27,432.86 219.72,432.87 220.06,432.88 220.57,432.9 220.91,432.91 221.34,432.92 221.79,432.94 222.19,432.95 222.62,432.96 223.07,432.97 223.58,432.99 224.08,433 224.1,433 224.1,439.5 223.79,439.79 223.44,438.73 222.99,438.74 222.42,439.06 221.93,438.65 221.4,438.8 221.01,440.19 220.44,438.64 219.94,439.61 219.48,439.51 219.13,438.75 218.74,439.45 218.38,440.03 217.95,439.51 217.59,439.34 217.22,439 216.73,439.37 216.28,438.8 215.81,439.01 215.48,439.26 214.92,439.05 214.55,439.47 213.99,439.53 213.65,439.6 213.16,439.32 212.79,440.25 212.24,440.11 211.77,440.2 211.24,439.52 210.84,440.04 210.32,438.93 209.76,439.14 209.23,438.7 208.73,439.05 208.41,439.99 207.97,439.21 207.55,439.36 207.04,440.13 206.56,439.74 206.11,438.92 205.56,438.98 205.02,438.62 204.57,439.05 203.99,440.22 203.62,439.1 203.2,439.53 202.82,439.6 202.34,439.82 201.78,439.78 201.29,439.14 200.94,439.63 200.43,439.63 199.96,439.12 199.55,439.51 199.1,439.18 198.7,439.43 198.31,438.92 197.98,439.56 197.52,439.66 197.14,439.67 196.73,440.12 196.17,440.21 195.77,438.63 195.3,439.7 194.76,438.87 194.41,438.54 194.09,438.82 193.68,439.24 193.24,438.92 192.84,440 192.4,440.12 192.08,439.99 191.66,440.23 191.34,438.97 190.92,439.06 190.37,439.61 190.02,440.26 189.6,439.85 189.6,439.5" fill="#00f4f4"/>
<polygon points="224.1,433 224.1,433 224.68,433 225.08,433 225.46,433 225.78,433 226.32,433 226.81,433 227.2,433 227.76,433 228.27,433 228.79,433 229.16,433 229.6,433 230.05,433 230.45,433 230.78,433 231.12,433 231.67,433 232.13,433 232.47,433 233.03,433 233.59,433 234.09,433 234.46,433 234.85,433 235.2,433 235.59,433 236.14,433 236.61,433 237.14,433 237.69,433 238.27,433 238.81,433 239.36,433 239.7,433 240.12,433 240.67,433 241.04,433 241.52,433 241.97,433 242.34,433 242.75,433 243.15,433 243.73,433 244.18,433 244.6,433 245.17,433 245.53,433 246.08,433 246.65,433 247.22,433 247.71,433 248.1,433 248.1,441.5 247.81,441.76 247.28,441.72 246.78,441.1 246.41,441.44 245.99,440.62 245.41,441.16 245.04,440.81 244.72,441.98 244.2,440.53 243.85,441.09 243.52,440.67 242.94,441.45 242.5,441.48 242.06,441.39 241.71,441.55 241.27,441.68 240.92,441.05 240.35,441.12 239.99,441.25 239.51,440.95 238.99,441.81 238.54,441.96 238.13,442.08 237.66,441.46 237.19,442.07 236.68,441.8 236.29,441.1 235.84,440.9 235.48,441.03 235.09,440.8 234.51,441.54 233.98,441.28 233.51,440.92 233.18,440.72 232.77,441.2 232.43,441.76 232.07,440.91 231.56,441.69 231.02,441.08 230.68,440.9 230.23,441.36 229.9,441.34 229.51,440.51 229.17,440.69 228.8,441.12 228.29,441.6 227.73,441.9 227.37,440.7 227.03,440.53 226.52,440.43 226.09,440.55 225.51,441.85 224.95,440.42 224.46,440.35 224.1,442 224.1,441.3" fill="#00f4f4"/>
<polygon points="34.5,430.5 34.5,430.23 34.78,430.51 35.26,430.46 35.68,430.23 35.97,430.21 36.28,430.07 36.74,430.18 37.24,430.28 37.69,430.26 38.01,430.1 38.44,429.92 38.75,429.85 39.24,429.91 39.75,429.87 40.04,429.6 40.53,429.73 40.92,429.51 41.3,429.41 41.66,429.42 42.08,429.17 42.41,429.41 42.82,429.26 43.23,429.12 43.75,429.02 44.16,428.96 44.58,428.9 44.96,428.69 45.32,428.89 45.75,429.02 46.04,428.71 46.38,428.74 46.88,428.95 47.33,428.89 47.73,428.64 48.05,428.66 48.39,428.51 48.72,428.44 49.1,428.61 49.5,428.48 49.85,428.27 50.25,428.11 50.63,427.91 50.95,428.07 51.39,428.18 51.84,427.84 52.18,428.32 52.49,427.84 52.9,427.97 53.39,428.17 53.81,427.88 54.2,428.17 54.5,427.84 54.97,427.92 55.27,427.97 55.77,427.89 56.09,427.95 56.41,427.4 56.86,427.76 57.32,427.62 57.62,427.3 58.06,427.7 58.42,427.67 58.79,427.45 59.24,427.55 59.67,427.18 60.12,427.53 60.58,427.4 61,427.13 61.52,427.52 61.86,427.3 62.32,427.15 62.67,427.05 62.99,427.29 63.39,427.37 63.72,427.33 64.16,427.03 64.46,426.72 64.86,426.72 65.3,426.75 65.8,426.95 66.09,427.05 66.53,426.63 66.9,426.87 67.4,426.66 67.87,426.94 68.38,426.72 68.86,426.38 69.31,426.84 69.67,426.82 70.04,426.81 70.39,426.63 70.82,426.36 71.12,426.49 71.51,426.66 72.02,426.82 72.33,426.68 72.64,426.28 72.94,426.78 73.39,426.54 73.81,426.59 74.11,426.5 74.61,426.22 75.06,426.23 75.47,426.28 75.77,426.21 76.15,426.75 76.47,426.42 76.82,426.37 77.15,426.38 77.67,426.21 78.15,426.59 78.54,426.52 78.95,426.69 79.24,426.54 79.72,426.47 80.23,426.1 80.66,426.5 80.96,426.37 81.43,426.44 81.8,426.52 82.3,426.15 82.64,426.5 83.11,426.26 83.62,426.57 84.05,426.2 84.35,425.98 84.72,426.22 85.02,426.09 85.51,426.39 85.88,426 86.38,426.46 86.84,426.32 87.29,426.06 87.7,425.89 88.06,425.99 88.36,426.31 88.75,426.05 89.22,426.24 89.66,426.39 89.98,426.11 90.28,426.27 90.74,425.84 91.1,425.85 91.58,426.16 91.92,426.21 92.42,426.3 92.8,425.78 93.16,425.92 93.61,425.95 94.1,426.15 94.59,426.76 95,426.41 95.47,427.12 95.78,427.19 96.09,427.04 96.43,426.93 96.87,427.42 97.27,427.38 97.61,426.88 97.96,427.29 98.32,427 98.81,427.14 99.18,427.29 99.5,426.88 99.93,427.04 100.37,427.22 100.81,426.83 101.27,426.85 101.57,426.88 101.94,426.99 102.25,427.06 102.62,427.27 103.02,427.16 103.49,427.01 103.93,426.69 104.43,427.21 104.93,426.66 105.26,426.79 105.58,426.75 105.89,426.94 106.38,426.77 106.86,427.08 107.27,427.07 107.62,426.91 108.05,426.53 108.57,426.67 108.97,426.98 109.37,426.57 109.88,427 110.28,426.66 110.56,426.65 111.08,426.9 111.2,426.8 111.2,431.5 110.8,432.67 110.3,431.68 109.89,432.81 109.56,436.04 109.2,432.74 108.89,433.77 108.44,432.75 108.06,432.46 107.76,433.78 107.4,433.5 106.99,431.77 106.71,432.44 106.29,432.72 105.79,433.94 105.49,432.84 105.14,430.8 104.62,431.87 104.18,431.91 103.67,430.88 103.27,431.95 102.8,430.52 102.46,432.25 101.97,431.1 101.5,433.1 101.06,431.69 100.7,432.14 100.34,431.13 99.87,431.91 99.44,431.99 99.15,430.57 98.85,431.81 98.38,432.94 98.03,430.49 97.51,431.43 97.23,431.6 96.81,431.14 96.47,431.8 95.97,430.85 95.51,432.09 95.02,432.2 94.7,431.25 94.18,432.4 93.67,429.71 93.15,432.41 92.78,431.51 92.42,430.41 92.14,430.69 91.76,431.47 91.25,433.33 90.94,431.26 90.59,430.53 90.12,431.38 89.63,431.27 89.18,431.28 88.88,431.51 88.55,432.67 88.1,431.43 87.77,432.09 87.42,430.89 87.13,432.06 86.68,430.83 86.22,430.21 85.88,430.24 85.36,430.46 84.86,431.87 84.35,431.04 83.93,431.11 83.43,431.26 83.02,432.48 82.53,430.29 82.18,430.81 81.68,430.43 81.18,430.98 80.75,432.55 80.42,430.52 80.07,433.23 79.63,433.35 79.24,431.93 78.89,430.35 78.44,432.91 77.92,430.61 77.5,431.13 77.2,430.79 76.78,431.54 76.45,433.03 75.97,433.05 75.56,431.25 75.13,430.56 74.81,432.49 74.37,432.52 73.99,432.69 73.68,433.03 73.37,431.54 73,432.2 72.59,431.77 72.18,434.21 71.79,431.23 71.45,430.52 71.03,431.35 70.67,432.9 70.29,430.85 69.8,432.85 69.47,433.06 69.14,432 68.83,432.1 68.36,432.76 68.05,432.65 67.65,432.4 67.3,436.61 66.93,433.39 66.45,433.3 66,432.52 65.63,431.84 65.31,431.87 64.82,433.09 64.31,432.68 63.97,431.81 63.56,432.05 63.26,430.92 62.9,430.93 62.51,432.85 62,435.03 61.63,433.09 61.17,431.41 60.78,435.87 60.36,433.01 59.85,433.24 59.46,431.77 58.99,435.45 58.62,431.46 58.34,432.99 58.06,433.9 57.78,431.86 57.49,433.51 57.21,433.81 56.79,432.48 56.44,433.84 56.07,432.79 55.65,432.12 55.35,432.53 55.03,432.22 54.74,434.17 54.37,432.42 54.06,433.53 53.6,433.14 53.12,433.07 52.72,432.54 52.22,433.61 51.86,433.88 51.42,434.15 51.13,432.82 50.66,433.83 50.36,431.97 50.07,432.09 49.61,432.16 49.32,435.98 48.94,431.76 48.43,432.68 47.94,432.63 47.61,433.36 47.12,433.32 46.67,432.73 46.38,433.78 46.07,434.66 45.69,432.92 45.28,433.02 44.88,433.92 44.53,432.67 44.24,434.29 43.87,431.97 43.47,432.18 43,436.24 42.57,434.71 42.21,432.92 41.86,434.65 41.51,433.78 41,434.53 40.48,434.33 40.2,434.48 39.86,434.98 39.53,434.22 39.08,432.78 38.76,433.25 38.42,434.59 38.03,434.52 37.73,433.09 37.26,433.75 36.93,434.26 36.41,433.95 35.99,434.85 35.52,432.72 35.01,432.55 34.5,436.11 34.5,432.8" fill="#0c58ee"/>
<polygon points="111,427 111,426.43 111.5,427.47 111.81,426.37 112.25,426.56 112.55,426.44 112.84,427.56 113.16,426.3 113.5,426.25 113.97,427.45 114.38,427.81 114.88,427.19 115.2,427.47 115.48,427.81 115.95,427.39 116.26,427.61 116.73,427.85 117.11,426.95 117.6,427.05 118.04,427.6 118.37,427.31 118.85,428 119.19,426.98 119.58,426.72 119.86,427.53 120.32,427.16 120.63,427.15 120.94,427.51 121.23,426.97 121.53,427.34 122.03,427.65 122.34,426.79 122.78,426.73 123.2,426.67 123.5,428.03 123.88,427.15 124.17,427.82 124.58,427.81 124.89,427.29 125.24,426.71 125.63,427.55 126.03,427.88 126.42,427.5 126.74,427.4 127.08,427.46 127.51,427.56 127.85,428.01 128.16,428.15 128.65,427.16 128.97,427.74 129.26,427.68 129.66,428.14 129.99,428.09 130.28,427.73 130.67,427.52 131.06,427.47 131.51,428.02 131.79,427.65 132.14,428.03 132.62,428.25 133.12,428.5 133.53,427.07 133.98,428.47 134.48,427.77 134.79,427.88 135.11,427.58 135.43,428.49 135.94,428.51 136.36,428.64 136.86,427.95 137.23,427.78 137.56,428.64 137.92,428.02 138.4,428.37 138.69,428.44 138.99,428.27 139.33,428.75 139.75,428.27 140.21,429.03 140.59,428.74 140.91,429.17 141.21,428.72 141.58,427.87 141.89,428.38 142.21,428.61 142.72,429.04 143.22,428.59 143.54,427.96 143.96,428.59 144.4,428.47 144.75,429.03 145.24,428.78 145.71,428.14 146.11,429.53 146.4,429.41 146.78,428.34 147.22,429.8 147.58,428.49 147.99,428.41 148.51,429.37 148.9,428.52 149.27,428.43 149.58,429.23 149.93,429.26 150.38,428.6 150.88,429.58 151.29,428.67 151.8,429.26 152.14,429.81 152.54,429.05 152.84,430.15 153.32,430.34 153.76,429.52 154.26,428.98 154.65,430.29 155.06,430.21 155.52,429.45 156.03,429.07 156.5,429.08 156.81,429.14 157.13,430.01 157.51,430.06 158.01,429.72 158.3,430.65 158.82,430.8 159.32,430.17 159.62,430.81 160.13,429.95 160.45,429.48 160.83,429.8 161.19,430.01 161.66,430.16 161.98,430.48 162.38,429.69 162.77,430.07 163.12,431.07 163.63,430.46 164.13,430.39 164.62,430.57 164.97,430.29 165.47,431.22 165.97,431.35 166.31,429.95 166.75,430.88 167.11,430.37 167.57,431.25 167.88,430.56 168.24,430.52 168.7,430.14 169.06,431.41 169.36,430.86 169.87,431.77 170.32,431.5 170.75,430.94 171.04,431.09 171.32,430.48 171.72,431.8 172.1,431.22 172.41,431.41 172.91,432.05 173.2,430.88 173.59,431.29 174.09,431.73 174.52,430.89 174.96,431.45 175.4,430.69 175.77,431.24 176.15,431.56 176.62,431.63 176.95,431.59 177.37,430.93 177.79,431.79 178.22,432.01 178.68,431.11 179.04,431.43 179.47,432.46 179.84,432.32 180.12,431.5 180.53,432.56 180.99,432.6 181.5,431.64 182.01,431.51 182.42,431.62 182.73,431.83 183.18,432.46 183.5,431.94 184.01,432.38 184.48,433.07 184.79,431.58 185.27,432.84 185.63,432.86 186.07,432.14 186.52,432.9 186.92,432.54 187.25,431.83 187.54,433 188.06,433.07 188.55,432.56 188.86,433.31 189.27,432.82 189.72,430.38 190.22,430.22 190.65,429.89 191.07,430.89 191.39,429.73 191.83,430.54 192.23,430.63 192.64,429.77 192.99,429.96 193.36,429.72 193.86,430.05 194.19,429.71 194.58,429.65 194.97,429.78 195.36,429.79 195.7,431.13 195.99,430.42 196.47,430.85 196.78,430.14 197.2,430.84 197.7,430.56 198.01,429.76 198.43,431.13 198.77,430.86 199.23,429.77 199.56,430.57 199.89,429.97 200.33,430.06 200.75,431.44 201.04,430.26 201.35,430.64 201.81,431.11 202.17,430.43 202.58,430.8 202.88,431.41 203.35,431.16 203.65,430.88 203.97,431.49 204.29,430.18 204.69,430.83 205.08,431.23 205.49,430.76 205.98,430.44 206.39,430.24 206.86,430.47 207.28,431.29 207.58,430.33 207.98,431.18 208.3,430.77 208.81,431.28 209.13,431.24 209.47,430.33 209.76,431.58 210.27,430.7 210.72,431.57 211.04,431.9 211.54,430.46 211.87,431.56 212.25,430.63 212.53,431.86 213.04,431.18 213.5,431.55 214.02,430.98 214.41,431.5 214.92,432.02 215.38,431.43 215.74,432.16 216.2,432.16 216.55,431.38 216.94,431.33 217.43,431.46 217.89,431.51 218.39,432.06 218.74,432.34 219.22,432.04 219.67,431.49 219.98,430.96 220.35,431.83 220.84,431.45 221.29,431.82 221.78,432.36 222.06,432.09 222.41,432.43 222.71,431.54 223,431.94 223.29,431.1 223.71,431.24 223.99,433.23 224.47,434.5 224.96,434.64 225.45,433.87 225.74,434.79 226.09,434.61 226.55,434.52 226.9,435.22 227.27,434.42 227.67,433.76 228.08,434.68 228.4,434.82 228.79,435.21 229.16,433.84 229.66,434.15 230.17,434.76 230.54,434.5 231.01,435.1 231.32,434.17 231.62,434.52 231.97,434.15 232.41,435.25 232.74,434.54 233.12,434.61 233.48,433.99 233.83,435.17 234.23,435.22 234.51,434 235.01,433.88 235.43,433.98 235.75,434.46 236.23,434.6 236.52,434.04 237.04,434.96 237.44,434.22 237.8,433.76 238.13,435.06 238.5,435.06 239.01,434.79 239.36,434.4 239.67,434.07 240.03,433.76 240.52,434.5 240.88,434.7 241.27,434.21 241.64,434.41 242,434.29 242.39,435.08 242.86,435.08 243.25,435.22 243.55,435.05 243.99,433.74 244.47,434.23 244.9,433.79 245.33,434.75 245.7,434.23 246.17,435.16 246.45,434.18 246.86,434.21 247.21,434.6 247.7,434.99 248.07,435.1 248.1,434.6 248.1,437 247.87,437.63 247.36,437.58 246.99,436.12 246.69,438.48 246.28,437.67 245.9,438.14 245.48,437.48 245.1,437.29 244.62,438.57 244.24,437.38 243.83,437.18 243.49,438.71 243.16,436.11 242.82,436.52 242.46,437.65 241.99,437.67 241.48,438.63 241.05,437.18 240.58,438.36 240.17,436.83 239.87,437.81 239.56,436.67 239.14,437.67 238.76,438.01 238.43,436.72 238.05,437.3 237.54,436.96 237.12,437.73 236.7,436.93 236.26,438.34 235.84,436.5 235.41,436.87 235.04,438.52 234.72,438.55 234.24,438.49 233.79,437.36 233.3,436.83 232.9,436.11 232.52,436.6 232.12,436.21 231.67,436.52 231.2,438.64 230.8,436.37 230.3,436.97 229.98,436.19 229.55,436.43 229.19,438.6 228.81,436.47 228.36,436.35 227.95,438.1 227.48,438.33 227,437.48 226.53,437.19 226.15,436.89 225.86,436.2 225.51,438.48 225.04,437.68 224.58,438.29 224.21,436.22 223.84,433.83 223.55,434.47 223.04,433.86 222.54,434.93 222.15,434.19 221.69,434.18 221.39,434.44 220.9,433.05 220.56,435.23 220.09,433 219.7,434.76 219.4,435.21 218.92,433.33 218.52,433.29 218.22,432.77 217.93,434.65 217.47,433.1 217.14,434.41 216.75,434.71 216.24,433.94 215.86,432.5 215.57,433.21 215.05,433.44 214.76,434.62 214.32,433.68 213.89,434.34 213.38,434.34 212.93,434.31 212.41,434.4 212.05,432.69 211.56,433.94 211.09,432.74 210.79,433.33 210.39,434.08 209.96,433.16 209.54,432.24 209.12,433.41 208.64,432.55 208.19,432.98 207.9,432.6 207.61,432.88 207.26,433.59 206.98,434 206.61,434.13 206.14,432.25 205.64,433.83 205.33,432.75 204.86,432.98 204.41,433.07 203.91,432.51 203.52,432.92 203.04,434 202.63,432.7 202.18,432 201.74,432.29 201.38,434.26 200.97,433.02 200.6,433.32 200.18,432.07 199.87,436.01 199.58,432.16 199.18,432.5 198.73,433.51 198.24,435.21 197.78,434.21 197.32,432.03 196.93,432.51 196.53,432.61 196.02,433.59 195.52,432.22 195.02,434.29 194.73,433.5 194.44,431.89 194.15,433.71 193.66,432.48 193.22,432.82 192.91,432.02 192.48,432.18 192.09,433.85 191.61,432.57 191.11,434.01 190.69,431.58 190.28,432.85 189.91,432.94 189.56,434.71 189.09,437.06 188.79,436.71 188.32,437.42 188.03,437.19 187.74,437.29 187.22,436.4 186.76,435.18 186.26,437.03 185.79,436.12 185.41,435.8 185.09,437.3 184.8,436.95 184.34,436.68 183.83,435.74 183.51,436.42 183.13,435.06 182.71,438.34 182.38,434.9 182.02,434.95 181.65,436.11 181.2,436.21 180.69,435.49 180.3,437.07 179.9,435.92 179.49,434.75 178.99,436.59 178.6,435.96 178.27,436.33 177.87,436.88 177.44,434.98 177,435.69 176.71,435.01 176.41,435.17 175.96,435.14 175.51,434.71 175.2,437.43 174.69,434.27 174.39,436.24 173.92,435.78 173.49,436.59 173.18,434 172.8,435.54 172.36,434.08 172.03,434.04 171.6,436.29 171.31,433.84 170.88,436.07 170.39,435.58 170.01,436.37 169.7,435.66 169.37,435.28 169.05,434.39 168.62,435.68 168.13,435.28 167.83,435.11 167.4,435.6 167.01,435.87 166.65,433.91 166.35,434.08 166.04,435.95 165.68,434.5 165.4,434.78 165.04,434.42 164.67,434.46 164.29,434.36 163.89,435.43 163.54,433.59 163.18,435.77 162.84,435.19 162.53,433.44 162.23,435.64 161.83,434.4 161.5,433.16 161,433.65 160.6,433.8 160.28,434.83 159.92,434.9 159.42,434.08 159.12,433.52 158.64,434.14 158.13,434.9 157.72,434.14 157.26,434.84 156.76,433.4 156.35,433.18 155.88,434.54 155.41,432.69 154.98,434.52 154.64,434.98 154.34,434.52 153.85,434.31 153.37,433.84 153.01,433.61 152.55,433.48 152.11,433.38 151.65,432.29 151.28,434.9 150.85,433.87 150.43,435.23 150.03,432.7 149.67,434.84 149.3,433.75 148.95,434.55 148.57,433.54 148.13,432.72 147.7,433.15 147.27,433.27 146.84,434.66 146.47,432.29 146.01,433.17 145.68,432.08 145.25,433.83 144.9,432.81 144.5,434.08 144.07,433.71 143.56,434.47 143.26,432.6 142.83,434.02 142.42,434.05 142.1,433.14 141.73,432.78 141.3,433.23 140.83,432.44 140.49,432.13 140.19,433.12 139.75,434.17 139.43,432.86 139.09,434.28 138.76,432.38 138.38,433.21 137.93,431.87 137.43,432.67 137.14,433.63 136.76,432.64 136.33,433.1 135.84,433.29 135.45,431.69 135.01,431.67 134.68,433.89 134.25,431.91 133.77,431.64 133.27,433.87 132.96,431.62 132.52,431.94 132.01,432.73 131.7,432.13 131.32,433.01 130.8,432.15 130.38,432.16 129.93,433.66 129.58,431.7 129.22,433.27 128.76,433.25 128.33,432.4 127.97,433.73 127.59,433.74 127.29,432.26 126.86,433.69 126.57,433.33 126.09,432.96 125.67,432.89 125.29,431.99 124.95,433.4 124.66,432.2 124.38,432.43 124.06,431.38 123.72,433.2 123.44,432.19 123.03,431.37 122.56,431.35 122.15,432.17 121.69,433.58 121.32,432.44 121.02,433.18 120.64,433.03 120.31,433.25 119.89,431.62 119.42,431.94 119.09,431.85 118.59,432.78 118.19,431.54 117.78,432.47 117.4,432.57 116.88,431.64 116.47,433.13 116.16,432.95 115.84,430.97 115.54,432.23 115.06,434.57 114.62,431.59 114.3,431.15 113.89,433.23 113.38,432.57 112.88,431.45 112.41,433.44 112.03,432.94 111.51,430.98 111,431.09 111,431.6" fill="#0c5cf2"/>
<polyline points="111,402.7 119,405.6 128.2,408.6 140.9,412.8 150,416 160,418.2 175,421.8 189.5,424.9 189.8,419.8 200,421.5 223.9,425.5 224.2,428.7 248.1,430" fill="none" stroke="#ffa030" stroke-width="0.9"/>
<line x1="53.44" y1="441" x2="53.44" y2="444.16" stroke="#00f4f4" stroke-width="0.3" opacity="0.6"/>
<line x1="88.07" y1="441" x2="88.07" y2="443.27" stroke="#00f4f4" stroke-width="0.59" opacity="0.6"/>
<line x1="73.59" y1="441" x2="73.59" y2="445.37" stroke="#00f4f4" stroke-width="0.38" opacity="0.6"/>
<line x1="105.46" y1="441" x2="105.46" y2="445.92" stroke="#00f4f4" stroke-width="0.46" opacity="0.6"/>
<line x1="78.33" y1="441" x2="78.33" y2="442.02" stroke="#00f4f4" stroke-width="0.52" opacity="0.6"/>
<line x1="66.58" y1="441" x2="66.58" y2="445.11" stroke="#00f4f4" stroke-width="0.6" opacity="0.6"/>
<line x1="87.86" y1="441" x2="87.86" y2="445.95" stroke="#00f4f4" stroke-width="0.31" opacity="0.6"/>
<line x1="60.56" y1="441" x2="60.56" y2="444.45" stroke="#00f4f4" stroke-width="0.66" opacity="0.6"/>
<line x1="58.92" y1="441" x2="58.92" y2="445.11" stroke="#00f4f4" stroke-width="0.63" opacity="0.6"/>
<line x1="71.66" y1="441" x2="71.66" y2="444.79" stroke="#00f4f4" stroke-width="0.6" opacity="0.6"/>
<line x1="84.86" y1="441" x2="84.86" y2="445.37" stroke="#00f4f4" stroke-width="0.32" opacity="0.6"/>
<line x1="97.38" y1="441" x2="97.38" y2="442.21" stroke="#00f4f4" stroke-width="0.54" opacity="0.6"/>
<line x1="61.94" y1="441" x2="61.94" y2="444.11" stroke="#00f4f4" stroke-width="0.64" opacity="0.6"/>
<line x1="56.46" y1="441" x2="56.46" y2="444.01" stroke="#00f4f4" stroke-width="0.6" opacity="0.6"/>
<line x1="75.15" y1="441" x2="75.15" y2="444.23" stroke="#00f4f4" stroke-width="0.55" opacity="0.6"/>
<line x1="108.13" y1="441" x2="108.13" y2="442.33" stroke="#00f4f4" stroke-width="0.47" opacity="0.6"/>
<line x1="96.07" y1="441" x2="96.07" y2="442.16" stroke="#00f4f4" stroke-width="0.61" opacity="0.6"/>
<line x1="61.74" y1="441" x2="61.74" y2="442.71" stroke="#00f4f4" stroke-width="0.6" opacity="0.6"/>
<line x1="86.44" y1="441" x2="86.44" y2="444.93" stroke="#00f4f4" stroke-width="0.6" opacity="0.6"/>
<line x1="91.14" y1="441" x2="91.14" y2="445.97" stroke="#00f4f4" stroke-width="0.64" opacity="0.6"/>
<line x1="39.94" y1="441" x2="39.94" y2="442.34" stroke="#00f4f4" stroke-width="0.56" opacity="0.6"/>
<line x1="60.09" y1="441" x2="60.09" y2="443.34" stroke="#00f4f4" stroke-width="0.66" opacity="0.6"/>
<polyline points="34.5,446.4 189.5,446.4 189.8,444 224,444 224.2,444.4 248.1,444.4" fill="none" stroke="#dcff40" stroke-width="0.9"/>
<polyline points="34.5,448.65 189.5,448.55 189.8,446.95 248.1,446.95" fill="none" stroke="#b050ff" stroke-width="0.6"/>
<polyline points="34.5,449 189.5,448.9 189.8,447.3 248.1,447.3" fill="none" stroke="#5a3cff" stroke-width="0.75"/>
<polyline points="34.5,449.7 248.1,449.6" fill="none" stroke="#ff40b0" stroke-width="0.6"/>
<polyline points="34.5,450.1 248.1,450" fill="none" stroke="#ff1838" stroke-width="0.85"/>
<rect x="34.4" y="350.3" width="218.25" height="106" fill="none" stroke="#a4a4a4" stroke-width="1"/>
<text transform="translate(34.4,468.2) scale(0.945,1)" font-size="8.4" text-anchor="middle">0</text>
<line x1="70.78" y1="456.3" x2="70.78" y2="454.1" stroke="#a4a4a4" stroke-width="0.9"/>
<line x1="70.78" y1="350.3" x2="70.78" y2="352.5" stroke="#a4a4a4" stroke-width="0.9"/>
<text transform="translate(70.78,468.2) scale(0.945,1)" font-size="8.4" text-anchor="middle">1000</text>
<line x1="107.16" y1="456.3" x2="107.16" y2="454.1" stroke="#a4a4a4" stroke-width="0.9"/>
<line x1="107.16" y1="350.3" x2="107.16" y2="352.5" stroke="#a4a4a4" stroke-width="0.9"/>
<text transform="translate(107.16,468.2) scale(0.945,1)" font-size="8.4" text-anchor="middle">2000</text>
<line x1="143.54" y1="456.3" x2="143.54" y2="454.1" stroke="#a4a4a4" stroke-width="0.9"/>
<line x1="143.54" y1="350.3" x2="143.54" y2="352.5" stroke="#a4a4a4" stroke-width="0.9"/>
<text transform="translate(143.54,468.2) scale(0.945,1)" font-size="8.4" text-anchor="middle">3000</text>
<line x1="179.92" y1="456.3" x2="179.92" y2="454.1" stroke="#a4a4a4" stroke-width="0.9"/>
<line x1="179.92" y1="350.3" x2="179.92" y2="352.5" stroke="#a4a4a4" stroke-width="0.9"/>
<text transform="translate(179.92,468.2) scale(0.945,1)" font-size="8.4" text-anchor="middle">4000</text>
<line x1="216.3" y1="456.3" x2="216.3" y2="454.1" stroke="#a4a4a4" stroke-width="0.9"/>
<line x1="216.3" y1="350.3" x2="216.3" y2="352.5" stroke="#a4a4a4" stroke-width="0.9"/>
<text transform="translate(216.3,468.2) scale(0.945,1)" font-size="8.4" text-anchor="middle">5000</text>
<text transform="translate(252.68,468.2) scale(0.945,1)" font-size="8.4" text-anchor="middle">6000</text>
<text transform="translate(30.6,353.4) scale(0.945,1)" font-size="8.4" text-anchor="end">20</text>
<line x1="34.4" y1="376.8" x2="36.6" y2="376.8" stroke="#a4a4a4" stroke-width="0.9"/>
<line x1="252.65" y1="376.8" x2="250.45" y2="376.8" stroke="#a4a4a4" stroke-width="0.9"/>
<text transform="translate(30.6,379.9) scale(0.945,1)" font-size="8.4" text-anchor="end">15</text>
<line x1="34.4" y1="403.3" x2="36.6" y2="403.3" stroke="#a4a4a4" stroke-width="0.9"/>
<line x1="252.65" y1="403.3" x2="250.45" y2="403.3" stroke="#a4a4a4" stroke-width="0.9"/>
<text transform="translate(30.6,406.4) scale(0.945,1)" font-size="8.4" text-anchor="end">10</text>
<line x1="34.4" y1="429.8" x2="36.6" y2="429.8" stroke="#a4a4a4" stroke-width="0.9"/>
<line x1="252.65" y1="429.8" x2="250.45" y2="429.8" stroke="#a4a4a4" stroke-width="0.9"/>
<text transform="translate(30.6,432.9) scale(0.945,1)" font-size="8.4" text-anchor="end">5</text>
<text transform="translate(30.6,459.4) scale(0.945,1)" font-size="8.4" text-anchor="end">0</text>
<text transform="translate(143.53,479.6) scale(0.940,1)" font-size="9.6" text-anchor="middle">epoch</text>
<text transform="translate(14.5,403.3) rotate(-90) scale(0.93,1)" font-size="9.7" text-anchor="middle">PDOP</text>
<text class="cap" x="136.3" y="507.2" font-size="13.1" text-anchor="middle">(<tspan>e</tspan>)</text>
<rect x="298.4" y="348.75" width="123.0" height="99.5" fill="#fff" stroke="#a4a4a4" stroke-width="1"/>
<line x1="300.3" y1="354.45" x2="321.4" y2="354.45" stroke="#ffb050" stroke-width="1"/>
<text transform="translate(323.7,357.5) scale(0.905,1)" font-size="8.4" text-anchor="start">GNSS RTK</text>
<line x1="300.3" y1="364.28" x2="321.4" y2="364.28" stroke="#e0ff50" stroke-width="1"/>
<text transform="translate(323.7,367.33) scale(0.905,1)" font-size="8.4" text-anchor="start">GNSS RTK/DBA</text>
<line x1="300.3" y1="374.11" x2="321.4" y2="374.11" stroke="#70ff50" stroke-width="1"/>
<text transform="translate(323.7,377.16) scale(0.905,1)" font-size="8.4" text-anchor="start">GNSS RTK/UWB-2BS</text>
<line x1="300.3" y1="383.94" x2="321.4" y2="383.94" stroke="#50ff90" stroke-width="1"/>
<text transform="translate(323.7,386.99) scale(0.905,1)" font-size="8.4" text-anchor="start">GNSS RTK/UWB-3BS</text>
<line x1="300.3" y1="393.77" x2="321.4" y2="393.77" stroke="#50f8ff" stroke-width="1"/>
<text transform="translate(323.7,396.82) scale(0.905,1)" font-size="8.4" text-anchor="start">GNSS RTK/UWB-4BS</text>
<line x1="300.3" y1="403.6" x2="321.4" y2="403.6" stroke="#5098ff" stroke-width="1"/>
<text transform="translate(323.7,406.65) scale(0.905,1)" font-size="8.4" text-anchor="start">GNSS RTK/UWB-5BS</text>
<line x1="300.3" y1="413.43" x2="321.4" y2="413.43" stroke="#6a50ff" stroke-width="1"/>
<text transform="translate(323.7,416.48) scale(0.905,1)" font-size="8.4" text-anchor="start">GNSS RTK/UWB-2BS/DBA</text>
<line x1="300.3" y1="423.26" x2="321.4" y2="423.26" stroke="#d860ff" stroke-width="1"/>
<text transform="translate(323.7,426.31) scale(0.905,1)" font-size="8.4" text-anchor="start">GNSS RTK/UWB-3BS/DBA</text>
<line x1="300.3" y1="433.09" x2="321.4" y2="433.09" stroke="#ff60c0" stroke-width="1"/>
<text transform="translate(323.7,436.14) scale(0.905,1)" font-size="8.4" text-anchor="start">GNSS RTK/UWB-4BS/DBA</text>
<line x1="300.3" y1="442.92" x2="321.4" y2="442.92" stroke="#ff5a5a" stroke-width="1"/>
<text transform="translate(323.7,445.97) scale(0.905,1)" font-size="8.4" text-anchor="start">GNSS RTK/UWB-5BS/DBA</text>
</svg>
</body></html>
